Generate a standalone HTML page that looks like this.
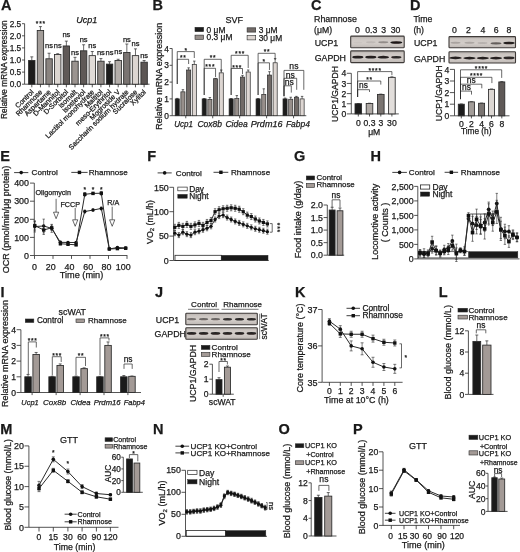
<!DOCTYPE html>
<html><head><meta charset="utf-8"><style>
html,body{margin:0;padding:0;background:#fff;}
svg{display:block;}
text{font-family:"Liberation Sans",Arial,sans-serif;stroke:#1a1a1a;stroke-width:0.25px;}
</style></head><body>
<svg width="520" height="552" viewBox="0 0 520 552" fill="#1a1a1a">
<rect width="520" height="552" fill="#fff"/>
<text x="1.05" y="10.2" font-size="14.5" font-weight="bold" stroke-width="0.1">A</text>
<text x="86.8" y="22.6" font-size="9" text-anchor="middle" font-style="italic">Ucp1</text>
<line x1="24.6" y1="23.7" x2="24.6" y2="84.2" stroke="#2a2a2a" stroke-width="0.8"/>
<line x1="22" y1="84.2" x2="24.6" y2="84.2" stroke="#2a2a2a" stroke-width="0.8"/>
<text x="21.2" y="87.19" font-size="8.3" text-anchor="end">0.0</text>
<line x1="22" y1="72.1" x2="24.6" y2="72.1" stroke="#2a2a2a" stroke-width="0.8"/>
<text x="21.2" y="75.09" font-size="8.3" text-anchor="end">0.5</text>
<line x1="22" y1="60" x2="24.6" y2="60" stroke="#2a2a2a" stroke-width="0.8"/>
<text x="21.2" y="62.99" font-size="8.3" text-anchor="end">1.0</text>
<line x1="22" y1="47.9" x2="24.6" y2="47.9" stroke="#2a2a2a" stroke-width="0.8"/>
<text x="21.2" y="50.89" font-size="8.3" text-anchor="end">1.5</text>
<line x1="22" y1="35.8" x2="24.6" y2="35.8" stroke="#2a2a2a" stroke-width="0.8"/>
<text x="21.2" y="38.79" font-size="8.3" text-anchor="end">2.0</text>
<line x1="22" y1="23.7" x2="24.6" y2="23.7" stroke="#2a2a2a" stroke-width="0.8"/>
<text x="21.2" y="26.69" font-size="8.3" text-anchor="end">2.5</text>
<text x="6.9" y="69.7" font-size="8.3" text-anchor="middle" transform="rotate(-90 6.9 69.7)">Relative mRNA expression</text>
<line x1="24.6" y1="84.2" x2="149.6" y2="84.2" stroke="#2a2a2a" stroke-width="0.8"/>
<line x1="31.8" y1="60.48" x2="31.8" y2="56.85" stroke="#2a2a2a" stroke-width="0.7"/>
<line x1="30.3" y1="56.85" x2="33.3" y2="56.85" stroke="#2a2a2a" stroke-width="0.7"/>
<rect x="28.6" y="60.48" width="6.4" height="23.72" fill="#1c1c1c" stroke="#2a2a2a" stroke-width="0.85"/>
<line x1="31.8" y1="84.2" x2="31.8" y2="87.3" stroke="#2a2a2a" stroke-width="0.8"/>
<text x="34.1" y="92.5" font-size="7.05" text-anchor="end" transform="rotate(-45 34.1 92.5)" stroke-width="0.1">Control</text>
<line x1="40.44" y1="30.48" x2="40.44" y2="26.6" stroke="#2a2a2a" stroke-width="0.7"/>
<line x1="38.94" y1="26.6" x2="41.94" y2="26.6" stroke="#2a2a2a" stroke-width="0.7"/>
<rect x="37.24" y="30.48" width="6.4" height="53.72" fill="#a39d99" stroke="#2a2a2a" stroke-width="0.85"/>
<line x1="40.44" y1="84.2" x2="40.44" y2="87.3" stroke="#2a2a2a" stroke-width="0.8"/>
<text x="42.74" y="92.5" font-size="7.05" text-anchor="end" transform="rotate(-45 42.74 92.5)" stroke-width="0.1">Rhamnose</text>
<text x="40.82" y="26.44" font-size="6.6" text-anchor="middle" letter-spacing="0.75">***</text>
<line x1="49.08" y1="58.79" x2="49.08" y2="53.22" stroke="#2a2a2a" stroke-width="0.7"/>
<line x1="47.58" y1="53.22" x2="50.58" y2="53.22" stroke="#2a2a2a" stroke-width="0.7"/>
<rect x="45.88" y="58.79" width="6.4" height="25.41" fill="#8a8480" stroke="#2a2a2a" stroke-width="0.85"/>
<line x1="49.08" y1="84.2" x2="49.08" y2="87.3" stroke="#2a2a2a" stroke-width="0.8"/>
<text x="51.38" y="92.5" font-size="7.05" text-anchor="end" transform="rotate(-45 51.38 92.5)" stroke-width="0.1">Aspartame</text>
<text x="49.08" y="47.9" font-size="7.5" text-anchor="middle">ns</text>
<line x1="57.72" y1="54.43" x2="57.72" y2="53.71" stroke="#2a2a2a" stroke-width="0.7"/>
<line x1="56.22" y1="53.71" x2="59.22" y2="53.71" stroke="#2a2a2a" stroke-width="0.7"/>
<rect x="54.52" y="54.43" width="6.4" height="29.77" fill="#dcd6d1" stroke="#2a2a2a" stroke-width="0.85"/>
<line x1="57.72" y1="84.2" x2="57.72" y2="87.3" stroke="#2a2a2a" stroke-width="0.8"/>
<text x="60.02" y="92.5" font-size="7.05" text-anchor="end" transform="rotate(-45 60.02 92.5)" stroke-width="0.1">D-Mannitol</text>
<text x="57.72" y="47.9" font-size="7.5" text-anchor="middle">ns</text>
<line x1="66.36" y1="45.96" x2="66.36" y2="41.12" stroke="#2a2a2a" stroke-width="0.7"/>
<line x1="64.86" y1="41.12" x2="67.86" y2="41.12" stroke="#2a2a2a" stroke-width="0.7"/>
<rect x="63.16" y="45.96" width="6.4" height="38.24" fill="#5f5957" stroke="#2a2a2a" stroke-width="0.85"/>
<line x1="66.36" y1="84.2" x2="66.36" y2="87.3" stroke="#2a2a2a" stroke-width="0.8"/>
<text x="68.66" y="92.5" font-size="7.05" text-anchor="end" transform="rotate(-45 68.66 92.5)" stroke-width="0.1">D-Sorbitol</text>
<text x="66.36" y="37.3" font-size="7.5" text-anchor="middle">ns</text>
<line x1="75" y1="61.21" x2="75" y2="57.34" stroke="#2a2a2a" stroke-width="0.7"/>
<line x1="73.5" y1="57.34" x2="76.5" y2="57.34" stroke="#2a2a2a" stroke-width="0.7"/>
<rect x="71.8" y="61.21" width="6.4" height="22.99" fill="#9b9490" stroke="#2a2a2a" stroke-width="0.85"/>
<line x1="75" y1="84.2" x2="75" y2="87.3" stroke="#2a2a2a" stroke-width="0.8"/>
<text x="77.3" y="92.5" font-size="7.05" text-anchor="end" transform="rotate(-45 77.3 92.5)" stroke-width="0.1">Isomalt</text>
<text x="75" y="54.8" font-size="7.5" text-anchor="middle">ns</text>
<line x1="83.64" y1="50.8" x2="83.64" y2="44.75" stroke="#2a2a2a" stroke-width="0.7"/>
<line x1="82.14" y1="44.75" x2="85.14" y2="44.75" stroke="#2a2a2a" stroke-width="0.7"/>
<rect x="80.44" y="50.8" width="6.4" height="33.4" fill="#5f5957" stroke="#2a2a2a" stroke-width="0.85"/>
<line x1="83.64" y1="84.2" x2="83.64" y2="87.3" stroke="#2a2a2a" stroke-width="0.8"/>
<text x="85.94" y="92.5" font-size="7.05" text-anchor="end" transform="rotate(-45 85.94 92.5)" stroke-width="0.1">Isosteviol</text>
<text x="83.64" y="41.5" font-size="7.5" text-anchor="middle">ns</text>
<line x1="92.28" y1="55.64" x2="92.28" y2="51.53" stroke="#2a2a2a" stroke-width="0.7"/>
<line x1="90.78" y1="51.53" x2="93.78" y2="51.53" stroke="#2a2a2a" stroke-width="0.7"/>
<rect x="89.08" y="55.64" width="6.4" height="28.56" fill="#e0dbd7" stroke="#2a2a2a" stroke-width="0.85"/>
<line x1="92.28" y1="84.2" x2="92.28" y2="87.3" stroke="#2a2a2a" stroke-width="0.8"/>
<text x="94.58" y="92.5" font-size="7.05" text-anchor="end" transform="rotate(-45 94.58 92.5)" stroke-width="0.1">Lactitol monohydrate</text>
<text x="92.28" y="47.9" font-size="7.5" text-anchor="middle">ns</text>
<line x1="100.92" y1="61.21" x2="100.92" y2="58.55" stroke="#2a2a2a" stroke-width="0.7"/>
<line x1="99.42" y1="58.55" x2="102.42" y2="58.55" stroke="#2a2a2a" stroke-width="0.7"/>
<rect x="97.72" y="61.21" width="6.4" height="22.99" fill="#8e8884" stroke="#2a2a2a" stroke-width="0.85"/>
<line x1="100.92" y1="84.2" x2="100.92" y2="87.3" stroke="#2a2a2a" stroke-width="0.8"/>
<text x="103.22" y="92.5" font-size="7.05" text-anchor="end" transform="rotate(-45 103.22 92.5)" stroke-width="0.1">Maltitol</text>
<text x="100.92" y="54.8" font-size="7.5" text-anchor="middle">ns</text>
<line x1="109.56" y1="64.11" x2="109.56" y2="61.69" stroke="#2a2a2a" stroke-width="0.7"/>
<line x1="108.06" y1="61.69" x2="111.06" y2="61.69" stroke="#2a2a2a" stroke-width="0.7"/>
<rect x="106.36" y="64.11" width="6.4" height="20.09" fill="#1c1c1c" stroke="#2a2a2a" stroke-width="0.85"/>
<line x1="109.56" y1="84.2" x2="109.56" y2="87.3" stroke="#2a2a2a" stroke-width="0.8"/>
<text x="111.86" y="92.5" font-size="7.05" text-anchor="end" transform="rotate(-45 111.86 92.5)" stroke-width="0.1">meso-Erythritol</text>
<text x="109.56" y="54.8" font-size="7.5" text-anchor="middle">ns</text>
<line x1="118.2" y1="60.48" x2="118.2" y2="59.27" stroke="#2a2a2a" stroke-width="0.7"/>
<line x1="116.7" y1="59.27" x2="119.7" y2="59.27" stroke="#2a2a2a" stroke-width="0.7"/>
<rect x="115" y="60.48" width="6.4" height="23.72" fill="#b3ada9" stroke="#2a2a2a" stroke-width="0.85"/>
<line x1="118.2" y1="84.2" x2="118.2" y2="87.3" stroke="#2a2a2a" stroke-width="0.8"/>
<text x="120.5" y="92.5" font-size="7.05" text-anchor="end" transform="rotate(-45 120.5 92.5)" stroke-width="0.1">Mogroside V</text>
<text x="118.2" y="54.2" font-size="7.5" text-anchor="middle">ns</text>
<line x1="126.84" y1="52.5" x2="126.84" y2="44.03" stroke="#2a2a2a" stroke-width="0.7"/>
<line x1="125.34" y1="44.03" x2="128.34" y2="44.03" stroke="#2a2a2a" stroke-width="0.7"/>
<rect x="123.64" y="52.5" width="6.4" height="31.7" fill="#7a7472" stroke="#2a2a2a" stroke-width="0.85"/>
<line x1="126.84" y1="84.2" x2="126.84" y2="87.3" stroke="#2a2a2a" stroke-width="0.8"/>
<text x="129.14" y="92.5" font-size="7.05" text-anchor="end" transform="rotate(-45 129.14 92.5)" stroke-width="0.1">Saccharin sodium hydrate</text>
<text x="126.84" y="41.5" font-size="7.5" text-anchor="middle">ns</text>
<line x1="135.48" y1="55.64" x2="135.48" y2="48.87" stroke="#2a2a2a" stroke-width="0.7"/>
<line x1="133.98" y1="48.87" x2="136.98" y2="48.87" stroke="#2a2a2a" stroke-width="0.7"/>
<rect x="132.28" y="55.64" width="6.4" height="28.56" fill="#dcd6d2" stroke="#2a2a2a" stroke-width="0.85"/>
<line x1="135.48" y1="84.2" x2="135.48" y2="87.3" stroke="#2a2a2a" stroke-width="0.8"/>
<text x="137.78" y="92.5" font-size="7.05" text-anchor="end" transform="rotate(-45 137.78 92.5)" stroke-width="0.1">Sucralose</text>
<text x="135.48" y="45.8" font-size="7.5" text-anchor="middle">ns</text>
<line x1="144.12" y1="62.18" x2="144.12" y2="60.48" stroke="#2a2a2a" stroke-width="0.7"/>
<line x1="142.62" y1="60.48" x2="145.62" y2="60.48" stroke="#2a2a2a" stroke-width="0.7"/>
<rect x="140.92" y="62.18" width="6.4" height="22.02" fill="#5c5654" stroke="#2a2a2a" stroke-width="0.85"/>
<line x1="144.12" y1="84.2" x2="144.12" y2="87.3" stroke="#2a2a2a" stroke-width="0.8"/>
<text x="146.42" y="92.5" font-size="7.05" text-anchor="end" transform="rotate(-45 146.42 92.5)" stroke-width="0.1">Xylitol</text>
<text x="144.12" y="57.8" font-size="7.5" text-anchor="middle">ns</text>
<text x="152.5" y="10.2" font-size="14.5" font-weight="bold" stroke-width="0.1">B</text>
<text x="225.6" y="22.6" font-size="9">SVF</text>
<rect x="195" y="27.3" width="8.6" height="4.3" fill="#1c1c1c" stroke="#2a2a2a" stroke-width="0.6"/>
<text x="206.6" y="32.5" font-size="8.4">0 μM</text>
<rect x="195" y="35.1" width="8.6" height="4.3" fill="#978f8b" stroke="#2a2a2a" stroke-width="0.6"/>
<text x="206.6" y="40.3" font-size="8.4">0.3 μM</text>
<rect x="247.1" y="27.8" width="8.6" height="4.3" fill="#716a67" stroke="#2a2a2a" stroke-width="0.6"/>
<text x="258.7" y="33" font-size="8.4">3 μM</text>
<rect x="247.1" y="35.6" width="8.6" height="4.3" fill="#ddd6d2" stroke="#2a2a2a" stroke-width="0.6"/>
<text x="258.7" y="40.8" font-size="8.4">30 μM</text>
<line x1="172.2" y1="48.5" x2="172.2" y2="115.7" stroke="#2a2a2a" stroke-width="0.8"/>
<line x1="169.6" y1="115.7" x2="172.2" y2="115.7" stroke="#2a2a2a" stroke-width="0.8"/>
<text x="168.8" y="118.72" font-size="8.4" text-anchor="end">0</text>
<line x1="169.6" y1="98.9" x2="172.2" y2="98.9" stroke="#2a2a2a" stroke-width="0.8"/>
<text x="168.8" y="101.92" font-size="8.4" text-anchor="end">1</text>
<line x1="169.6" y1="82.1" x2="172.2" y2="82.1" stroke="#2a2a2a" stroke-width="0.8"/>
<text x="168.8" y="85.12" font-size="8.4" text-anchor="end">2</text>
<line x1="169.6" y1="65.3" x2="172.2" y2="65.3" stroke="#2a2a2a" stroke-width="0.8"/>
<text x="168.8" y="68.32" font-size="8.4" text-anchor="end">3</text>
<line x1="169.6" y1="48.5" x2="172.2" y2="48.5" stroke="#2a2a2a" stroke-width="0.8"/>
<text x="168.8" y="51.52" font-size="8.4" text-anchor="end">4</text>
<text x="161.6" y="76.2" font-size="9" text-anchor="middle" transform="rotate(-90 161.6 76.2)">Relative mRNA expression</text>
<line x1="172.2" y1="115.7" x2="306.3" y2="115.7" stroke="#2a2a2a" stroke-width="0.8"/>
<line x1="177.25" y1="98.9" x2="177.25" y2="98.4" stroke="#2a2a2a" stroke-width="0.7"/>
<line x1="176.02" y1="98.4" x2="178.48" y2="98.4" stroke="#2a2a2a" stroke-width="0.7"/>
<rect x="175.2" y="98.9" width="4.1" height="16.8" fill="#1c1c1c" stroke="#2a2a2a" stroke-width="0.7"/>
<line x1="182.93" y1="91.84" x2="182.93" y2="89.66" stroke="#2a2a2a" stroke-width="0.7"/>
<line x1="181.7" y1="89.66" x2="184.16" y2="89.66" stroke="#2a2a2a" stroke-width="0.7"/>
<rect x="180.88" y="91.84" width="4.1" height="23.86" fill="#978f8b" stroke="#2a2a2a" stroke-width="0.7"/>
<line x1="188.61" y1="70" x2="188.61" y2="67.82" stroke="#2a2a2a" stroke-width="0.7"/>
<line x1="187.38" y1="67.82" x2="189.84" y2="67.82" stroke="#2a2a2a" stroke-width="0.7"/>
<rect x="186.56" y="70" width="4.1" height="45.7" fill="#716a67" stroke="#2a2a2a" stroke-width="0.7"/>
<line x1="194.29" y1="64.46" x2="194.29" y2="61.1" stroke="#2a2a2a" stroke-width="0.7"/>
<line x1="193.06" y1="61.1" x2="195.52" y2="61.1" stroke="#2a2a2a" stroke-width="0.7"/>
<rect x="192.24" y="64.46" width="4.1" height="51.24" fill="#ddd6d2" stroke="#2a2a2a" stroke-width="0.7"/>
<line x1="185.77" y1="115.7" x2="185.77" y2="118.3" stroke="#2a2a2a" stroke-width="0.8"/>
<line x1="204.2" y1="98.9" x2="204.2" y2="98.56" stroke="#2a2a2a" stroke-width="0.7"/>
<line x1="202.97" y1="98.56" x2="205.43" y2="98.56" stroke="#2a2a2a" stroke-width="0.7"/>
<rect x="202.15" y="98.9" width="4.1" height="16.8" fill="#1c1c1c" stroke="#2a2a2a" stroke-width="0.7"/>
<line x1="209.88" y1="99.4" x2="209.88" y2="97.56" stroke="#2a2a2a" stroke-width="0.7"/>
<line x1="208.65" y1="97.56" x2="211.11" y2="97.56" stroke="#2a2a2a" stroke-width="0.7"/>
<rect x="207.83" y="99.4" width="4.1" height="16.3" fill="#978f8b" stroke="#2a2a2a" stroke-width="0.7"/>
<line x1="215.56" y1="78.74" x2="215.56" y2="78.4" stroke="#2a2a2a" stroke-width="0.7"/>
<line x1="214.33" y1="78.4" x2="216.79" y2="78.4" stroke="#2a2a2a" stroke-width="0.7"/>
<rect x="213.51" y="78.74" width="4.1" height="36.96" fill="#716a67" stroke="#2a2a2a" stroke-width="0.7"/>
<line x1="221.24" y1="72.86" x2="221.24" y2="70" stroke="#2a2a2a" stroke-width="0.7"/>
<line x1="220.01" y1="70" x2="222.47" y2="70" stroke="#2a2a2a" stroke-width="0.7"/>
<rect x="219.19" y="72.86" width="4.1" height="42.84" fill="#ddd6d2" stroke="#2a2a2a" stroke-width="0.7"/>
<line x1="212.72" y1="115.7" x2="212.72" y2="118.3" stroke="#2a2a2a" stroke-width="0.8"/>
<line x1="231.15" y1="98.9" x2="231.15" y2="98.56" stroke="#2a2a2a" stroke-width="0.7"/>
<line x1="229.92" y1="98.56" x2="232.38" y2="98.56" stroke="#2a2a2a" stroke-width="0.7"/>
<rect x="229.1" y="98.9" width="4.1" height="16.8" fill="#1c1c1c" stroke="#2a2a2a" stroke-width="0.7"/>
<line x1="236.83" y1="98.56" x2="236.83" y2="95.54" stroke="#2a2a2a" stroke-width="0.7"/>
<line x1="235.6" y1="95.54" x2="238.06" y2="95.54" stroke="#2a2a2a" stroke-width="0.7"/>
<rect x="234.78" y="98.56" width="4.1" height="17.14" fill="#978f8b" stroke="#2a2a2a" stroke-width="0.7"/>
<line x1="242.51" y1="77.06" x2="242.51" y2="75.38" stroke="#2a2a2a" stroke-width="0.7"/>
<line x1="241.28" y1="75.38" x2="243.74" y2="75.38" stroke="#2a2a2a" stroke-width="0.7"/>
<rect x="240.46" y="77.06" width="4.1" height="38.64" fill="#716a67" stroke="#2a2a2a" stroke-width="0.7"/>
<line x1="248.19" y1="72.02" x2="248.19" y2="70" stroke="#2a2a2a" stroke-width="0.7"/>
<line x1="246.96" y1="70" x2="249.42" y2="70" stroke="#2a2a2a" stroke-width="0.7"/>
<rect x="246.14" y="72.02" width="4.1" height="43.68" fill="#ddd6d2" stroke="#2a2a2a" stroke-width="0.7"/>
<line x1="239.67" y1="115.7" x2="239.67" y2="118.3" stroke="#2a2a2a" stroke-width="0.8"/>
<line x1="258.1" y1="98.9" x2="258.1" y2="98.56" stroke="#2a2a2a" stroke-width="0.7"/>
<line x1="256.87" y1="98.56" x2="259.33" y2="98.56" stroke="#2a2a2a" stroke-width="0.7"/>
<rect x="256.05" y="98.9" width="4.1" height="16.8" fill="#1c1c1c" stroke="#2a2a2a" stroke-width="0.7"/>
<line x1="263.78" y1="94.36" x2="263.78" y2="88.82" stroke="#2a2a2a" stroke-width="0.7"/>
<line x1="262.55" y1="88.82" x2="265.01" y2="88.82" stroke="#2a2a2a" stroke-width="0.7"/>
<rect x="261.73" y="94.36" width="4.1" height="21.34" fill="#978f8b" stroke="#2a2a2a" stroke-width="0.7"/>
<line x1="269.46" y1="75.04" x2="269.46" y2="71.68" stroke="#2a2a2a" stroke-width="0.7"/>
<line x1="268.23" y1="71.68" x2="270.69" y2="71.68" stroke="#2a2a2a" stroke-width="0.7"/>
<rect x="267.41" y="75.04" width="4.1" height="40.66" fill="#716a67" stroke="#2a2a2a" stroke-width="0.7"/>
<line x1="275.14" y1="62.78" x2="275.14" y2="58.58" stroke="#2a2a2a" stroke-width="0.7"/>
<line x1="273.91" y1="58.58" x2="276.37" y2="58.58" stroke="#2a2a2a" stroke-width="0.7"/>
<rect x="273.09" y="62.78" width="4.1" height="52.92" fill="#ddd6d2" stroke="#2a2a2a" stroke-width="0.7"/>
<line x1="266.62" y1="115.7" x2="266.62" y2="118.3" stroke="#2a2a2a" stroke-width="0.8"/>
<line x1="285.05" y1="98.9" x2="285.05" y2="98.06" stroke="#2a2a2a" stroke-width="0.7"/>
<line x1="283.82" y1="98.06" x2="286.28" y2="98.06" stroke="#2a2a2a" stroke-width="0.7"/>
<rect x="283" y="98.9" width="4.1" height="16.8" fill="#1c1c1c" stroke="#2a2a2a" stroke-width="0.7"/>
<line x1="290.73" y1="99.24" x2="290.73" y2="97.22" stroke="#2a2a2a" stroke-width="0.7"/>
<line x1="289.5" y1="97.22" x2="291.96" y2="97.22" stroke="#2a2a2a" stroke-width="0.7"/>
<rect x="288.68" y="99.24" width="4.1" height="16.46" fill="#978f8b" stroke="#2a2a2a" stroke-width="0.7"/>
<line x1="296.41" y1="97.22" x2="296.41" y2="96.38" stroke="#2a2a2a" stroke-width="0.7"/>
<line x1="295.18" y1="96.38" x2="297.64" y2="96.38" stroke="#2a2a2a" stroke-width="0.7"/>
<rect x="294.36" y="97.22" width="4.1" height="18.48" fill="#716a67" stroke="#2a2a2a" stroke-width="0.7"/>
<line x1="302.09" y1="98.9" x2="302.09" y2="96.38" stroke="#2a2a2a" stroke-width="0.7"/>
<line x1="300.86" y1="96.38" x2="303.32" y2="96.38" stroke="#2a2a2a" stroke-width="0.7"/>
<rect x="300.04" y="98.9" width="4.1" height="16.8" fill="#ddd6d2" stroke="#2a2a2a" stroke-width="0.7"/>
<line x1="293.57" y1="115.7" x2="293.57" y2="118.3" stroke="#2a2a2a" stroke-width="0.8"/>
<text x="174.3" y="126.6" font-size="8.9" textLength="18.7" lengthAdjust="spacingAndGlyphs" font-style="italic">Ucp1</text>
<text x="197.4" y="126.6" font-size="8.9" textLength="24.5" lengthAdjust="spacingAndGlyphs" font-style="italic">Cox8b</text>
<text x="225.4" y="126.6" font-size="8.9" textLength="22.4" lengthAdjust="spacingAndGlyphs" font-style="italic">Cidea</text>
<text x="250.8" y="126.6" font-size="8.9" textLength="31.7" lengthAdjust="spacingAndGlyphs" font-style="italic">Prdm16</text>
<text x="285.9" y="126.6" font-size="8.9" textLength="24" lengthAdjust="spacingAndGlyphs" font-style="italic">Fabp4</text>
<polyline points="177.25,84 177.25,51.6 194.29,51.6 194.29,58" fill="none" stroke="#2a2a2a" stroke-width="0.7"/>
<text x="186.14" y="52.63" font-size="6.6" text-anchor="middle" letter-spacing="0.75">*</text>
<polyline points="177.25,84 177.25,59.3 188.61,59.3 188.61,64" fill="none" stroke="#2a2a2a" stroke-width="0.7"/>
<text x="183.31" y="60.33" font-size="6.6" text-anchor="middle" letter-spacing="0.75">**</text>
<polyline points="204.2,95 204.2,59.3 221.24,59.3 221.24,72" fill="none" stroke="#2a2a2a" stroke-width="0.7"/>
<text x="213.09" y="60.33" font-size="6.6" text-anchor="middle" letter-spacing="0.75">**</text>
<polyline points="204.2,95 204.2,68.3 215.56,68.3 215.56,77" fill="none" stroke="#2a2a2a" stroke-width="0.7"/>
<text x="210.25" y="69.33" font-size="6.6" text-anchor="middle" letter-spacing="0.75">***</text>
<polyline points="231.15,95 231.15,55.3 248.19,55.3 248.19,68" fill="none" stroke="#2a2a2a" stroke-width="0.7"/>
<text x="240.05" y="56.33" font-size="6.6" text-anchor="middle" letter-spacing="0.75">***</text>
<polyline points="231.15,95 231.15,68.5 242.51,68.5 242.51,74" fill="none" stroke="#2a2a2a" stroke-width="0.7"/>
<text x="237.2" y="69.53" font-size="6.6" text-anchor="middle" letter-spacing="0.75">***</text>
<polyline points="258.1,95 258.1,53.3 275.14,53.3 275.14,60" fill="none" stroke="#2a2a2a" stroke-width="0.7"/>
<text x="267" y="54.33" font-size="6.6" text-anchor="middle" letter-spacing="0.75">**</text>
<polyline points="258.1,95 258.1,62.8 269.46,62.8 269.46,70" fill="none" stroke="#2a2a2a" stroke-width="0.7"/>
<text x="264.15" y="63.83" font-size="6.6" text-anchor="middle" letter-spacing="0.75">*</text>
<polyline points="284,96.2 284,70.4 303.8,70.4 303.8,89.8" fill="none" stroke="#2a2a2a" stroke-width="0.7"/>
<text x="293.9" y="69" font-size="8.6" text-anchor="middle">ns</text>
<polyline points="284,96.2 284,78.3 296.7,78.3 296.7,89.8" fill="none" stroke="#2a2a2a" stroke-width="0.7"/>
<text x="290.35" y="77.6" font-size="8.6" text-anchor="middle">ns</text>
<polyline points="284,96.2 284,85.8 291.3,85.8 291.3,92.6" fill="none" stroke="#2a2a2a" stroke-width="0.7"/>
<text x="289.2" y="85.3" font-size="8.6" text-anchor="middle">ns</text>
<defs><filter id="bl" x="-50%" y="-50%" width="200%" height="200%"><feGaussianBlur stdDeviation="0.7"/></filter><filter id="bl2" x="-50%" y="-50%" width="200%" height="200%"><feGaussianBlur stdDeviation="0.45"/></filter><linearGradient id="blotg" x1="0" y1="0" x2="0" y2="1"><stop offset="0" stop-color="#b9b3af"/><stop offset="0.25" stop-color="#cdc7c3"/><stop offset="0.6" stop-color="#d3cdc9"/><stop offset="1" stop-color="#bfb9b5"/></linearGradient></defs>
<text x="311" y="10.2" font-size="14.5" font-weight="bold" stroke-width="0.1">C</text>
<text x="314" y="22.4" font-size="8.9">Rhamnose</text>
<text x="314" y="33.2" font-size="8.7">(μM)</text>
<text x="357.4" y="33.2" font-size="8.7" text-anchor="middle">0</text>
<text x="371.2" y="33.2" font-size="8.7" text-anchor="middle">0.3</text>
<text x="383.6" y="33.2" font-size="8.7" text-anchor="middle">3</text>
<text x="395.5" y="33.2" font-size="8.7" text-anchor="middle">30</text>
<text x="314.7" y="45.9" font-size="8.8">UCP1</text>
<text x="314.7" y="61.3" font-size="8.8">GAPDH</text>
<rect x="350.7" y="36.1" width="53.5" height="11.7" rx="0.8" fill="url(#blotg)" stroke="#3e3a38" stroke-width="1.1"/>
<ellipse cx="357.8" cy="42.6" rx="4.5" ry="0.92" fill="#1a1616" opacity="0.04" filter="url(#bl2)"/>
<ellipse cx="370.8" cy="42.3" rx="4.8" ry="0.95" fill="#1a1616" opacity="0.1" filter="url(#bl2)"/>
<ellipse cx="383.3" cy="42.2" rx="5" ry="1.06" fill="#1a1616" opacity="0.35" filter="url(#bl2)"/>
<ellipse cx="396.3" cy="42.5" rx="6" ry="1.35" fill="#1a1616" opacity="1" filter="url(#bl2)"/>
<rect x="350.7" y="50.9" width="53.5" height="11.7" rx="0.8" fill="url(#blotg)" stroke="#3e3a38" stroke-width="1.1"/>
<ellipse cx="357.8" cy="57.2" rx="5.6" ry="1.33" fill="#1a1616" opacity="0.95" filter="url(#bl2)"/>
<ellipse cx="370.8" cy="57.2" rx="5.6" ry="1.33" fill="#1a1616" opacity="0.95" filter="url(#bl2)"/>
<ellipse cx="383.3" cy="57.2" rx="5.8" ry="1.33" fill="#1a1616" opacity="0.95" filter="url(#bl2)"/>
<ellipse cx="396.3" cy="57.2" rx="5.2" ry="1.31" fill="#1a1616" opacity="0.9" filter="url(#bl2)"/>
<line x1="351.3" y1="73.3" x2="351.3" y2="113.9" stroke="#2a2a2a" stroke-width="0.8"/>
<line x1="346.8" y1="113.9" x2="351.3" y2="113.9" stroke="#2a2a2a" stroke-width="0.8"/>
<text x="346.2" y="117" font-size="8.6" text-anchor="end">0</text>
<line x1="346.8" y1="103.75" x2="351.3" y2="103.75" stroke="#2a2a2a" stroke-width="0.8"/>
<text x="346.2" y="106.85" font-size="8.6" text-anchor="end">1</text>
<line x1="346.8" y1="93.6" x2="351.3" y2="93.6" stroke="#2a2a2a" stroke-width="0.8"/>
<text x="346.2" y="96.7" font-size="8.6" text-anchor="end">2</text>
<line x1="346.8" y1="83.45" x2="351.3" y2="83.45" stroke="#2a2a2a" stroke-width="0.8"/>
<text x="346.2" y="86.55" font-size="8.6" text-anchor="end">3</text>
<line x1="346.8" y1="73.3" x2="351.3" y2="73.3" stroke="#2a2a2a" stroke-width="0.8"/>
<text x="346.2" y="76.4" font-size="8.6" text-anchor="end">4</text>
<text x="338.2" y="94" font-size="8.6" text-anchor="middle" transform="rotate(-90 338.2 94)">UCP1/GAPDH</text>
<line x1="351.4" y1="113.9" x2="398.8" y2="113.9" stroke="#2a2a2a" stroke-width="0.8"/>
<line x1="358.3" y1="103.75" x2="358.3" y2="103.55" stroke="#2a2a2a" stroke-width="0.7"/>
<line x1="356.8" y1="103.55" x2="359.8" y2="103.55" stroke="#2a2a2a" stroke-width="0.7"/>
<rect x="355" y="103.75" width="6.6" height="10.15" fill="#1c1c1c" stroke="#2a2a2a" stroke-width="0.85"/>
<line x1="358.3" y1="113.9" x2="358.3" y2="116.5" stroke="#2a2a2a" stroke-width="0.8"/>
<text x="358.3" y="126.3" font-size="8.6" text-anchor="middle">0</text>
<line x1="369.5" y1="103.45" x2="369.5" y2="103.24" stroke="#2a2a2a" stroke-width="0.7"/>
<line x1="368" y1="103.24" x2="371" y2="103.24" stroke="#2a2a2a" stroke-width="0.7"/>
<rect x="366.2" y="103.45" width="6.6" height="10.45" fill="#b0aaa6" stroke="#2a2a2a" stroke-width="0.85"/>
<line x1="369.5" y1="113.9" x2="369.5" y2="116.5" stroke="#2a2a2a" stroke-width="0.8"/>
<text x="369.5" y="126.3" font-size="8.6" text-anchor="middle">0.3</text>
<line x1="380.8" y1="94.41" x2="380.8" y2="94.11" stroke="#2a2a2a" stroke-width="0.7"/>
<line x1="379.3" y1="94.11" x2="382.3" y2="94.11" stroke="#2a2a2a" stroke-width="0.7"/>
<rect x="377.5" y="94.41" width="6.6" height="19.49" fill="#7a7471" stroke="#2a2a2a" stroke-width="0.85"/>
<line x1="380.8" y1="113.9" x2="380.8" y2="116.5" stroke="#2a2a2a" stroke-width="0.8"/>
<text x="380.8" y="126.3" font-size="8.6" text-anchor="middle">3</text>
<line x1="391.9" y1="77.36" x2="391.9" y2="76.85" stroke="#2a2a2a" stroke-width="0.7"/>
<line x1="390.4" y1="76.85" x2="393.4" y2="76.85" stroke="#2a2a2a" stroke-width="0.7"/>
<rect x="388.6" y="77.36" width="6.6" height="36.54" fill="#e2dedb" stroke="#2a2a2a" stroke-width="0.85"/>
<line x1="391.9" y1="113.9" x2="391.9" y2="116.5" stroke="#2a2a2a" stroke-width="0.8"/>
<text x="391.9" y="126.3" font-size="8.6" text-anchor="middle">30</text>
<text x="374.2" y="134.6" font-size="8.6" text-anchor="middle">μM</text>
<polyline points="357.6,97 357.6,71.6 391.9,71.6 391.9,75.2" fill="none" stroke="#2a2a2a" stroke-width="0.7"/>
<text x="375.12" y="72.63" font-size="6.6" text-anchor="middle" letter-spacing="0.75">****</text>
<polyline points="357.6,97 357.6,81 380.8,81 380.8,84.6" fill="none" stroke="#2a2a2a" stroke-width="0.7"/>
<text x="369.58" y="82.03" font-size="6.6" text-anchor="middle" letter-spacing="0.75">**</text>
<polyline points="357.6,97 357.6,89.7 369.5,89.7 369.5,92" fill="none" stroke="#2a2a2a" stroke-width="0.7"/>
<text x="363.55" y="88.2" font-size="8.4" text-anchor="middle">ns</text>
<text x="410" y="10.2" font-size="14.5" font-weight="bold" stroke-width="0.1">D</text>
<text x="413.4" y="22.4" font-size="8.7">Time</text>
<text x="413.4" y="33.2" font-size="8.7">(h)</text>
<text x="454.4" y="33.2" font-size="8.7" text-anchor="middle">0</text>
<text x="468.4" y="33.2" font-size="8.7" text-anchor="middle">2</text>
<text x="482.8" y="33.2" font-size="8.7" text-anchor="middle">4</text>
<text x="496.1" y="33.2" font-size="8.7" text-anchor="middle">6</text>
<text x="508.9" y="33.2" font-size="8.7" text-anchor="middle">8</text>
<text x="414" y="45.9" font-size="8.8">UCP1</text>
<text x="414" y="61.5" font-size="8.8">GAPDH</text>
<rect x="449" y="36.6" width="66.5" height="11.2" rx="0.8" fill="url(#blotg)" stroke="#3e3a38" stroke-width="1.1"/>
<ellipse cx="455.5" cy="42.8" rx="5" ry="1" fill="#1a1616" opacity="0.22" filter="url(#bl2)"/>
<ellipse cx="469.5" cy="42.8" rx="5" ry="0.99" fill="#1a1616" opacity="0.2" filter="url(#bl2)"/>
<ellipse cx="482.5" cy="43" rx="5" ry="0.96" fill="#1a1616" opacity="0.14" filter="url(#bl2)"/>
<ellipse cx="496" cy="43.3" rx="5.5" ry="1.17" fill="#1a1616" opacity="0.6" filter="url(#bl2)"/>
<ellipse cx="509" cy="43" rx="5.8" ry="1.33" fill="#1a1616" opacity="0.95" filter="url(#bl2)"/>
<rect x="449" y="51.8" width="66.5" height="11.2" rx="0.8" fill="url(#blotg)" stroke="#3e3a38" stroke-width="1.1"/>
<ellipse cx="455.5" cy="57.9" rx="6.2" ry="1.33" fill="#1a1616" opacity="0.95" filter="url(#bl2)"/>
<ellipse cx="469.5" cy="58.1" rx="6.2" ry="1.33" fill="#1a1616" opacity="0.95" filter="url(#bl2)"/>
<ellipse cx="482.8" cy="58.1" rx="6.2" ry="1.33" fill="#1a1616" opacity="0.95" filter="url(#bl2)"/>
<ellipse cx="496" cy="58.1" rx="6.2" ry="1.33" fill="#1a1616" opacity="0.95" filter="url(#bl2)"/>
<ellipse cx="509" cy="57.9" rx="5.6" ry="1.31" fill="#1a1616" opacity="0.9" filter="url(#bl2)"/>
<line x1="454.5" y1="69.4" x2="454.5" y2="115.8" stroke="#2a2a2a" stroke-width="0.8"/>
<line x1="449.9" y1="115.8" x2="454.5" y2="115.8" stroke="#2a2a2a" stroke-width="0.8"/>
<text x="449.3" y="118.9" font-size="8.6" text-anchor="end">0</text>
<line x1="449.9" y1="104.2" x2="454.5" y2="104.2" stroke="#2a2a2a" stroke-width="0.8"/>
<text x="449.3" y="107.3" font-size="8.6" text-anchor="end">1</text>
<line x1="449.9" y1="92.6" x2="454.5" y2="92.6" stroke="#2a2a2a" stroke-width="0.8"/>
<text x="449.3" y="95.7" font-size="8.6" text-anchor="end">2</text>
<line x1="449.9" y1="81" x2="454.5" y2="81" stroke="#2a2a2a" stroke-width="0.8"/>
<text x="449.3" y="84.1" font-size="8.6" text-anchor="end">3</text>
<line x1="449.9" y1="69.4" x2="454.5" y2="69.4" stroke="#2a2a2a" stroke-width="0.8"/>
<text x="449.3" y="72.5" font-size="8.6" text-anchor="end">4</text>
<text x="441.7" y="93.2" font-size="8.6" text-anchor="middle" transform="rotate(-90 441.7 93.2)">UCP1/GAPDH</text>
<line x1="454.6" y1="115.8" x2="509.5" y2="115.8" stroke="#2a2a2a" stroke-width="0.8"/>
<line x1="461.3" y1="104.2" x2="461.3" y2="103.97" stroke="#2a2a2a" stroke-width="0.7"/>
<line x1="459.8" y1="103.97" x2="462.8" y2="103.97" stroke="#2a2a2a" stroke-width="0.7"/>
<rect x="458.3" y="104.2" width="6" height="11.6" fill="#1c1c1c" stroke="#2a2a2a" stroke-width="0.85"/>
<line x1="461.3" y1="115.8" x2="461.3" y2="118.4" stroke="#2a2a2a" stroke-width="0.8"/>
<text x="461.3" y="126.6" font-size="8.6" text-anchor="middle">0</text>
<line x1="471.4" y1="101.88" x2="471.4" y2="101.65" stroke="#2a2a2a" stroke-width="0.7"/>
<line x1="469.9" y1="101.65" x2="472.9" y2="101.65" stroke="#2a2a2a" stroke-width="0.7"/>
<rect x="468.4" y="101.88" width="6" height="13.92" fill="#a39d99" stroke="#2a2a2a" stroke-width="0.85"/>
<line x1="471.4" y1="115.8" x2="471.4" y2="118.4" stroke="#2a2a2a" stroke-width="0.8"/>
<text x="471.4" y="126.6" font-size="8.6" text-anchor="middle">2</text>
<line x1="481.6" y1="103.27" x2="481.6" y2="103.04" stroke="#2a2a2a" stroke-width="0.7"/>
<line x1="480.1" y1="103.04" x2="483.1" y2="103.04" stroke="#2a2a2a" stroke-width="0.7"/>
<rect x="478.6" y="103.27" width="6" height="12.53" fill="#7a7471" stroke="#2a2a2a" stroke-width="0.85"/>
<line x1="481.6" y1="115.8" x2="481.6" y2="118.4" stroke="#2a2a2a" stroke-width="0.8"/>
<text x="481.6" y="126.6" font-size="8.6" text-anchor="middle">4</text>
<line x1="491.5" y1="89.35" x2="491.5" y2="89" stroke="#2a2a2a" stroke-width="0.7"/>
<line x1="490" y1="89" x2="493" y2="89" stroke="#2a2a2a" stroke-width="0.7"/>
<rect x="488.5" y="89.35" width="6" height="26.45" fill="#dcd7d3" stroke="#2a2a2a" stroke-width="0.85"/>
<line x1="491.5" y1="115.8" x2="491.5" y2="118.4" stroke="#2a2a2a" stroke-width="0.8"/>
<text x="491.5" y="126.6" font-size="8.6" text-anchor="middle">6</text>
<line x1="501.8" y1="81.93" x2="501.8" y2="81.58" stroke="#2a2a2a" stroke-width="0.7"/>
<line x1="500.3" y1="81.58" x2="503.3" y2="81.58" stroke="#2a2a2a" stroke-width="0.7"/>
<rect x="498.8" y="81.93" width="6" height="33.87" fill="#5f5957" stroke="#2a2a2a" stroke-width="0.85"/>
<line x1="501.8" y1="115.8" x2="501.8" y2="118.4" stroke="#2a2a2a" stroke-width="0.8"/>
<text x="501.8" y="126.6" font-size="8.6" text-anchor="middle">8</text>
<text x="476.2" y="134.2" font-size="8.3" text-anchor="middle">Time (h)</text>
<polyline points="460.5,99.1 460.5,69.8 501.7,69.8 501.7,77.9" fill="none" stroke="#2a2a2a" stroke-width="0.7"/>
<text x="481.48" y="70.83" font-size="6.6" text-anchor="middle" letter-spacing="0.75">****</text>
<polyline points="460.5,99.1 460.5,77.3 491.9,77.3 491.9,83.1" fill="none" stroke="#2a2a2a" stroke-width="0.7"/>
<text x="476.57" y="78.33" font-size="6.6" text-anchor="middle" letter-spacing="0.75">****</text>
<polyline points="460.5,99.1 460.5,84.2 481.8,84.2 481.8,88.3" fill="none" stroke="#2a2a2a" stroke-width="0.7"/>
<text x="471.15" y="83.1" font-size="8.4" text-anchor="middle">ns</text>
<polyline points="460.5,99.1 460.5,91.1 471.5,91.1 471.5,94.6" fill="none" stroke="#2a2a2a" stroke-width="0.7"/>
<text x="466.4" y="90" font-size="8.4" text-anchor="middle">ns</text>
<text x="0.3" y="160.5" font-size="14.5" font-weight="bold" stroke-width="0.1">E</text>
<line x1="14.1" y1="172.6" x2="28.3" y2="172.6" stroke="#2a2a2a" stroke-width="0.9"/>
<circle cx="21.2" cy="172.6" r="1.8" fill="#111"/>
<text x="31.6" y="175.2" font-size="8.1">Control</text>
<line x1="71.3" y1="172.4" x2="87.6" y2="172.4" stroke="#2a2a2a" stroke-width="0.9"/>
<rect x="77.74" y="170.69" width="3.42" height="3.42" fill="#111"/>
<text x="88.7" y="175" font-size="8.1">Rhamnose</text>
<line x1="34.3" y1="183.1" x2="34.3" y2="255.5" stroke="#2a2a2a" stroke-width="0.8"/>
<line x1="30" y1="255.5" x2="34.3" y2="255.5" stroke="#2a2a2a" stroke-width="0.8"/>
<text x="29" y="258.7" font-size="8.9" text-anchor="end">0</text>
<line x1="30" y1="237.4" x2="34.3" y2="237.4" stroke="#2a2a2a" stroke-width="0.8"/>
<text x="29" y="240.6" font-size="8.9" text-anchor="end">100</text>
<line x1="30" y1="219.3" x2="34.3" y2="219.3" stroke="#2a2a2a" stroke-width="0.8"/>
<text x="29" y="222.5" font-size="8.9" text-anchor="end">200</text>
<line x1="30" y1="201.2" x2="34.3" y2="201.2" stroke="#2a2a2a" stroke-width="0.8"/>
<text x="29" y="204.4" font-size="8.9" text-anchor="end">300</text>
<line x1="30" y1="183.1" x2="34.3" y2="183.1" stroke="#2a2a2a" stroke-width="0.8"/>
<text x="29" y="186.3" font-size="8.9" text-anchor="end">400</text>
<text x="8.6" y="219.5" font-size="9" text-anchor="middle" transform="rotate(-90 8.6 219.5)">OCR (pmol/min/μg protein)</text>
<line x1="34.3" y1="255.5" x2="127.3" y2="255.5" stroke="#2a2a2a" stroke-width="0.8"/>
<line x1="34.5" y1="255.5" x2="34.5" y2="258.9" stroke="#2a2a2a" stroke-width="0.8"/>
<line x1="53" y1="255.5" x2="53" y2="258.9" stroke="#2a2a2a" stroke-width="0.8"/>
<line x1="71.5" y1="255.5" x2="71.5" y2="258.9" stroke="#2a2a2a" stroke-width="0.8"/>
<line x1="90" y1="255.5" x2="90" y2="258.9" stroke="#2a2a2a" stroke-width="0.8"/>
<line x1="108.5" y1="255.5" x2="108.5" y2="258.9" stroke="#2a2a2a" stroke-width="0.8"/>
<line x1="127" y1="255.5" x2="127" y2="258.9" stroke="#2a2a2a" stroke-width="0.8"/>
<text x="34.5" y="270.2" font-size="8.9" text-anchor="middle">0</text>
<text x="50.7" y="270.2" font-size="8.9" text-anchor="middle">20</text>
<text x="69.4" y="270.2" font-size="8.9" text-anchor="middle">40</text>
<text x="88.2" y="270.2" font-size="8.9" text-anchor="middle">60</text>
<text x="106.5" y="270.2" font-size="8.9" text-anchor="middle">80</text>
<text x="123.2" y="270.2" font-size="8.9" text-anchor="middle">100</text>
<text x="81.5" y="277.9" font-size="9.2" text-anchor="middle">Time (min)</text>
<text x="35.4" y="194.6" font-size="7.2">Oligomycin</text>
<line x1="56.1" y1="198.8" x2="56.1" y2="212.2" stroke="#2a2a2a" stroke-width="0.7"/>
<polygon points="53.5,212.2 58.7,212.2 56.1,218.7" fill="#fff" stroke="#2a2a2a" stroke-width="0.7"/>
<text x="60.4" y="207.2" font-size="7.2">FCCP</text>
<line x1="75.2" y1="208" x2="75.2" y2="219.8" stroke="#2a2a2a" stroke-width="0.7"/>
<polygon points="72.6,219.8 77.8,219.8 75.2,226.3" fill="#fff" stroke="#2a2a2a" stroke-width="0.7"/>
<text x="107.2" y="205" font-size="7.2">R/A</text>
<line x1="112.2" y1="206.7" x2="112.2" y2="219.8" stroke="#2a2a2a" stroke-width="0.7"/>
<polygon points="109.6,219.8 114.8,219.8 112.2,226.3" fill="#fff" stroke="#2a2a2a" stroke-width="0.7"/>
<polyline points="34.8,226.54 43.7,226 51.7,228.35 60.4,242.29 68,242.47 76.1,242.47 84.8,211.52 93,210.07 101.3,208.44 109.3,248.98 117.4,247.54 125.7,247.9" fill="none" stroke="#2a2a2a" stroke-width="1"/>
<line x1="34.8" y1="221.11" x2="34.8" y2="231.97" stroke="#2a2a2a" stroke-width="0.6"/>
<line x1="33.6" y1="221.11" x2="36" y2="221.11" stroke="#2a2a2a" stroke-width="0.6"/>
<line x1="33.6" y1="231.97" x2="36" y2="231.97" stroke="#2a2a2a" stroke-width="0.6"/>
<line x1="43.7" y1="219.12" x2="43.7" y2="232.88" stroke="#2a2a2a" stroke-width="0.6"/>
<line x1="42.5" y1="219.12" x2="44.9" y2="219.12" stroke="#2a2a2a" stroke-width="0.6"/>
<line x1="42.5" y1="232.88" x2="44.9" y2="232.88" stroke="#2a2a2a" stroke-width="0.6"/>
<line x1="51.7" y1="224.37" x2="51.7" y2="232.33" stroke="#2a2a2a" stroke-width="0.6"/>
<line x1="50.5" y1="224.37" x2="52.9" y2="224.37" stroke="#2a2a2a" stroke-width="0.6"/>
<line x1="50.5" y1="232.33" x2="52.9" y2="232.33" stroke="#2a2a2a" stroke-width="0.6"/>
<line x1="60.4" y1="241.2" x2="60.4" y2="243.37" stroke="#2a2a2a" stroke-width="0.6"/>
<line x1="59.2" y1="241.2" x2="61.6" y2="241.2" stroke="#2a2a2a" stroke-width="0.6"/>
<line x1="59.2" y1="243.37" x2="61.6" y2="243.37" stroke="#2a2a2a" stroke-width="0.6"/>
<line x1="68" y1="241.56" x2="68" y2="243.37" stroke="#2a2a2a" stroke-width="0.6"/>
<line x1="66.8" y1="241.56" x2="69.2" y2="241.56" stroke="#2a2a2a" stroke-width="0.6"/>
<line x1="66.8" y1="243.37" x2="69.2" y2="243.37" stroke="#2a2a2a" stroke-width="0.6"/>
<line x1="76.1" y1="241.56" x2="76.1" y2="243.37" stroke="#2a2a2a" stroke-width="0.6"/>
<line x1="74.9" y1="241.56" x2="77.3" y2="241.56" stroke="#2a2a2a" stroke-width="0.6"/>
<line x1="74.9" y1="243.37" x2="77.3" y2="243.37" stroke="#2a2a2a" stroke-width="0.6"/>
<line x1="84.8" y1="210.07" x2="84.8" y2="212.97" stroke="#2a2a2a" stroke-width="0.6"/>
<line x1="83.6" y1="210.07" x2="86" y2="210.07" stroke="#2a2a2a" stroke-width="0.6"/>
<line x1="83.6" y1="212.97" x2="86" y2="212.97" stroke="#2a2a2a" stroke-width="0.6"/>
<line x1="93" y1="208.98" x2="93" y2="211.16" stroke="#2a2a2a" stroke-width="0.6"/>
<line x1="91.8" y1="208.98" x2="94.2" y2="208.98" stroke="#2a2a2a" stroke-width="0.6"/>
<line x1="91.8" y1="211.16" x2="94.2" y2="211.16" stroke="#2a2a2a" stroke-width="0.6"/>
<line x1="101.3" y1="206.99" x2="101.3" y2="209.89" stroke="#2a2a2a" stroke-width="0.6"/>
<line x1="100.1" y1="206.99" x2="102.5" y2="206.99" stroke="#2a2a2a" stroke-width="0.6"/>
<line x1="100.1" y1="209.89" x2="102.5" y2="209.89" stroke="#2a2a2a" stroke-width="0.6"/>
<line x1="109.3" y1="248.44" x2="109.3" y2="249.53" stroke="#2a2a2a" stroke-width="0.6"/>
<line x1="108.1" y1="248.44" x2="110.5" y2="248.44" stroke="#2a2a2a" stroke-width="0.6"/>
<line x1="108.1" y1="249.53" x2="110.5" y2="249.53" stroke="#2a2a2a" stroke-width="0.6"/>
<line x1="117.4" y1="246.81" x2="117.4" y2="248.26" stroke="#2a2a2a" stroke-width="0.6"/>
<line x1="116.2" y1="246.81" x2="118.6" y2="246.81" stroke="#2a2a2a" stroke-width="0.6"/>
<line x1="116.2" y1="248.26" x2="118.6" y2="248.26" stroke="#2a2a2a" stroke-width="0.6"/>
<line x1="125.7" y1="247.17" x2="125.7" y2="248.62" stroke="#2a2a2a" stroke-width="0.6"/>
<line x1="124.5" y1="247.17" x2="126.9" y2="247.17" stroke="#2a2a2a" stroke-width="0.6"/>
<line x1="124.5" y1="248.62" x2="126.9" y2="248.62" stroke="#2a2a2a" stroke-width="0.6"/>
<circle cx="34.8" cy="226.54" r="1.7" fill="#111"/>
<circle cx="43.7" cy="226" r="1.7" fill="#111"/>
<circle cx="51.7" cy="228.35" r="1.7" fill="#111"/>
<circle cx="60.4" cy="242.29" r="1.7" fill="#111"/>
<circle cx="68" cy="242.47" r="1.7" fill="#111"/>
<circle cx="76.1" cy="242.47" r="1.7" fill="#111"/>
<circle cx="84.8" cy="211.52" r="1.7" fill="#111"/>
<circle cx="93" cy="210.07" r="1.7" fill="#111"/>
<circle cx="101.3" cy="208.44" r="1.7" fill="#111"/>
<circle cx="109.3" cy="248.98" r="1.7" fill="#111"/>
<circle cx="117.4" cy="247.54" r="1.7" fill="#111"/>
<circle cx="125.7" cy="247.9" r="1.7" fill="#111"/>
<polyline points="34.8,225.63 43.7,229.98 51.7,227.81 60.4,243.74 68,244.28 76.1,244.82 84.8,194.32 93,193.42 101.3,193.24 109.3,248.98 117.4,248.62 125.7,248.26" fill="none" stroke="#2a2a2a" stroke-width="1"/>
<line x1="34.8" y1="221.11" x2="34.8" y2="230.16" stroke="#2a2a2a" stroke-width="0.6"/>
<line x1="33.6" y1="221.11" x2="36" y2="221.11" stroke="#2a2a2a" stroke-width="0.6"/>
<line x1="33.6" y1="230.16" x2="36" y2="230.16" stroke="#2a2a2a" stroke-width="0.6"/>
<line x1="43.7" y1="225.45" x2="43.7" y2="234.5" stroke="#2a2a2a" stroke-width="0.6"/>
<line x1="42.5" y1="225.45" x2="44.9" y2="225.45" stroke="#2a2a2a" stroke-width="0.6"/>
<line x1="42.5" y1="234.5" x2="44.9" y2="234.5" stroke="#2a2a2a" stroke-width="0.6"/>
<line x1="51.7" y1="225.09" x2="51.7" y2="230.52" stroke="#2a2a2a" stroke-width="0.6"/>
<line x1="50.5" y1="225.09" x2="52.9" y2="225.09" stroke="#2a2a2a" stroke-width="0.6"/>
<line x1="50.5" y1="230.52" x2="52.9" y2="230.52" stroke="#2a2a2a" stroke-width="0.6"/>
<line x1="60.4" y1="242.65" x2="60.4" y2="244.82" stroke="#2a2a2a" stroke-width="0.6"/>
<line x1="59.2" y1="242.65" x2="61.6" y2="242.65" stroke="#2a2a2a" stroke-width="0.6"/>
<line x1="59.2" y1="244.82" x2="61.6" y2="244.82" stroke="#2a2a2a" stroke-width="0.6"/>
<line x1="68" y1="243.37" x2="68" y2="245.18" stroke="#2a2a2a" stroke-width="0.6"/>
<line x1="66.8" y1="243.37" x2="69.2" y2="243.37" stroke="#2a2a2a" stroke-width="0.6"/>
<line x1="66.8" y1="245.18" x2="69.2" y2="245.18" stroke="#2a2a2a" stroke-width="0.6"/>
<line x1="76.1" y1="243.92" x2="76.1" y2="245.73" stroke="#2a2a2a" stroke-width="0.6"/>
<line x1="74.9" y1="243.92" x2="77.3" y2="243.92" stroke="#2a2a2a" stroke-width="0.6"/>
<line x1="74.9" y1="245.73" x2="77.3" y2="245.73" stroke="#2a2a2a" stroke-width="0.6"/>
<line x1="84.8" y1="192.51" x2="84.8" y2="196.13" stroke="#2a2a2a" stroke-width="0.6"/>
<line x1="83.6" y1="192.51" x2="86" y2="192.51" stroke="#2a2a2a" stroke-width="0.6"/>
<line x1="83.6" y1="196.13" x2="86" y2="196.13" stroke="#2a2a2a" stroke-width="0.6"/>
<line x1="93" y1="192.33" x2="93" y2="194.5" stroke="#2a2a2a" stroke-width="0.6"/>
<line x1="91.8" y1="192.33" x2="94.2" y2="192.33" stroke="#2a2a2a" stroke-width="0.6"/>
<line x1="91.8" y1="194.5" x2="94.2" y2="194.5" stroke="#2a2a2a" stroke-width="0.6"/>
<line x1="101.3" y1="191.43" x2="101.3" y2="195.05" stroke="#2a2a2a" stroke-width="0.6"/>
<line x1="100.1" y1="191.43" x2="102.5" y2="191.43" stroke="#2a2a2a" stroke-width="0.6"/>
<line x1="100.1" y1="195.05" x2="102.5" y2="195.05" stroke="#2a2a2a" stroke-width="0.6"/>
<line x1="109.3" y1="248.44" x2="109.3" y2="249.53" stroke="#2a2a2a" stroke-width="0.6"/>
<line x1="108.1" y1="248.44" x2="110.5" y2="248.44" stroke="#2a2a2a" stroke-width="0.6"/>
<line x1="108.1" y1="249.53" x2="110.5" y2="249.53" stroke="#2a2a2a" stroke-width="0.6"/>
<line x1="117.4" y1="247.9" x2="117.4" y2="249.35" stroke="#2a2a2a" stroke-width="0.6"/>
<line x1="116.2" y1="247.9" x2="118.6" y2="247.9" stroke="#2a2a2a" stroke-width="0.6"/>
<line x1="116.2" y1="249.35" x2="118.6" y2="249.35" stroke="#2a2a2a" stroke-width="0.6"/>
<line x1="125.7" y1="247.54" x2="125.7" y2="248.98" stroke="#2a2a2a" stroke-width="0.6"/>
<line x1="124.5" y1="247.54" x2="126.9" y2="247.54" stroke="#2a2a2a" stroke-width="0.6"/>
<line x1="124.5" y1="248.98" x2="126.9" y2="248.98" stroke="#2a2a2a" stroke-width="0.6"/>
<rect x="33.1" y="223.94" width="3.4" height="3.4" fill="#111"/>
<rect x="42" y="228.28" width="3.4" height="3.4" fill="#111"/>
<rect x="50" y="226.11" width="3.4" height="3.4" fill="#111"/>
<rect x="58.7" y="242.04" width="3.4" height="3.4" fill="#111"/>
<rect x="66.3" y="242.58" width="3.4" height="3.4" fill="#111"/>
<rect x="74.4" y="243.12" width="3.4" height="3.4" fill="#111"/>
<rect x="83.1" y="192.62" width="3.4" height="3.4" fill="#111"/>
<rect x="91.3" y="191.72" width="3.4" height="3.4" fill="#111"/>
<rect x="99.6" y="191.54" width="3.4" height="3.4" fill="#111"/>
<rect x="107.6" y="247.28" width="3.4" height="3.4" fill="#111"/>
<rect x="115.7" y="246.92" width="3.4" height="3.4" fill="#111"/>
<rect x="124" y="246.56" width="3.4" height="3.4" fill="#111"/>
<text x="85.17" y="191.73" font-size="6.6" text-anchor="middle" letter-spacing="0.75">*</text>
<text x="93.38" y="191.73" font-size="6.6" text-anchor="middle" letter-spacing="0.75">*</text>
<text x="101.67" y="191.73" font-size="6.6" text-anchor="middle" letter-spacing="0.75">*</text>
<text x="147.3" y="160.5" font-size="14.5" font-weight="bold" stroke-width="0.1">F</text>
<line x1="157.6" y1="172.9" x2="171.7" y2="172.9" stroke="#2a2a2a" stroke-width="0.9"/>
<circle cx="164.65" cy="172.9" r="1.8" fill="#111"/>
<text x="175.8" y="175.5" font-size="8.1">Control</text>
<line x1="213.5" y1="172.3" x2="228.3" y2="172.3" stroke="#2a2a2a" stroke-width="0.9"/>
<rect x="219.19" y="170.59" width="3.42" height="3.42" fill="#111"/>
<text x="231" y="174.9" font-size="8.1">Rhamnose</text>
<line x1="173.6" y1="187.3" x2="173.6" y2="260.5" stroke="#2a2a2a" stroke-width="0.8"/>
<line x1="169.4" y1="260.5" x2="173.6" y2="260.5" stroke="#2a2a2a" stroke-width="0.8"/>
<text x="168.8" y="263.7" font-size="8.9" text-anchor="end">0</text>
<line x1="169.4" y1="236.1" x2="173.6" y2="236.1" stroke="#2a2a2a" stroke-width="0.8"/>
<text x="168.8" y="239.3" font-size="8.9" text-anchor="end">50</text>
<line x1="169.4" y1="211.7" x2="173.6" y2="211.7" stroke="#2a2a2a" stroke-width="0.8"/>
<text x="168.8" y="214.9" font-size="8.9" text-anchor="end">100</text>
<line x1="169.4" y1="187.3" x2="173.6" y2="187.3" stroke="#2a2a2a" stroke-width="0.8"/>
<text x="168.8" y="190.5" font-size="8.9" text-anchor="end">150</text>
<text x="152.6" y="222" font-size="8.8" text-anchor="middle" transform="rotate(-90 152.6 222)">VO<tspan font-size="6" dy="1.5">2</tspan><tspan dy="-1.5"> (mL/h)</tspan></text>
<rect x="177.8" y="187.1" width="9.4" height="3.7" fill="#fff" stroke="#2a2a2a" stroke-width="0.7"/>
<text x="189.2" y="191.9" font-size="8.3">Day</text>
<rect x="177.8" y="194.4" width="9.4" height="3.8" fill="#1a1a1a" stroke="#2a2a2a" stroke-width="0.5"/>
<text x="189.2" y="199.3" font-size="8.3">Night</text>
<rect x="175" y="255.3" width="46.3" height="5.2" fill="#fff" stroke="#2a2a2a" stroke-width="0.8"/>
<rect x="221.3" y="255.3" width="46.7" height="5.2" fill="#1a1a1a" stroke="#2a2a2a" stroke-width="0.5"/>
<line x1="173.75" y1="260.5" x2="268.75" y2="260.5" stroke="#2a2a2a" stroke-width="0.8"/>
<polyline points="174.8,233.17 178.83,235.12 182.85,232.2 186.88,234.15 190.9,235.12 194.93,232.2 198.96,231.22 202.98,229.76 207.01,228.29 211.03,226.34 215.06,219.51 219.09,216.09 223.11,215.12 227.14,217.56 231.17,219.51 235.19,221.46 239.22,222.92 243.24,224.39 247.27,225.85 251.3,227.32 255.32,228.78 259.35,229.76 263.37,230.73 267.4,231.71" fill="none" stroke="#2a2a2a" stroke-width="1"/>
<line x1="174.8" y1="230.67" x2="174.8" y2="235.67" stroke="#2a2a2a" stroke-width="0.6"/>
<line x1="173.6" y1="230.67" x2="176" y2="230.67" stroke="#2a2a2a" stroke-width="0.6"/>
<line x1="173.6" y1="235.67" x2="176" y2="235.67" stroke="#2a2a2a" stroke-width="0.6"/>
<line x1="178.83" y1="232.62" x2="178.83" y2="237.62" stroke="#2a2a2a" stroke-width="0.6"/>
<line x1="177.63" y1="232.62" x2="180.03" y2="232.62" stroke="#2a2a2a" stroke-width="0.6"/>
<line x1="177.63" y1="237.62" x2="180.03" y2="237.62" stroke="#2a2a2a" stroke-width="0.6"/>
<line x1="182.85" y1="229.7" x2="182.85" y2="234.7" stroke="#2a2a2a" stroke-width="0.6"/>
<line x1="181.65" y1="229.7" x2="184.05" y2="229.7" stroke="#2a2a2a" stroke-width="0.6"/>
<line x1="181.65" y1="234.7" x2="184.05" y2="234.7" stroke="#2a2a2a" stroke-width="0.6"/>
<line x1="186.88" y1="231.65" x2="186.88" y2="236.65" stroke="#2a2a2a" stroke-width="0.6"/>
<line x1="185.68" y1="231.65" x2="188.08" y2="231.65" stroke="#2a2a2a" stroke-width="0.6"/>
<line x1="185.68" y1="236.65" x2="188.08" y2="236.65" stroke="#2a2a2a" stroke-width="0.6"/>
<line x1="190.9" y1="232.62" x2="190.9" y2="237.62" stroke="#2a2a2a" stroke-width="0.6"/>
<line x1="189.7" y1="232.62" x2="192.1" y2="232.62" stroke="#2a2a2a" stroke-width="0.6"/>
<line x1="189.7" y1="237.62" x2="192.1" y2="237.62" stroke="#2a2a2a" stroke-width="0.6"/>
<line x1="194.93" y1="229.7" x2="194.93" y2="234.7" stroke="#2a2a2a" stroke-width="0.6"/>
<line x1="193.73" y1="229.7" x2="196.13" y2="229.7" stroke="#2a2a2a" stroke-width="0.6"/>
<line x1="193.73" y1="234.7" x2="196.13" y2="234.7" stroke="#2a2a2a" stroke-width="0.6"/>
<line x1="198.96" y1="228.72" x2="198.96" y2="233.72" stroke="#2a2a2a" stroke-width="0.6"/>
<line x1="197.76" y1="228.72" x2="200.16" y2="228.72" stroke="#2a2a2a" stroke-width="0.6"/>
<line x1="197.76" y1="233.72" x2="200.16" y2="233.72" stroke="#2a2a2a" stroke-width="0.6"/>
<line x1="202.98" y1="227.26" x2="202.98" y2="232.26" stroke="#2a2a2a" stroke-width="0.6"/>
<line x1="201.78" y1="227.26" x2="204.18" y2="227.26" stroke="#2a2a2a" stroke-width="0.6"/>
<line x1="201.78" y1="232.26" x2="204.18" y2="232.26" stroke="#2a2a2a" stroke-width="0.6"/>
<line x1="207.01" y1="225.79" x2="207.01" y2="230.79" stroke="#2a2a2a" stroke-width="0.6"/>
<line x1="205.81" y1="225.79" x2="208.21" y2="225.79" stroke="#2a2a2a" stroke-width="0.6"/>
<line x1="205.81" y1="230.79" x2="208.21" y2="230.79" stroke="#2a2a2a" stroke-width="0.6"/>
<line x1="211.03" y1="223.84" x2="211.03" y2="228.84" stroke="#2a2a2a" stroke-width="0.6"/>
<line x1="209.83" y1="223.84" x2="212.23" y2="223.84" stroke="#2a2a2a" stroke-width="0.6"/>
<line x1="209.83" y1="228.84" x2="212.23" y2="228.84" stroke="#2a2a2a" stroke-width="0.6"/>
<line x1="215.06" y1="217.01" x2="215.06" y2="222.01" stroke="#2a2a2a" stroke-width="0.6"/>
<line x1="213.86" y1="217.01" x2="216.26" y2="217.01" stroke="#2a2a2a" stroke-width="0.6"/>
<line x1="213.86" y1="222.01" x2="216.26" y2="222.01" stroke="#2a2a2a" stroke-width="0.6"/>
<line x1="219.09" y1="213.59" x2="219.09" y2="218.59" stroke="#2a2a2a" stroke-width="0.6"/>
<line x1="217.89" y1="213.59" x2="220.29" y2="213.59" stroke="#2a2a2a" stroke-width="0.6"/>
<line x1="217.89" y1="218.59" x2="220.29" y2="218.59" stroke="#2a2a2a" stroke-width="0.6"/>
<line x1="223.11" y1="212.62" x2="223.11" y2="217.62" stroke="#2a2a2a" stroke-width="0.6"/>
<line x1="221.91" y1="212.62" x2="224.31" y2="212.62" stroke="#2a2a2a" stroke-width="0.6"/>
<line x1="221.91" y1="217.62" x2="224.31" y2="217.62" stroke="#2a2a2a" stroke-width="0.6"/>
<line x1="227.14" y1="215.06" x2="227.14" y2="220.06" stroke="#2a2a2a" stroke-width="0.6"/>
<line x1="225.94" y1="215.06" x2="228.34" y2="215.06" stroke="#2a2a2a" stroke-width="0.6"/>
<line x1="225.94" y1="220.06" x2="228.34" y2="220.06" stroke="#2a2a2a" stroke-width="0.6"/>
<line x1="231.17" y1="217.01" x2="231.17" y2="222.01" stroke="#2a2a2a" stroke-width="0.6"/>
<line x1="229.97" y1="217.01" x2="232.37" y2="217.01" stroke="#2a2a2a" stroke-width="0.6"/>
<line x1="229.97" y1="222.01" x2="232.37" y2="222.01" stroke="#2a2a2a" stroke-width="0.6"/>
<line x1="235.19" y1="218.96" x2="235.19" y2="223.96" stroke="#2a2a2a" stroke-width="0.6"/>
<line x1="233.99" y1="218.96" x2="236.39" y2="218.96" stroke="#2a2a2a" stroke-width="0.6"/>
<line x1="233.99" y1="223.96" x2="236.39" y2="223.96" stroke="#2a2a2a" stroke-width="0.6"/>
<line x1="239.22" y1="220.42" x2="239.22" y2="225.42" stroke="#2a2a2a" stroke-width="0.6"/>
<line x1="238.02" y1="220.42" x2="240.42" y2="220.42" stroke="#2a2a2a" stroke-width="0.6"/>
<line x1="238.02" y1="225.42" x2="240.42" y2="225.42" stroke="#2a2a2a" stroke-width="0.6"/>
<line x1="243.24" y1="221.89" x2="243.24" y2="226.89" stroke="#2a2a2a" stroke-width="0.6"/>
<line x1="242.04" y1="221.89" x2="244.44" y2="221.89" stroke="#2a2a2a" stroke-width="0.6"/>
<line x1="242.04" y1="226.89" x2="244.44" y2="226.89" stroke="#2a2a2a" stroke-width="0.6"/>
<line x1="247.27" y1="223.35" x2="247.27" y2="228.35" stroke="#2a2a2a" stroke-width="0.6"/>
<line x1="246.07" y1="223.35" x2="248.47" y2="223.35" stroke="#2a2a2a" stroke-width="0.6"/>
<line x1="246.07" y1="228.35" x2="248.47" y2="228.35" stroke="#2a2a2a" stroke-width="0.6"/>
<line x1="251.3" y1="224.82" x2="251.3" y2="229.82" stroke="#2a2a2a" stroke-width="0.6"/>
<line x1="250.1" y1="224.82" x2="252.5" y2="224.82" stroke="#2a2a2a" stroke-width="0.6"/>
<line x1="250.1" y1="229.82" x2="252.5" y2="229.82" stroke="#2a2a2a" stroke-width="0.6"/>
<line x1="255.32" y1="226.28" x2="255.32" y2="231.28" stroke="#2a2a2a" stroke-width="0.6"/>
<line x1="254.12" y1="226.28" x2="256.52" y2="226.28" stroke="#2a2a2a" stroke-width="0.6"/>
<line x1="254.12" y1="231.28" x2="256.52" y2="231.28" stroke="#2a2a2a" stroke-width="0.6"/>
<line x1="259.35" y1="227.26" x2="259.35" y2="232.26" stroke="#2a2a2a" stroke-width="0.6"/>
<line x1="258.15" y1="227.26" x2="260.55" y2="227.26" stroke="#2a2a2a" stroke-width="0.6"/>
<line x1="258.15" y1="232.26" x2="260.55" y2="232.26" stroke="#2a2a2a" stroke-width="0.6"/>
<line x1="263.37" y1="228.23" x2="263.37" y2="233.23" stroke="#2a2a2a" stroke-width="0.6"/>
<line x1="262.17" y1="228.23" x2="264.57" y2="228.23" stroke="#2a2a2a" stroke-width="0.6"/>
<line x1="262.17" y1="233.23" x2="264.57" y2="233.23" stroke="#2a2a2a" stroke-width="0.6"/>
<line x1="267.4" y1="229.21" x2="267.4" y2="234.21" stroke="#2a2a2a" stroke-width="0.6"/>
<line x1="266.2" y1="229.21" x2="268.6" y2="229.21" stroke="#2a2a2a" stroke-width="0.6"/>
<line x1="266.2" y1="234.21" x2="268.6" y2="234.21" stroke="#2a2a2a" stroke-width="0.6"/>
<circle cx="174.8" cy="233.17" r="1.65" fill="#111"/>
<circle cx="178.83" cy="235.12" r="1.65" fill="#111"/>
<circle cx="182.85" cy="232.2" r="1.65" fill="#111"/>
<circle cx="186.88" cy="234.15" r="1.65" fill="#111"/>
<circle cx="190.9" cy="235.12" r="1.65" fill="#111"/>
<circle cx="194.93" cy="232.2" r="1.65" fill="#111"/>
<circle cx="198.96" cy="231.22" r="1.65" fill="#111"/>
<circle cx="202.98" cy="229.76" r="1.65" fill="#111"/>
<circle cx="207.01" cy="228.29" r="1.65" fill="#111"/>
<circle cx="211.03" cy="226.34" r="1.65" fill="#111"/>
<circle cx="215.06" cy="219.51" r="1.65" fill="#111"/>
<circle cx="219.09" cy="216.09" r="1.65" fill="#111"/>
<circle cx="223.11" cy="215.12" r="1.65" fill="#111"/>
<circle cx="227.14" cy="217.56" r="1.65" fill="#111"/>
<circle cx="231.17" cy="219.51" r="1.65" fill="#111"/>
<circle cx="235.19" cy="221.46" r="1.65" fill="#111"/>
<circle cx="239.22" cy="222.92" r="1.65" fill="#111"/>
<circle cx="243.24" cy="224.39" r="1.65" fill="#111"/>
<circle cx="247.27" cy="225.85" r="1.65" fill="#111"/>
<circle cx="251.3" cy="227.32" r="1.65" fill="#111"/>
<circle cx="255.32" cy="228.78" r="1.65" fill="#111"/>
<circle cx="259.35" cy="229.76" r="1.65" fill="#111"/>
<circle cx="263.37" cy="230.73" r="1.65" fill="#111"/>
<circle cx="267.4" cy="231.71" r="1.65" fill="#111"/>
<polyline points="174.8,227.32 178.83,225.36 182.85,226.34 186.88,224.39 190.9,226.34 194.93,224.88 198.96,223.41 202.98,225.36 207.01,222.44 211.03,220.48 215.06,211.7 219.09,209.75 223.11,208.77 227.14,208.28 231.17,207.8 235.19,208.28 239.22,209.26 243.24,211.7 247.27,215.12 251.3,216.58 255.32,219.02 259.35,220.97 263.37,222.44 267.4,223.9" fill="none" stroke="#2a2a2a" stroke-width="1"/>
<line x1="174.8" y1="224.32" x2="174.8" y2="230.32" stroke="#2a2a2a" stroke-width="0.6"/>
<line x1="173.6" y1="224.32" x2="176" y2="224.32" stroke="#2a2a2a" stroke-width="0.6"/>
<line x1="173.6" y1="230.32" x2="176" y2="230.32" stroke="#2a2a2a" stroke-width="0.6"/>
<line x1="178.83" y1="222.36" x2="178.83" y2="228.36" stroke="#2a2a2a" stroke-width="0.6"/>
<line x1="177.63" y1="222.36" x2="180.03" y2="222.36" stroke="#2a2a2a" stroke-width="0.6"/>
<line x1="177.63" y1="228.36" x2="180.03" y2="228.36" stroke="#2a2a2a" stroke-width="0.6"/>
<line x1="182.85" y1="223.34" x2="182.85" y2="229.34" stroke="#2a2a2a" stroke-width="0.6"/>
<line x1="181.65" y1="223.34" x2="184.05" y2="223.34" stroke="#2a2a2a" stroke-width="0.6"/>
<line x1="181.65" y1="229.34" x2="184.05" y2="229.34" stroke="#2a2a2a" stroke-width="0.6"/>
<line x1="186.88" y1="221.39" x2="186.88" y2="227.39" stroke="#2a2a2a" stroke-width="0.6"/>
<line x1="185.68" y1="221.39" x2="188.08" y2="221.39" stroke="#2a2a2a" stroke-width="0.6"/>
<line x1="185.68" y1="227.39" x2="188.08" y2="227.39" stroke="#2a2a2a" stroke-width="0.6"/>
<line x1="190.9" y1="223.34" x2="190.9" y2="229.34" stroke="#2a2a2a" stroke-width="0.6"/>
<line x1="189.7" y1="223.34" x2="192.1" y2="223.34" stroke="#2a2a2a" stroke-width="0.6"/>
<line x1="189.7" y1="229.34" x2="192.1" y2="229.34" stroke="#2a2a2a" stroke-width="0.6"/>
<line x1="194.93" y1="221.88" x2="194.93" y2="227.88" stroke="#2a2a2a" stroke-width="0.6"/>
<line x1="193.73" y1="221.88" x2="196.13" y2="221.88" stroke="#2a2a2a" stroke-width="0.6"/>
<line x1="193.73" y1="227.88" x2="196.13" y2="227.88" stroke="#2a2a2a" stroke-width="0.6"/>
<line x1="198.96" y1="220.41" x2="198.96" y2="226.41" stroke="#2a2a2a" stroke-width="0.6"/>
<line x1="197.76" y1="220.41" x2="200.16" y2="220.41" stroke="#2a2a2a" stroke-width="0.6"/>
<line x1="197.76" y1="226.41" x2="200.16" y2="226.41" stroke="#2a2a2a" stroke-width="0.6"/>
<line x1="202.98" y1="222.36" x2="202.98" y2="228.36" stroke="#2a2a2a" stroke-width="0.6"/>
<line x1="201.78" y1="222.36" x2="204.18" y2="222.36" stroke="#2a2a2a" stroke-width="0.6"/>
<line x1="201.78" y1="228.36" x2="204.18" y2="228.36" stroke="#2a2a2a" stroke-width="0.6"/>
<line x1="207.01" y1="219.44" x2="207.01" y2="225.44" stroke="#2a2a2a" stroke-width="0.6"/>
<line x1="205.81" y1="219.44" x2="208.21" y2="219.44" stroke="#2a2a2a" stroke-width="0.6"/>
<line x1="205.81" y1="225.44" x2="208.21" y2="225.44" stroke="#2a2a2a" stroke-width="0.6"/>
<line x1="211.03" y1="217.48" x2="211.03" y2="223.48" stroke="#2a2a2a" stroke-width="0.6"/>
<line x1="209.83" y1="217.48" x2="212.23" y2="217.48" stroke="#2a2a2a" stroke-width="0.6"/>
<line x1="209.83" y1="223.48" x2="212.23" y2="223.48" stroke="#2a2a2a" stroke-width="0.6"/>
<line x1="215.06" y1="208.7" x2="215.06" y2="214.7" stroke="#2a2a2a" stroke-width="0.6"/>
<line x1="213.86" y1="208.7" x2="216.26" y2="208.7" stroke="#2a2a2a" stroke-width="0.6"/>
<line x1="213.86" y1="214.7" x2="216.26" y2="214.7" stroke="#2a2a2a" stroke-width="0.6"/>
<line x1="219.09" y1="206.75" x2="219.09" y2="212.75" stroke="#2a2a2a" stroke-width="0.6"/>
<line x1="217.89" y1="206.75" x2="220.29" y2="206.75" stroke="#2a2a2a" stroke-width="0.6"/>
<line x1="217.89" y1="212.75" x2="220.29" y2="212.75" stroke="#2a2a2a" stroke-width="0.6"/>
<line x1="223.11" y1="205.77" x2="223.11" y2="211.77" stroke="#2a2a2a" stroke-width="0.6"/>
<line x1="221.91" y1="205.77" x2="224.31" y2="205.77" stroke="#2a2a2a" stroke-width="0.6"/>
<line x1="221.91" y1="211.77" x2="224.31" y2="211.77" stroke="#2a2a2a" stroke-width="0.6"/>
<line x1="227.14" y1="205.28" x2="227.14" y2="211.28" stroke="#2a2a2a" stroke-width="0.6"/>
<line x1="225.94" y1="205.28" x2="228.34" y2="205.28" stroke="#2a2a2a" stroke-width="0.6"/>
<line x1="225.94" y1="211.28" x2="228.34" y2="211.28" stroke="#2a2a2a" stroke-width="0.6"/>
<line x1="231.17" y1="204.8" x2="231.17" y2="210.8" stroke="#2a2a2a" stroke-width="0.6"/>
<line x1="229.97" y1="204.8" x2="232.37" y2="204.8" stroke="#2a2a2a" stroke-width="0.6"/>
<line x1="229.97" y1="210.8" x2="232.37" y2="210.8" stroke="#2a2a2a" stroke-width="0.6"/>
<line x1="235.19" y1="205.28" x2="235.19" y2="211.28" stroke="#2a2a2a" stroke-width="0.6"/>
<line x1="233.99" y1="205.28" x2="236.39" y2="205.28" stroke="#2a2a2a" stroke-width="0.6"/>
<line x1="233.99" y1="211.28" x2="236.39" y2="211.28" stroke="#2a2a2a" stroke-width="0.6"/>
<line x1="239.22" y1="206.26" x2="239.22" y2="212.26" stroke="#2a2a2a" stroke-width="0.6"/>
<line x1="238.02" y1="206.26" x2="240.42" y2="206.26" stroke="#2a2a2a" stroke-width="0.6"/>
<line x1="238.02" y1="212.26" x2="240.42" y2="212.26" stroke="#2a2a2a" stroke-width="0.6"/>
<line x1="243.24" y1="208.7" x2="243.24" y2="214.7" stroke="#2a2a2a" stroke-width="0.6"/>
<line x1="242.04" y1="208.7" x2="244.44" y2="208.7" stroke="#2a2a2a" stroke-width="0.6"/>
<line x1="242.04" y1="214.7" x2="244.44" y2="214.7" stroke="#2a2a2a" stroke-width="0.6"/>
<line x1="247.27" y1="212.12" x2="247.27" y2="218.12" stroke="#2a2a2a" stroke-width="0.6"/>
<line x1="246.07" y1="212.12" x2="248.47" y2="212.12" stroke="#2a2a2a" stroke-width="0.6"/>
<line x1="246.07" y1="218.12" x2="248.47" y2="218.12" stroke="#2a2a2a" stroke-width="0.6"/>
<line x1="251.3" y1="213.58" x2="251.3" y2="219.58" stroke="#2a2a2a" stroke-width="0.6"/>
<line x1="250.1" y1="213.58" x2="252.5" y2="213.58" stroke="#2a2a2a" stroke-width="0.6"/>
<line x1="250.1" y1="219.58" x2="252.5" y2="219.58" stroke="#2a2a2a" stroke-width="0.6"/>
<line x1="255.32" y1="216.02" x2="255.32" y2="222.02" stroke="#2a2a2a" stroke-width="0.6"/>
<line x1="254.12" y1="216.02" x2="256.52" y2="216.02" stroke="#2a2a2a" stroke-width="0.6"/>
<line x1="254.12" y1="222.02" x2="256.52" y2="222.02" stroke="#2a2a2a" stroke-width="0.6"/>
<line x1="259.35" y1="217.97" x2="259.35" y2="223.97" stroke="#2a2a2a" stroke-width="0.6"/>
<line x1="258.15" y1="217.97" x2="260.55" y2="217.97" stroke="#2a2a2a" stroke-width="0.6"/>
<line x1="258.15" y1="223.97" x2="260.55" y2="223.97" stroke="#2a2a2a" stroke-width="0.6"/>
<line x1="263.37" y1="219.44" x2="263.37" y2="225.44" stroke="#2a2a2a" stroke-width="0.6"/>
<line x1="262.17" y1="219.44" x2="264.57" y2="219.44" stroke="#2a2a2a" stroke-width="0.6"/>
<line x1="262.17" y1="225.44" x2="264.57" y2="225.44" stroke="#2a2a2a" stroke-width="0.6"/>
<line x1="267.4" y1="220.9" x2="267.4" y2="226.9" stroke="#2a2a2a" stroke-width="0.6"/>
<line x1="266.2" y1="220.9" x2="268.6" y2="220.9" stroke="#2a2a2a" stroke-width="0.6"/>
<line x1="266.2" y1="226.9" x2="268.6" y2="226.9" stroke="#2a2a2a" stroke-width="0.6"/>
<rect x="173.2" y="225.72" width="3.2" height="3.2" fill="#111"/>
<rect x="177.23" y="223.76" width="3.2" height="3.2" fill="#111"/>
<rect x="181.25" y="224.74" width="3.2" height="3.2" fill="#111"/>
<rect x="185.28" y="222.79" width="3.2" height="3.2" fill="#111"/>
<rect x="189.3" y="224.74" width="3.2" height="3.2" fill="#111"/>
<rect x="193.33" y="223.28" width="3.2" height="3.2" fill="#111"/>
<rect x="197.36" y="221.81" width="3.2" height="3.2" fill="#111"/>
<rect x="201.38" y="223.76" width="3.2" height="3.2" fill="#111"/>
<rect x="205.41" y="220.84" width="3.2" height="3.2" fill="#111"/>
<rect x="209.43" y="218.88" width="3.2" height="3.2" fill="#111"/>
<rect x="213.46" y="210.1" width="3.2" height="3.2" fill="#111"/>
<rect x="217.49" y="208.15" width="3.2" height="3.2" fill="#111"/>
<rect x="221.51" y="207.17" width="3.2" height="3.2" fill="#111"/>
<rect x="225.54" y="206.68" width="3.2" height="3.2" fill="#111"/>
<rect x="229.57" y="206.2" width="3.2" height="3.2" fill="#111"/>
<rect x="233.59" y="206.68" width="3.2" height="3.2" fill="#111"/>
<rect x="237.62" y="207.66" width="3.2" height="3.2" fill="#111"/>
<rect x="241.64" y="210.1" width="3.2" height="3.2" fill="#111"/>
<rect x="245.67" y="213.52" width="3.2" height="3.2" fill="#111"/>
<rect x="249.7" y="214.98" width="3.2" height="3.2" fill="#111"/>
<rect x="253.72" y="217.42" width="3.2" height="3.2" fill="#111"/>
<rect x="257.75" y="219.37" width="3.2" height="3.2" fill="#111"/>
<rect x="261.77" y="220.84" width="3.2" height="3.2" fill="#111"/>
<rect x="265.8" y="222.3" width="3.2" height="3.2" fill="#111"/>
<polyline points="269.8,223.6 272.2,223.6 272.2,232.2 269.8,232.2" fill="none" stroke="#2a2a2a" stroke-width="0.7"/>
<text x="274.6" y="227.9" font-size="6.6" text-anchor="middle" transform="rotate(90 274.6 227.9)" letter-spacing="0.9">***</text>
<text x="294.1" y="160.5" font-size="14.5" font-weight="bold" stroke-width="0.1">G</text>
<rect x="306.3" y="176" width="8.3" height="3.9" fill="#1a1a1a" stroke="#2a2a2a" stroke-width="0.6"/>
<text x="316.6" y="179.9" font-size="7.9">Control</text>
<rect x="306.3" y="183.4" width="8.3" height="4" fill="#a39a96" stroke="#2a2a2a" stroke-width="0.6"/>
<text x="316.6" y="187.3" font-size="7.9">Rhamnose</text>
<line x1="327.3" y1="205" x2="327.3" y2="255.2" stroke="#2a2a2a" stroke-width="0.8"/>
<line x1="323.6" y1="255.2" x2="327.3" y2="255.2" stroke="#2a2a2a" stroke-width="0.8"/>
<text x="323" y="258.37" font-size="8.8" text-anchor="end">0.0</text>
<line x1="323.6" y1="242.65" x2="327.3" y2="242.65" stroke="#2a2a2a" stroke-width="0.8"/>
<text x="323" y="245.82" font-size="8.8" text-anchor="end">0.5</text>
<line x1="323.6" y1="230.1" x2="327.3" y2="230.1" stroke="#2a2a2a" stroke-width="0.8"/>
<text x="323" y="233.27" font-size="8.8" text-anchor="end">1.0</text>
<line x1="323.6" y1="217.55" x2="327.3" y2="217.55" stroke="#2a2a2a" stroke-width="0.8"/>
<text x="323" y="220.72" font-size="8.8" text-anchor="end">1.5</text>
<line x1="323.6" y1="205" x2="327.3" y2="205" stroke="#2a2a2a" stroke-width="0.8"/>
<text x="323" y="208.17" font-size="8.8" text-anchor="end">2.0</text>
<text x="300.6" y="219.5" font-size="9" text-anchor="middle" transform="rotate(-90 300.6 219.5)">Food intake (g/day)</text>
<line x1="327.3" y1="255.2" x2="344.2" y2="255.2" stroke="#2a2a2a" stroke-width="0.8"/>
<line x1="332.15" y1="210.02" x2="332.15" y2="207.26" stroke="#2a2a2a" stroke-width="0.7"/>
<line x1="330.65" y1="207.26" x2="333.65" y2="207.26" stroke="#2a2a2a" stroke-width="0.7"/>
<rect x="329.2" y="210.02" width="5.9" height="45.18" fill="#1a1a1a" stroke="#2a2a2a" stroke-width="0.85"/>
<line x1="340" y1="210.77" x2="340" y2="208.01" stroke="#2a2a2a" stroke-width="0.7"/>
<line x1="338.5" y1="208.01" x2="341.5" y2="208.01" stroke="#2a2a2a" stroke-width="0.7"/>
<rect x="337.1" y="210.77" width="5.8" height="44.43" fill="#a39a96" stroke="#2a2a2a" stroke-width="0.85"/>
<polyline points="332.1,207.3 332.1,199.8 340,199.8 340,207.3" fill="none" stroke="#2a2a2a" stroke-width="0.7"/>
<text x="336.05" y="197.8" font-size="8.4" text-anchor="middle">ns</text>
<text x="370.5" y="160.5" font-size="14.5" font-weight="bold" stroke-width="0.1">H</text>
<line x1="392.3" y1="172.4" x2="406.9" y2="172.4" stroke="#2a2a2a" stroke-width="0.9"/>
<circle cx="399.6" cy="172.4" r="1.8" fill="#111"/>
<text x="408.8" y="175" font-size="8.1">Control</text>
<line x1="444.6" y1="172.3" x2="458.1" y2="172.3" stroke="#2a2a2a" stroke-width="0.9"/>
<rect x="449.64" y="170.59" width="3.42" height="3.42" fill="#111"/>
<text x="460.8" y="174.9" font-size="8.1">Rhamnose</text>
<line x1="417.8" y1="186.4" x2="417.8" y2="258.9" stroke="#2a2a2a" stroke-width="0.8"/>
<line x1="414.2" y1="258.9" x2="417.8" y2="258.9" stroke="#2a2a2a" stroke-width="0.8"/>
<text x="413.6" y="262.07" font-size="8.8" text-anchor="end">0</text>
<line x1="414.2" y1="244.4" x2="417.8" y2="244.4" stroke="#2a2a2a" stroke-width="0.8"/>
<text x="413.6" y="247.57" font-size="8.8" text-anchor="end">500</text>
<line x1="414.2" y1="229.9" x2="417.8" y2="229.9" stroke="#2a2a2a" stroke-width="0.8"/>
<text x="413.6" y="233.07" font-size="8.8" text-anchor="end">1,000</text>
<line x1="414.2" y1="215.4" x2="417.8" y2="215.4" stroke="#2a2a2a" stroke-width="0.8"/>
<text x="413.6" y="218.57" font-size="8.8" text-anchor="end">1,500</text>
<line x1="414.2" y1="200.9" x2="417.8" y2="200.9" stroke="#2a2a2a" stroke-width="0.8"/>
<text x="413.6" y="204.07" font-size="8.8" text-anchor="end">2,000</text>
<line x1="414.2" y1="186.4" x2="417.8" y2="186.4" stroke="#2a2a2a" stroke-width="0.8"/>
<text x="413.6" y="189.57" font-size="8.8" text-anchor="end">2,500</text>
<text x="378" y="221.7" font-size="9" text-anchor="middle" transform="rotate(-90 378 221.7)">Locomotive activity</text>
<text x="387.6" y="222.6" font-size="9" text-anchor="middle" transform="rotate(-90 387.6 222.6)" xml:space="preserve">( Counts )</text>
<rect x="420.5" y="184.9" width="9.2" height="4.2" fill="#fff" stroke="#2a2a2a" stroke-width="0.8"/>
<text x="432.5" y="189.9" font-size="8.5">Day</text>
<rect x="420.5" y="192" width="9.2" height="4.2" fill="#1a1a1a" stroke="#2a2a2a" stroke-width="0.5"/>
<text x="432.5" y="197.2" font-size="8.5">Night</text>
<rect x="418.6" y="251.7" width="50" height="6.2" fill="#fff" stroke="#2a2a2a" stroke-width="0.7"/>
<rect x="469" y="251.7" width="48.8" height="6.2" fill="#1a1a1a" stroke="#2a2a2a" stroke-width="0.5"/>
<line x1="417.8" y1="258.9" x2="519.5" y2="258.9" stroke="#2a2a2a" stroke-width="0.8"/>
<line x1="470.3" y1="214" x2="495.7" y2="214" stroke="#2a2a2a" stroke-width="0.8"/>
<line x1="472.6" y1="214" x2="472.6" y2="226" stroke="#2a2a2a" stroke-width="0.6"/>
<line x1="476.7" y1="214" x2="476.7" y2="226" stroke="#2a2a2a" stroke-width="0.6"/>
<line x1="480.7" y1="214" x2="480.7" y2="226" stroke="#2a2a2a" stroke-width="0.6"/>
<line x1="484.7" y1="214" x2="484.7" y2="226" stroke="#2a2a2a" stroke-width="0.6"/>
<line x1="488.8" y1="214" x2="488.8" y2="226" stroke="#2a2a2a" stroke-width="0.6"/>
<line x1="492.8" y1="214" x2="492.8" y2="226" stroke="#2a2a2a" stroke-width="0.6"/>
<polyline points="420,253.39 424.04,254.26 428.08,252.81 432.12,248.75 436.17,250.2 440.21,253.68 444.25,249.62 448.29,247.88 452.33,240.92 456.38,252.81 460.42,250.49 464.46,251.07 468.5,218.79 472.54,223.61 476.58,225.2 480.62,226.71 484.67,222.5 488.71,209.31 492.75,218.3 496.79,203.51 500.83,228.91 504.88,231.49 508.92,231.49 512.96,235.21 517,237.29" fill="none" stroke="#2a2a2a" stroke-width="1"/>
<line x1="420" y1="249.91" x2="420" y2="256.87" stroke="#2a2a2a" stroke-width="0.6"/>
<line x1="418.8" y1="249.91" x2="421.2" y2="249.91" stroke="#2a2a2a" stroke-width="0.6"/>
<line x1="418.8" y1="256.87" x2="421.2" y2="256.87" stroke="#2a2a2a" stroke-width="0.6"/>
<line x1="424.04" y1="251.36" x2="424.04" y2="257.16" stroke="#2a2a2a" stroke-width="0.6"/>
<line x1="422.84" y1="251.36" x2="425.24" y2="251.36" stroke="#2a2a2a" stroke-width="0.6"/>
<line x1="422.84" y1="257.16" x2="425.24" y2="257.16" stroke="#2a2a2a" stroke-width="0.6"/>
<line x1="428.08" y1="249.91" x2="428.08" y2="255.71" stroke="#2a2a2a" stroke-width="0.6"/>
<line x1="426.88" y1="249.91" x2="429.28" y2="249.91" stroke="#2a2a2a" stroke-width="0.6"/>
<line x1="426.88" y1="255.71" x2="429.28" y2="255.71" stroke="#2a2a2a" stroke-width="0.6"/>
<line x1="432.12" y1="244.4" x2="432.12" y2="253.1" stroke="#2a2a2a" stroke-width="0.6"/>
<line x1="430.93" y1="244.4" x2="433.32" y2="244.4" stroke="#2a2a2a" stroke-width="0.6"/>
<line x1="430.93" y1="253.1" x2="433.32" y2="253.1" stroke="#2a2a2a" stroke-width="0.6"/>
<line x1="436.17" y1="245.85" x2="436.17" y2="254.55" stroke="#2a2a2a" stroke-width="0.6"/>
<line x1="434.97" y1="245.85" x2="437.37" y2="245.85" stroke="#2a2a2a" stroke-width="0.6"/>
<line x1="434.97" y1="254.55" x2="437.37" y2="254.55" stroke="#2a2a2a" stroke-width="0.6"/>
<line x1="440.21" y1="250.2" x2="440.21" y2="257.16" stroke="#2a2a2a" stroke-width="0.6"/>
<line x1="439.01" y1="250.2" x2="441.41" y2="250.2" stroke="#2a2a2a" stroke-width="0.6"/>
<line x1="439.01" y1="257.16" x2="441.41" y2="257.16" stroke="#2a2a2a" stroke-width="0.6"/>
<line x1="444.25" y1="245.27" x2="444.25" y2="253.97" stroke="#2a2a2a" stroke-width="0.6"/>
<line x1="443.05" y1="245.27" x2="445.45" y2="245.27" stroke="#2a2a2a" stroke-width="0.6"/>
<line x1="443.05" y1="253.97" x2="445.45" y2="253.97" stroke="#2a2a2a" stroke-width="0.6"/>
<line x1="448.29" y1="243.53" x2="448.29" y2="252.23" stroke="#2a2a2a" stroke-width="0.6"/>
<line x1="447.09" y1="243.53" x2="449.49" y2="243.53" stroke="#2a2a2a" stroke-width="0.6"/>
<line x1="447.09" y1="252.23" x2="449.49" y2="252.23" stroke="#2a2a2a" stroke-width="0.6"/>
<line x1="452.33" y1="235.12" x2="452.33" y2="246.72" stroke="#2a2a2a" stroke-width="0.6"/>
<line x1="451.13" y1="235.12" x2="453.53" y2="235.12" stroke="#2a2a2a" stroke-width="0.6"/>
<line x1="451.13" y1="246.72" x2="453.53" y2="246.72" stroke="#2a2a2a" stroke-width="0.6"/>
<line x1="456.38" y1="244.11" x2="456.38" y2="261.51" stroke="#2a2a2a" stroke-width="0.6"/>
<line x1="455.18" y1="244.11" x2="457.57" y2="244.11" stroke="#2a2a2a" stroke-width="0.6"/>
<line x1="455.18" y1="261.51" x2="457.57" y2="261.51" stroke="#2a2a2a" stroke-width="0.6"/>
<line x1="460.42" y1="248.17" x2="460.42" y2="252.81" stroke="#2a2a2a" stroke-width="0.6"/>
<line x1="459.22" y1="248.17" x2="461.62" y2="248.17" stroke="#2a2a2a" stroke-width="0.6"/>
<line x1="459.22" y1="252.81" x2="461.62" y2="252.81" stroke="#2a2a2a" stroke-width="0.6"/>
<line x1="464.46" y1="246.72" x2="464.46" y2="255.42" stroke="#2a2a2a" stroke-width="0.6"/>
<line x1="463.26" y1="246.72" x2="465.66" y2="246.72" stroke="#2a2a2a" stroke-width="0.6"/>
<line x1="463.26" y1="255.42" x2="465.66" y2="255.42" stroke="#2a2a2a" stroke-width="0.6"/>
<line x1="468.5" y1="215.89" x2="468.5" y2="221.69" stroke="#2a2a2a" stroke-width="0.6"/>
<line x1="467.3" y1="215.89" x2="469.7" y2="215.89" stroke="#2a2a2a" stroke-width="0.6"/>
<line x1="467.3" y1="221.69" x2="469.7" y2="221.69" stroke="#2a2a2a" stroke-width="0.6"/>
<line x1="472.54" y1="216.36" x2="472.54" y2="230.86" stroke="#2a2a2a" stroke-width="0.6"/>
<line x1="471.34" y1="216.36" x2="473.74" y2="216.36" stroke="#2a2a2a" stroke-width="0.6"/>
<line x1="471.34" y1="230.86" x2="473.74" y2="230.86" stroke="#2a2a2a" stroke-width="0.6"/>
<line x1="476.58" y1="216.5" x2="476.58" y2="233.9" stroke="#2a2a2a" stroke-width="0.6"/>
<line x1="475.38" y1="216.5" x2="477.78" y2="216.5" stroke="#2a2a2a" stroke-width="0.6"/>
<line x1="475.38" y1="233.9" x2="477.78" y2="233.9" stroke="#2a2a2a" stroke-width="0.6"/>
<line x1="480.62" y1="219.46" x2="480.62" y2="233.96" stroke="#2a2a2a" stroke-width="0.6"/>
<line x1="479.43" y1="219.46" x2="481.82" y2="219.46" stroke="#2a2a2a" stroke-width="0.6"/>
<line x1="479.43" y1="233.96" x2="481.82" y2="233.96" stroke="#2a2a2a" stroke-width="0.6"/>
<line x1="484.67" y1="213.8" x2="484.67" y2="231.2" stroke="#2a2a2a" stroke-width="0.6"/>
<line x1="483.47" y1="213.8" x2="485.87" y2="213.8" stroke="#2a2a2a" stroke-width="0.6"/>
<line x1="483.47" y1="231.2" x2="485.87" y2="231.2" stroke="#2a2a2a" stroke-width="0.6"/>
<line x1="488.71" y1="202.06" x2="488.71" y2="216.56" stroke="#2a2a2a" stroke-width="0.6"/>
<line x1="487.51" y1="202.06" x2="489.91" y2="202.06" stroke="#2a2a2a" stroke-width="0.6"/>
<line x1="487.51" y1="216.56" x2="489.91" y2="216.56" stroke="#2a2a2a" stroke-width="0.6"/>
<line x1="492.75" y1="211.05" x2="492.75" y2="225.55" stroke="#2a2a2a" stroke-width="0.6"/>
<line x1="491.55" y1="211.05" x2="493.95" y2="211.05" stroke="#2a2a2a" stroke-width="0.6"/>
<line x1="491.55" y1="225.55" x2="493.95" y2="225.55" stroke="#2a2a2a" stroke-width="0.6"/>
<line x1="496.79" y1="193.36" x2="496.79" y2="213.66" stroke="#2a2a2a" stroke-width="0.6"/>
<line x1="495.59" y1="193.36" x2="497.99" y2="193.36" stroke="#2a2a2a" stroke-width="0.6"/>
<line x1="495.59" y1="213.66" x2="497.99" y2="213.66" stroke="#2a2a2a" stroke-width="0.6"/>
<line x1="500.83" y1="217.31" x2="500.83" y2="240.51" stroke="#2a2a2a" stroke-width="0.6"/>
<line x1="499.63" y1="217.31" x2="502.03" y2="217.31" stroke="#2a2a2a" stroke-width="0.6"/>
<line x1="499.63" y1="240.51" x2="502.03" y2="240.51" stroke="#2a2a2a" stroke-width="0.6"/>
<line x1="504.88" y1="224.24" x2="504.88" y2="238.74" stroke="#2a2a2a" stroke-width="0.6"/>
<line x1="503.68" y1="224.24" x2="506.07" y2="224.24" stroke="#2a2a2a" stroke-width="0.6"/>
<line x1="503.68" y1="238.74" x2="506.07" y2="238.74" stroke="#2a2a2a" stroke-width="0.6"/>
<line x1="508.92" y1="225.69" x2="508.92" y2="237.29" stroke="#2a2a2a" stroke-width="0.6"/>
<line x1="507.72" y1="225.69" x2="510.12" y2="225.69" stroke="#2a2a2a" stroke-width="0.6"/>
<line x1="507.72" y1="237.29" x2="510.12" y2="237.29" stroke="#2a2a2a" stroke-width="0.6"/>
<line x1="512.96" y1="230.86" x2="512.96" y2="239.56" stroke="#2a2a2a" stroke-width="0.6"/>
<line x1="511.76" y1="230.86" x2="514.16" y2="230.86" stroke="#2a2a2a" stroke-width="0.6"/>
<line x1="511.76" y1="239.56" x2="514.16" y2="239.56" stroke="#2a2a2a" stroke-width="0.6"/>
<line x1="517" y1="232.94" x2="517" y2="241.64" stroke="#2a2a2a" stroke-width="0.6"/>
<line x1="515.8" y1="232.94" x2="518.2" y2="232.94" stroke="#2a2a2a" stroke-width="0.6"/>
<line x1="515.8" y1="241.64" x2="518.2" y2="241.64" stroke="#2a2a2a" stroke-width="0.6"/>
<circle cx="420" cy="253.39" r="1.9" fill="#111"/>
<circle cx="424.04" cy="254.26" r="1.9" fill="#111"/>
<circle cx="428.08" cy="252.81" r="1.9" fill="#111"/>
<circle cx="432.12" cy="248.75" r="1.9" fill="#111"/>
<circle cx="436.17" cy="250.2" r="1.9" fill="#111"/>
<circle cx="440.21" cy="253.68" r="1.9" fill="#111"/>
<circle cx="444.25" cy="249.62" r="1.9" fill="#111"/>
<circle cx="448.29" cy="247.88" r="1.9" fill="#111"/>
<circle cx="452.33" cy="240.92" r="1.9" fill="#111"/>
<circle cx="456.38" cy="252.81" r="1.9" fill="#111"/>
<circle cx="460.42" cy="250.49" r="1.9" fill="#111"/>
<circle cx="464.46" cy="251.07" r="1.9" fill="#111"/>
<circle cx="468.5" cy="218.79" r="1.9" fill="#111"/>
<circle cx="472.54" cy="223.61" r="1.9" fill="#111"/>
<circle cx="476.58" cy="225.2" r="1.9" fill="#111"/>
<circle cx="480.62" cy="226.71" r="1.9" fill="#111"/>
<circle cx="484.67" cy="222.5" r="1.9" fill="#111"/>
<circle cx="488.71" cy="209.31" r="1.9" fill="#111"/>
<circle cx="492.75" cy="218.3" r="1.9" fill="#111"/>
<circle cx="496.79" cy="203.51" r="1.9" fill="#111"/>
<circle cx="500.83" cy="228.91" r="1.9" fill="#111"/>
<circle cx="504.88" cy="231.49" r="1.9" fill="#111"/>
<circle cx="508.92" cy="231.49" r="1.9" fill="#111"/>
<circle cx="512.96" cy="235.21" r="1.9" fill="#111"/>
<circle cx="517" cy="237.29" r="1.9" fill="#111"/>
<polyline points="420,252.52 424.04,253.1 428.08,253.97 432.12,242.08 436.17,250.78 440.21,253.1 444.25,251.36 448.29,250.2 452.33,245.85 456.38,253.68 460.42,250.2 464.46,251.65 468.5,215.6 472.54,232.6 476.58,219.29 480.62,225.55 484.67,228.91 488.71,213.95 492.75,222.5 496.79,211.89 500.83,229.9 504.88,235.7 508.92,241.59 512.96,234.25 517,237.44" fill="none" stroke="#2a2a2a" stroke-width="1"/>
<line x1="420" y1="249.62" x2="420" y2="255.42" stroke="#2a2a2a" stroke-width="0.6"/>
<line x1="418.8" y1="249.62" x2="421.2" y2="249.62" stroke="#2a2a2a" stroke-width="0.6"/>
<line x1="418.8" y1="255.42" x2="421.2" y2="255.42" stroke="#2a2a2a" stroke-width="0.6"/>
<line x1="424.04" y1="248.75" x2="424.04" y2="257.45" stroke="#2a2a2a" stroke-width="0.6"/>
<line x1="422.84" y1="248.75" x2="425.24" y2="248.75" stroke="#2a2a2a" stroke-width="0.6"/>
<line x1="422.84" y1="257.45" x2="425.24" y2="257.45" stroke="#2a2a2a" stroke-width="0.6"/>
<line x1="428.08" y1="251.07" x2="428.08" y2="256.87" stroke="#2a2a2a" stroke-width="0.6"/>
<line x1="426.88" y1="251.07" x2="429.28" y2="251.07" stroke="#2a2a2a" stroke-width="0.6"/>
<line x1="426.88" y1="256.87" x2="429.28" y2="256.87" stroke="#2a2a2a" stroke-width="0.6"/>
<line x1="432.12" y1="236.28" x2="432.12" y2="247.88" stroke="#2a2a2a" stroke-width="0.6"/>
<line x1="430.93" y1="236.28" x2="433.32" y2="236.28" stroke="#2a2a2a" stroke-width="0.6"/>
<line x1="430.93" y1="247.88" x2="433.32" y2="247.88" stroke="#2a2a2a" stroke-width="0.6"/>
<line x1="436.17" y1="246.43" x2="436.17" y2="255.13" stroke="#2a2a2a" stroke-width="0.6"/>
<line x1="434.97" y1="246.43" x2="437.37" y2="246.43" stroke="#2a2a2a" stroke-width="0.6"/>
<line x1="434.97" y1="255.13" x2="437.37" y2="255.13" stroke="#2a2a2a" stroke-width="0.6"/>
<line x1="440.21" y1="250.2" x2="440.21" y2="256" stroke="#2a2a2a" stroke-width="0.6"/>
<line x1="439.01" y1="250.2" x2="441.41" y2="250.2" stroke="#2a2a2a" stroke-width="0.6"/>
<line x1="439.01" y1="256" x2="441.41" y2="256" stroke="#2a2a2a" stroke-width="0.6"/>
<line x1="444.25" y1="247.88" x2="444.25" y2="254.84" stroke="#2a2a2a" stroke-width="0.6"/>
<line x1="443.05" y1="247.88" x2="445.45" y2="247.88" stroke="#2a2a2a" stroke-width="0.6"/>
<line x1="443.05" y1="254.84" x2="445.45" y2="254.84" stroke="#2a2a2a" stroke-width="0.6"/>
<line x1="448.29" y1="245.85" x2="448.29" y2="254.55" stroke="#2a2a2a" stroke-width="0.6"/>
<line x1="447.09" y1="245.85" x2="449.49" y2="245.85" stroke="#2a2a2a" stroke-width="0.6"/>
<line x1="447.09" y1="254.55" x2="449.49" y2="254.55" stroke="#2a2a2a" stroke-width="0.6"/>
<line x1="452.33" y1="241.5" x2="452.33" y2="250.2" stroke="#2a2a2a" stroke-width="0.6"/>
<line x1="451.13" y1="241.5" x2="453.53" y2="241.5" stroke="#2a2a2a" stroke-width="0.6"/>
<line x1="451.13" y1="250.2" x2="453.53" y2="250.2" stroke="#2a2a2a" stroke-width="0.6"/>
<line x1="456.38" y1="247.88" x2="456.38" y2="259.48" stroke="#2a2a2a" stroke-width="0.6"/>
<line x1="455.18" y1="247.88" x2="457.57" y2="247.88" stroke="#2a2a2a" stroke-width="0.6"/>
<line x1="455.18" y1="259.48" x2="457.57" y2="259.48" stroke="#2a2a2a" stroke-width="0.6"/>
<line x1="460.42" y1="247.88" x2="460.42" y2="252.52" stroke="#2a2a2a" stroke-width="0.6"/>
<line x1="459.22" y1="247.88" x2="461.62" y2="247.88" stroke="#2a2a2a" stroke-width="0.6"/>
<line x1="459.22" y1="252.52" x2="461.62" y2="252.52" stroke="#2a2a2a" stroke-width="0.6"/>
<line x1="464.46" y1="248.17" x2="464.46" y2="255.13" stroke="#2a2a2a" stroke-width="0.6"/>
<line x1="463.26" y1="248.17" x2="465.66" y2="248.17" stroke="#2a2a2a" stroke-width="0.6"/>
<line x1="463.26" y1="255.13" x2="465.66" y2="255.13" stroke="#2a2a2a" stroke-width="0.6"/>
<line x1="468.5" y1="212.7" x2="468.5" y2="218.5" stroke="#2a2a2a" stroke-width="0.6"/>
<line x1="467.3" y1="212.7" x2="469.7" y2="212.7" stroke="#2a2a2a" stroke-width="0.6"/>
<line x1="467.3" y1="218.5" x2="469.7" y2="218.5" stroke="#2a2a2a" stroke-width="0.6"/>
<line x1="472.54" y1="223.9" x2="472.54" y2="241.3" stroke="#2a2a2a" stroke-width="0.6"/>
<line x1="471.34" y1="223.9" x2="473.74" y2="223.9" stroke="#2a2a2a" stroke-width="0.6"/>
<line x1="471.34" y1="241.3" x2="473.74" y2="241.3" stroke="#2a2a2a" stroke-width="0.6"/>
<line x1="476.58" y1="209.14" x2="476.58" y2="229.44" stroke="#2a2a2a" stroke-width="0.6"/>
<line x1="475.38" y1="209.14" x2="477.78" y2="209.14" stroke="#2a2a2a" stroke-width="0.6"/>
<line x1="475.38" y1="229.44" x2="477.78" y2="229.44" stroke="#2a2a2a" stroke-width="0.6"/>
<line x1="480.62" y1="216.85" x2="480.62" y2="234.25" stroke="#2a2a2a" stroke-width="0.6"/>
<line x1="479.43" y1="216.85" x2="481.82" y2="216.85" stroke="#2a2a2a" stroke-width="0.6"/>
<line x1="479.43" y1="234.25" x2="481.82" y2="234.25" stroke="#2a2a2a" stroke-width="0.6"/>
<line x1="484.67" y1="218.76" x2="484.67" y2="239.06" stroke="#2a2a2a" stroke-width="0.6"/>
<line x1="483.47" y1="218.76" x2="485.87" y2="218.76" stroke="#2a2a2a" stroke-width="0.6"/>
<line x1="483.47" y1="239.06" x2="485.87" y2="239.06" stroke="#2a2a2a" stroke-width="0.6"/>
<line x1="488.71" y1="203.8" x2="488.71" y2="224.1" stroke="#2a2a2a" stroke-width="0.6"/>
<line x1="487.51" y1="203.8" x2="489.91" y2="203.8" stroke="#2a2a2a" stroke-width="0.6"/>
<line x1="487.51" y1="224.1" x2="489.91" y2="224.1" stroke="#2a2a2a" stroke-width="0.6"/>
<line x1="492.75" y1="213.8" x2="492.75" y2="231.2" stroke="#2a2a2a" stroke-width="0.6"/>
<line x1="491.55" y1="213.8" x2="493.95" y2="213.8" stroke="#2a2a2a" stroke-width="0.6"/>
<line x1="491.55" y1="231.2" x2="493.95" y2="231.2" stroke="#2a2a2a" stroke-width="0.6"/>
<line x1="496.79" y1="200.29" x2="496.79" y2="223.49" stroke="#2a2a2a" stroke-width="0.6"/>
<line x1="495.59" y1="200.29" x2="497.99" y2="200.29" stroke="#2a2a2a" stroke-width="0.6"/>
<line x1="495.59" y1="223.49" x2="497.99" y2="223.49" stroke="#2a2a2a" stroke-width="0.6"/>
<line x1="500.83" y1="221.2" x2="500.83" y2="238.6" stroke="#2a2a2a" stroke-width="0.6"/>
<line x1="499.63" y1="221.2" x2="502.03" y2="221.2" stroke="#2a2a2a" stroke-width="0.6"/>
<line x1="499.63" y1="238.6" x2="502.03" y2="238.6" stroke="#2a2a2a" stroke-width="0.6"/>
<line x1="504.88" y1="227" x2="504.88" y2="244.4" stroke="#2a2a2a" stroke-width="0.6"/>
<line x1="503.68" y1="227" x2="506.07" y2="227" stroke="#2a2a2a" stroke-width="0.6"/>
<line x1="503.68" y1="244.4" x2="506.07" y2="244.4" stroke="#2a2a2a" stroke-width="0.6"/>
<line x1="508.92" y1="235.79" x2="508.92" y2="247.39" stroke="#2a2a2a" stroke-width="0.6"/>
<line x1="507.72" y1="235.79" x2="510.12" y2="235.79" stroke="#2a2a2a" stroke-width="0.6"/>
<line x1="507.72" y1="247.39" x2="510.12" y2="247.39" stroke="#2a2a2a" stroke-width="0.6"/>
<line x1="512.96" y1="229.9" x2="512.96" y2="238.6" stroke="#2a2a2a" stroke-width="0.6"/>
<line x1="511.76" y1="229.9" x2="514.16" y2="229.9" stroke="#2a2a2a" stroke-width="0.6"/>
<line x1="511.76" y1="238.6" x2="514.16" y2="238.6" stroke="#2a2a2a" stroke-width="0.6"/>
<line x1="517" y1="233.09" x2="517" y2="241.79" stroke="#2a2a2a" stroke-width="0.6"/>
<line x1="515.8" y1="233.09" x2="518.2" y2="233.09" stroke="#2a2a2a" stroke-width="0.6"/>
<line x1="515.8" y1="241.79" x2="518.2" y2="241.79" stroke="#2a2a2a" stroke-width="0.6"/>
<rect x="418.2" y="250.72" width="3.6" height="3.6" fill="#111"/>
<rect x="422.24" y="251.3" width="3.6" height="3.6" fill="#111"/>
<rect x="426.28" y="252.17" width="3.6" height="3.6" fill="#111"/>
<rect x="430.32" y="240.28" width="3.6" height="3.6" fill="#111"/>
<rect x="434.37" y="248.98" width="3.6" height="3.6" fill="#111"/>
<rect x="438.41" y="251.3" width="3.6" height="3.6" fill="#111"/>
<rect x="442.45" y="249.56" width="3.6" height="3.6" fill="#111"/>
<rect x="446.49" y="248.4" width="3.6" height="3.6" fill="#111"/>
<rect x="450.53" y="244.05" width="3.6" height="3.6" fill="#111"/>
<rect x="454.57" y="251.88" width="3.6" height="3.6" fill="#111"/>
<rect x="458.62" y="248.4" width="3.6" height="3.6" fill="#111"/>
<rect x="462.66" y="249.85" width="3.6" height="3.6" fill="#111"/>
<rect x="466.7" y="213.8" width="3.6" height="3.6" fill="#111"/>
<rect x="470.74" y="230.8" width="3.6" height="3.6" fill="#111"/>
<rect x="474.78" y="217.49" width="3.6" height="3.6" fill="#111"/>
<rect x="478.82" y="223.75" width="3.6" height="3.6" fill="#111"/>
<rect x="482.87" y="227.11" width="3.6" height="3.6" fill="#111"/>
<rect x="486.91" y="212.15" width="3.6" height="3.6" fill="#111"/>
<rect x="490.95" y="220.7" width="3.6" height="3.6" fill="#111"/>
<rect x="494.99" y="210.09" width="3.6" height="3.6" fill="#111"/>
<rect x="499.03" y="228.1" width="3.6" height="3.6" fill="#111"/>
<rect x="503.07" y="233.9" width="3.6" height="3.6" fill="#111"/>
<rect x="507.12" y="239.79" width="3.6" height="3.6" fill="#111"/>
<rect x="511.16" y="232.45" width="3.6" height="3.6" fill="#111"/>
<rect x="515.2" y="235.64" width="3.6" height="3.6" fill="#111"/>
<text x="0.4" y="296.5" font-size="14.5" font-weight="bold" stroke-width="0.1">I</text>
<text x="72.3" y="314.6" font-size="8.8" text-anchor="middle">scWAT</text>
<rect x="25.3" y="319" width="8.5" height="3.4" fill="#1a1a1a" stroke="#2a2a2a" stroke-width="0.6"/>
<text x="36.9" y="323.4" font-size="8.2">Control</text>
<rect x="76" y="319" width="8.5" height="3.4" fill="#a39a96" stroke="#2a2a2a" stroke-width="0.6"/>
<text x="88.1" y="323.4" font-size="8">Rhamnose</text>
<line x1="20.9" y1="329.7" x2="20.9" y2="392.5" stroke="#2a2a2a" stroke-width="0.8"/>
<line x1="16.6" y1="392.5" x2="20.9" y2="392.5" stroke="#2a2a2a" stroke-width="0.8"/>
<text x="16" y="395.6" font-size="8.6" text-anchor="end">0</text>
<line x1="16.6" y1="376.8" x2="20.9" y2="376.8" stroke="#2a2a2a" stroke-width="0.8"/>
<text x="16" y="379.9" font-size="8.6" text-anchor="end">1</text>
<line x1="16.6" y1="361.1" x2="20.9" y2="361.1" stroke="#2a2a2a" stroke-width="0.8"/>
<text x="16" y="364.2" font-size="8.6" text-anchor="end">2</text>
<line x1="16.6" y1="345.4" x2="20.9" y2="345.4" stroke="#2a2a2a" stroke-width="0.8"/>
<text x="16" y="348.5" font-size="8.6" text-anchor="end">3</text>
<line x1="16.6" y1="329.7" x2="20.9" y2="329.7" stroke="#2a2a2a" stroke-width="0.8"/>
<text x="16" y="332.8" font-size="8.6" text-anchor="end">4</text>
<text x="7.7" y="353.4" font-size="9" text-anchor="middle" transform="rotate(-90 7.7 353.4)">Relative mRNA expression</text>
<line x1="20.9" y1="392.5" x2="141" y2="392.5" stroke="#2a2a2a" stroke-width="0.8"/>
<line x1="28.05" y1="376.8" x2="28.05" y2="374.44" stroke="#2a2a2a" stroke-width="0.7"/>
<line x1="26.55" y1="374.44" x2="29.55" y2="374.44" stroke="#2a2a2a" stroke-width="0.7"/>
<rect x="24.8" y="376.8" width="6.5" height="15.7" fill="#1a1a1a" stroke="#2a2a2a" stroke-width="0.85"/>
<line x1="36.15" y1="354.51" x2="36.15" y2="352.47" stroke="#2a2a2a" stroke-width="0.7"/>
<line x1="34.65" y1="352.47" x2="37.65" y2="352.47" stroke="#2a2a2a" stroke-width="0.7"/>
<rect x="32.9" y="354.51" width="6.5" height="37.99" fill="#a39a96" stroke="#2a2a2a" stroke-width="0.85"/>
<line x1="32.1" y1="392.5" x2="32.1" y2="395.1" stroke="#2a2a2a" stroke-width="0.8"/>
<line x1="52.1" y1="376.8" x2="52.1" y2="376.33" stroke="#2a2a2a" stroke-width="0.7"/>
<line x1="50.6" y1="376.33" x2="53.6" y2="376.33" stroke="#2a2a2a" stroke-width="0.7"/>
<rect x="48.85" y="376.8" width="6.5" height="15.7" fill="#1a1a1a" stroke="#2a2a2a" stroke-width="0.85"/>
<line x1="60.2" y1="365.5" x2="60.2" y2="363.93" stroke="#2a2a2a" stroke-width="0.7"/>
<line x1="58.7" y1="363.93" x2="61.7" y2="363.93" stroke="#2a2a2a" stroke-width="0.7"/>
<rect x="56.95" y="365.5" width="6.5" height="27" fill="#a39a96" stroke="#2a2a2a" stroke-width="0.85"/>
<line x1="56.15" y1="392.5" x2="56.15" y2="395.1" stroke="#2a2a2a" stroke-width="0.8"/>
<line x1="76.05" y1="376.8" x2="76.05" y2="376.01" stroke="#2a2a2a" stroke-width="0.7"/>
<line x1="74.55" y1="376.01" x2="77.55" y2="376.01" stroke="#2a2a2a" stroke-width="0.7"/>
<rect x="72.8" y="376.8" width="6.5" height="15.7" fill="#1a1a1a" stroke="#2a2a2a" stroke-width="0.85"/>
<line x1="84.15" y1="368.64" x2="84.15" y2="367.85" stroke="#2a2a2a" stroke-width="0.7"/>
<line x1="82.65" y1="367.85" x2="85.65" y2="367.85" stroke="#2a2a2a" stroke-width="0.7"/>
<rect x="80.9" y="368.64" width="6.5" height="23.86" fill="#a39a96" stroke="#2a2a2a" stroke-width="0.85"/>
<line x1="80.1" y1="392.5" x2="80.1" y2="395.1" stroke="#2a2a2a" stroke-width="0.8"/>
<line x1="99.95" y1="376.8" x2="99.95" y2="376.33" stroke="#2a2a2a" stroke-width="0.7"/>
<line x1="98.45" y1="376.33" x2="101.45" y2="376.33" stroke="#2a2a2a" stroke-width="0.7"/>
<rect x="96.7" y="376.8" width="6.5" height="15.7" fill="#1a1a1a" stroke="#2a2a2a" stroke-width="0.85"/>
<line x1="108.05" y1="345.4" x2="108.05" y2="341.95" stroke="#2a2a2a" stroke-width="0.7"/>
<line x1="106.55" y1="341.95" x2="109.55" y2="341.95" stroke="#2a2a2a" stroke-width="0.7"/>
<rect x="104.8" y="345.4" width="6.5" height="47.1" fill="#a39a96" stroke="#2a2a2a" stroke-width="0.85"/>
<line x1="104" y1="392.5" x2="104" y2="395.1" stroke="#2a2a2a" stroke-width="0.8"/>
<line x1="123.85" y1="376.8" x2="123.85" y2="375.54" stroke="#2a2a2a" stroke-width="0.7"/>
<line x1="122.35" y1="375.54" x2="125.35" y2="375.54" stroke="#2a2a2a" stroke-width="0.7"/>
<rect x="120.6" y="376.8" width="6.5" height="15.7" fill="#1a1a1a" stroke="#2a2a2a" stroke-width="0.85"/>
<line x1="131.95" y1="376.33" x2="131.95" y2="376.01" stroke="#2a2a2a" stroke-width="0.7"/>
<line x1="130.45" y1="376.01" x2="133.45" y2="376.01" stroke="#2a2a2a" stroke-width="0.7"/>
<rect x="128.7" y="376.33" width="6.5" height="16.17" fill="#a39a96" stroke="#2a2a2a" stroke-width="0.85"/>
<line x1="127.9" y1="392.5" x2="127.9" y2="395.1" stroke="#2a2a2a" stroke-width="0.8"/>
<text x="21.3" y="404.5" font-size="8" textLength="17.4" lengthAdjust="spacingAndGlyphs" font-style="italic">Ucp1</text>
<text x="43" y="404.5" font-size="8" textLength="23.1" lengthAdjust="spacingAndGlyphs" font-style="italic">Cox8b</text>
<text x="70.5" y="404.5" font-size="8" textLength="20.1" lengthAdjust="spacingAndGlyphs" font-style="italic">Cidea</text>
<text x="93.7" y="404.5" font-size="8" textLength="26.9" lengthAdjust="spacingAndGlyphs" font-style="italic">Prdm16</text>
<text x="123.7" y="404.5" font-size="8" textLength="21.2" lengthAdjust="spacingAndGlyphs" font-style="italic">Fabp4</text>
<polyline points="28.3,374 28.3,341.9 36.3,341.9 36.3,347.5" fill="none" stroke="#2a2a2a" stroke-width="0.7"/>
<text x="32.67" y="342.93" font-size="6.6" text-anchor="middle" letter-spacing="0.75">***</text>
<polyline points="52.3,375.5 52.3,356.7 61.2,356.7 61.2,362" fill="none" stroke="#2a2a2a" stroke-width="0.7"/>
<text x="57.12" y="357.73" font-size="6.6" text-anchor="middle" letter-spacing="0.75">***</text>
<polyline points="76,375 76,357.3 85.5,357.3 85.5,366" fill="none" stroke="#2a2a2a" stroke-width="0.7"/>
<text x="81.12" y="358.33" font-size="6.6" text-anchor="middle" letter-spacing="0.75">**</text>
<polyline points="100,375 100,337.9 109,337.9 109,340.5" fill="none" stroke="#2a2a2a" stroke-width="0.7"/>
<text x="104.88" y="338.93" font-size="6.6" text-anchor="middle" letter-spacing="0.75">***</text>
<polyline points="124,368.9 124,364 132.2,364 132.2,368.9" fill="none" stroke="#2a2a2a" stroke-width="0.7"/>
<text x="128.1" y="361.6" font-size="8.4" text-anchor="middle">ns</text>
<text x="155.1" y="296.5" font-size="14.5" font-weight="bold" stroke-width="0.1">J</text>
<text x="204.1" y="306.6" font-size="8.1" text-anchor="middle">Control</text>
<line x1="188" y1="309.3" x2="219.2" y2="309.3" stroke="#555" stroke-width="0.8"/>
<text x="242.7" y="306.6" font-size="8" text-anchor="middle">Rhamnose</text>
<line x1="221.5" y1="309.3" x2="258.5" y2="309.3" stroke="#555" stroke-width="0.8"/>
<text x="155.8" y="322.8" font-size="8.8">UCP1</text>
<text x="154.6" y="336.8" font-size="8.8">GAPDH</text>
<rect x="185.8" y="313.2" width="71.5" height="11.5" rx="0.8" fill="url(#blotg)" stroke="#3e3a38" stroke-width="1.1"/>
<ellipse cx="191.6" cy="319.2" rx="4.6" ry="1.12" fill="#1a1616" opacity="0.5" filter="url(#bl2)"/>
<ellipse cx="203.6" cy="319.2" rx="4.6" ry="1.15" fill="#1a1616" opacity="0.55" filter="url(#bl2)"/>
<ellipse cx="215.5" cy="319.2" rx="4.6" ry="1.15" fill="#1a1616" opacity="0.55" filter="url(#bl2)"/>
<ellipse cx="227.5" cy="319.2" rx="4.6" ry="1.28" fill="#1a1616" opacity="0.85" filter="url(#bl2)"/>
<ellipse cx="239.5" cy="319.2" rx="4.6" ry="1.31" fill="#1a1616" opacity="0.9" filter="url(#bl2)"/>
<ellipse cx="251.4" cy="319.2" rx="4.6" ry="1.31" fill="#1a1616" opacity="0.9" filter="url(#bl2)"/>
<rect x="185.8" y="327.7" width="71.5" height="11.5" rx="0.8" fill="url(#blotg)" stroke="#3e3a38" stroke-width="1.1"/>
<ellipse cx="191.6" cy="333.4" rx="4.8" ry="1.31" fill="#1a1616" opacity="0.92" filter="url(#bl2)"/>
<ellipse cx="203.6" cy="333.4" rx="4.8" ry="1.31" fill="#1a1616" opacity="0.92" filter="url(#bl2)"/>
<ellipse cx="215.5" cy="333.4" rx="4.8" ry="1.31" fill="#1a1616" opacity="0.92" filter="url(#bl2)"/>
<ellipse cx="227.5" cy="333.4" rx="4.8" ry="1.31" fill="#1a1616" opacity="0.92" filter="url(#bl2)"/>
<ellipse cx="239.5" cy="333.4" rx="4.8" ry="1.31" fill="#1a1616" opacity="0.92" filter="url(#bl2)"/>
<ellipse cx="251.4" cy="333.4" rx="4.8" ry="1.31" fill="#1a1616" opacity="0.92" filter="url(#bl2)"/>
<line x1="259.6" y1="313.8" x2="259.6" y2="339.2" stroke="#555" stroke-width="0.7"/>
<text x="267.3" y="326.5" font-size="8.4" text-anchor="middle" transform="rotate(-90 267.3 326.5)">scWAT</text>
<rect x="201.3" y="345.4" width="8.6" height="4" fill="#1a1a1a" stroke="#2a2a2a" stroke-width="0.6"/>
<text x="211.6" y="350.4" font-size="8.1">Control</text>
<rect x="201.3" y="352.4" width="8.6" height="4" fill="#a39a96" stroke="#2a2a2a" stroke-width="0.6"/>
<text x="211.6" y="357.4" font-size="8.1">Rhamnose</text>
<line x1="212.4" y1="364.2" x2="212.4" y2="394.2" stroke="#2a2a2a" stroke-width="0.8"/>
<line x1="209.4" y1="394.2" x2="212.4" y2="394.2" stroke="#2a2a2a" stroke-width="0.8"/>
<text x="208.6" y="397.3" font-size="8.6" text-anchor="end">0</text>
<line x1="209.4" y1="379.2" x2="212.4" y2="379.2" stroke="#2a2a2a" stroke-width="0.8"/>
<text x="208.6" y="382.3" font-size="8.6" text-anchor="end">1</text>
<line x1="209.4" y1="364.2" x2="212.4" y2="364.2" stroke="#2a2a2a" stroke-width="0.8"/>
<text x="208.6" y="367.3" font-size="8.6" text-anchor="end">2</text>
<text x="196.2" y="373.5" font-size="8.8" text-anchor="middle" transform="rotate(-90 196.2 373.5)">UCP1/GAPDH</text>
<line x1="212.4" y1="394.2" x2="233.8" y2="394.2" stroke="#2a2a2a" stroke-width="0.8"/>
<line x1="219" y1="379.65" x2="219" y2="377.7" stroke="#2a2a2a" stroke-width="0.7"/>
<line x1="217.5" y1="377.7" x2="220.5" y2="377.7" stroke="#2a2a2a" stroke-width="0.7"/>
<rect x="216" y="379.65" width="6" height="14.55" fill="#1a1a1a" stroke="#2a2a2a" stroke-width="0.85"/>
<line x1="227.45" y1="367.2" x2="227.45" y2="366" stroke="#2a2a2a" stroke-width="0.7"/>
<line x1="225.95" y1="366" x2="228.95" y2="366" stroke="#2a2a2a" stroke-width="0.7"/>
<rect x="224.4" y="367.2" width="6.1" height="27" fill="#a39a96" stroke="#2a2a2a" stroke-width="0.85"/>
<line x1="223.2" y1="394.2" x2="223.2" y2="396.8" stroke="#2a2a2a" stroke-width="0.8"/>
<text x="222.2" y="405.2" font-size="8.6" text-anchor="middle">scWAT</text>
<polyline points="219,372 219,361.5 227.4,361.5 227.4,364.5" fill="none" stroke="#2a2a2a" stroke-width="0.7"/>
<text x="223.57" y="362.53" font-size="6.6" text-anchor="middle" letter-spacing="0.75">**</text>
<text x="295.1" y="296.5" font-size="14.5" font-weight="bold" stroke-width="0.1">K</text>
<line x1="322.1" y1="309.5" x2="322.1" y2="382.3" stroke="#2a2a2a" stroke-width="0.8"/>
<line x1="318.1" y1="382.3" x2="322.1" y2="382.3" stroke="#2a2a2a" stroke-width="0.8"/>
<text x="317.5" y="385.54" font-size="9" text-anchor="end">35</text>
<line x1="318.1" y1="345.9" x2="322.1" y2="345.9" stroke="#2a2a2a" stroke-width="0.8"/>
<text x="317.5" y="349.14" font-size="9" text-anchor="end">36</text>
<line x1="318.1" y1="309.5" x2="322.1" y2="309.5" stroke="#2a2a2a" stroke-width="0.8"/>
<text x="317.5" y="312.74" font-size="9" text-anchor="end">37</text>
<text x="302.8" y="348" font-size="9" text-anchor="middle" transform="rotate(-90 302.8 348)">Core temperature (°C)</text>
<line x1="322.3" y1="382.3" x2="402.6" y2="382.3" stroke="#2a2a2a" stroke-width="0.8"/>
<line x1="329.4" y1="382.3" x2="329.4" y2="385.9" stroke="#2a2a2a" stroke-width="0.8"/>
<line x1="340.3" y1="382.3" x2="340.3" y2="385.9" stroke="#2a2a2a" stroke-width="0.8"/>
<line x1="351.2" y1="382.3" x2="351.2" y2="385.9" stroke="#2a2a2a" stroke-width="0.8"/>
<line x1="362.1" y1="382.3" x2="362.1" y2="385.9" stroke="#2a2a2a" stroke-width="0.8"/>
<line x1="373" y1="382.3" x2="373" y2="385.9" stroke="#2a2a2a" stroke-width="0.8"/>
<line x1="383.9" y1="382.3" x2="383.9" y2="385.9" stroke="#2a2a2a" stroke-width="0.8"/>
<line x1="394.8" y1="382.3" x2="394.8" y2="385.9" stroke="#2a2a2a" stroke-width="0.8"/>
<text x="329.4" y="394.4" font-size="8.6" text-anchor="middle">0</text>
<text x="340.3" y="394.4" font-size="8.6" text-anchor="middle">1</text>
<text x="351.2" y="394.4" font-size="8.6" text-anchor="middle">2</text>
<text x="362.1" y="394.4" font-size="8.6" text-anchor="middle">3</text>
<text x="373" y="394.4" font-size="8.6" text-anchor="middle">4</text>
<text x="383.9" y="394.4" font-size="8.6" text-anchor="middle">5</text>
<text x="394.8" y="394.4" font-size="8.6" text-anchor="middle">6</text>
<text x="356.4" y="403.2" font-size="8.9" text-anchor="middle">Time at 10°C (h)</text>
<line x1="346.5" y1="308.3" x2="360" y2="308.3" stroke="#2a2a2a" stroke-width="0.9"/>
<circle cx="353.25" cy="308.3" r="1.8" fill="#111"/>
<text x="362.4" y="310.9" font-size="8.4">Control</text>
<line x1="346.5" y1="315.7" x2="360" y2="315.7" stroke="#2a2a2a" stroke-width="0.9"/>
<rect x="351.54" y="313.99" width="3.42" height="3.42" fill="#111"/>
<text x="362.4" y="318.3" font-size="8.4">Rhamnose</text>
<polyline points="329.4,321.15 340.3,329.16 351.2,345.9 362.1,348.81 373,362.28 383.9,367.01 394.8,368.83" fill="none" stroke="#2a2a2a" stroke-width="1"/>
<line x1="329.4" y1="318.65" x2="329.4" y2="323.65" stroke="#2a2a2a" stroke-width="0.6"/>
<line x1="327.9" y1="318.65" x2="330.9" y2="318.65" stroke="#2a2a2a" stroke-width="0.6"/>
<line x1="327.9" y1="323.65" x2="330.9" y2="323.65" stroke="#2a2a2a" stroke-width="0.6"/>
<line x1="340.3" y1="325.66" x2="340.3" y2="332.66" stroke="#2a2a2a" stroke-width="0.6"/>
<line x1="338.8" y1="325.66" x2="341.8" y2="325.66" stroke="#2a2a2a" stroke-width="0.6"/>
<line x1="338.8" y1="332.66" x2="341.8" y2="332.66" stroke="#2a2a2a" stroke-width="0.6"/>
<line x1="351.2" y1="340.9" x2="351.2" y2="350.9" stroke="#2a2a2a" stroke-width="0.6"/>
<line x1="349.7" y1="340.9" x2="352.7" y2="340.9" stroke="#2a2a2a" stroke-width="0.6"/>
<line x1="349.7" y1="350.9" x2="352.7" y2="350.9" stroke="#2a2a2a" stroke-width="0.6"/>
<line x1="362.1" y1="342.81" x2="362.1" y2="354.81" stroke="#2a2a2a" stroke-width="0.6"/>
<line x1="360.6" y1="342.81" x2="363.6" y2="342.81" stroke="#2a2a2a" stroke-width="0.6"/>
<line x1="360.6" y1="354.81" x2="363.6" y2="354.81" stroke="#2a2a2a" stroke-width="0.6"/>
<line x1="373" y1="357.28" x2="373" y2="367.28" stroke="#2a2a2a" stroke-width="0.6"/>
<line x1="371.5" y1="357.28" x2="374.5" y2="357.28" stroke="#2a2a2a" stroke-width="0.6"/>
<line x1="371.5" y1="367.28" x2="374.5" y2="367.28" stroke="#2a2a2a" stroke-width="0.6"/>
<line x1="383.9" y1="363.51" x2="383.9" y2="370.51" stroke="#2a2a2a" stroke-width="0.6"/>
<line x1="382.4" y1="363.51" x2="385.4" y2="363.51" stroke="#2a2a2a" stroke-width="0.6"/>
<line x1="382.4" y1="370.51" x2="385.4" y2="370.51" stroke="#2a2a2a" stroke-width="0.6"/>
<line x1="394.8" y1="364.33" x2="394.8" y2="373.33" stroke="#2a2a2a" stroke-width="0.6"/>
<line x1="393.3" y1="364.33" x2="396.3" y2="364.33" stroke="#2a2a2a" stroke-width="0.6"/>
<line x1="393.3" y1="373.33" x2="396.3" y2="373.33" stroke="#2a2a2a" stroke-width="0.6"/>
<circle cx="329.4" cy="321.15" r="1.8" fill="#111"/>
<circle cx="340.3" cy="329.16" r="1.8" fill="#111"/>
<circle cx="351.2" cy="345.9" r="1.8" fill="#111"/>
<circle cx="362.1" cy="348.81" r="1.8" fill="#111"/>
<circle cx="373" cy="362.28" r="1.8" fill="#111"/>
<circle cx="383.9" cy="367.01" r="1.8" fill="#111"/>
<circle cx="394.8" cy="368.83" r="1.8" fill="#111"/>
<polyline points="329.4,323.33 340.3,333.89 351.2,334.25 362.1,334.25 373,338.62 383.9,342.26 394.8,342.99" fill="none" stroke="#2a2a2a" stroke-width="1"/>
<line x1="329.4" y1="321.33" x2="329.4" y2="325.33" stroke="#2a2a2a" stroke-width="0.6"/>
<line x1="327.9" y1="321.33" x2="330.9" y2="321.33" stroke="#2a2a2a" stroke-width="0.6"/>
<line x1="327.9" y1="325.33" x2="330.9" y2="325.33" stroke="#2a2a2a" stroke-width="0.6"/>
<line x1="340.3" y1="330.39" x2="340.3" y2="337.39" stroke="#2a2a2a" stroke-width="0.6"/>
<line x1="338.8" y1="330.39" x2="341.8" y2="330.39" stroke="#2a2a2a" stroke-width="0.6"/>
<line x1="338.8" y1="337.39" x2="341.8" y2="337.39" stroke="#2a2a2a" stroke-width="0.6"/>
<line x1="351.2" y1="331.25" x2="351.2" y2="337.25" stroke="#2a2a2a" stroke-width="0.6"/>
<line x1="349.7" y1="331.25" x2="352.7" y2="331.25" stroke="#2a2a2a" stroke-width="0.6"/>
<line x1="349.7" y1="337.25" x2="352.7" y2="337.25" stroke="#2a2a2a" stroke-width="0.6"/>
<line x1="362.1" y1="331.25" x2="362.1" y2="337.25" stroke="#2a2a2a" stroke-width="0.6"/>
<line x1="360.6" y1="331.25" x2="363.6" y2="331.25" stroke="#2a2a2a" stroke-width="0.6"/>
<line x1="360.6" y1="337.25" x2="363.6" y2="337.25" stroke="#2a2a2a" stroke-width="0.6"/>
<line x1="373" y1="335.12" x2="373" y2="342.12" stroke="#2a2a2a" stroke-width="0.6"/>
<line x1="371.5" y1="335.12" x2="374.5" y2="335.12" stroke="#2a2a2a" stroke-width="0.6"/>
<line x1="371.5" y1="342.12" x2="374.5" y2="342.12" stroke="#2a2a2a" stroke-width="0.6"/>
<line x1="383.9" y1="339.26" x2="383.9" y2="345.26" stroke="#2a2a2a" stroke-width="0.6"/>
<line x1="382.4" y1="339.26" x2="385.4" y2="339.26" stroke="#2a2a2a" stroke-width="0.6"/>
<line x1="382.4" y1="345.26" x2="385.4" y2="345.26" stroke="#2a2a2a" stroke-width="0.6"/>
<line x1="394.8" y1="339.99" x2="394.8" y2="345.99" stroke="#2a2a2a" stroke-width="0.6"/>
<line x1="393.3" y1="339.99" x2="396.3" y2="339.99" stroke="#2a2a2a" stroke-width="0.6"/>
<line x1="393.3" y1="345.99" x2="396.3" y2="345.99" stroke="#2a2a2a" stroke-width="0.6"/>
<rect x="327.7" y="321.63" width="3.4" height="3.4" fill="#111"/>
<rect x="338.6" y="332.19" width="3.4" height="3.4" fill="#111"/>
<rect x="349.5" y="332.55" width="3.4" height="3.4" fill="#111"/>
<rect x="360.4" y="332.55" width="3.4" height="3.4" fill="#111"/>
<rect x="371.3" y="336.92" width="3.4" height="3.4" fill="#111"/>
<rect x="382.2" y="340.56" width="3.4" height="3.4" fill="#111"/>
<rect x="393.1" y="341.29" width="3.4" height="3.4" fill="#111"/>
<polyline points="399.5,343.8 401.5,343.8 401.5,367.9 399.5,367.9" fill="none" stroke="#2a2a2a" stroke-width="0.7"/>
<text x="406.18" y="360.43" font-size="6.6" text-anchor="middle" letter-spacing="0.75">*</text>
<text x="438.7" y="296.5" font-size="14.5" font-weight="bold" stroke-width="0.1">L</text>
<rect x="458" y="308.3" width="9.5" height="3.7" fill="#1a1a1a" stroke="#2a2a2a" stroke-width="0.6"/>
<text x="468.5" y="313.3" font-size="8.1">Control</text>
<rect x="458" y="315.2" width="9.5" height="3.8" fill="#a39a96" stroke="#2a2a2a" stroke-width="0.6"/>
<text x="468.5" y="320.3" font-size="8.1">Rhamnose</text>
<line x1="468.4" y1="330.8" x2="468.4" y2="394.4" stroke="#2a2a2a" stroke-width="0.8"/>
<line x1="465" y1="394.4" x2="468.4" y2="394.4" stroke="#2a2a2a" stroke-width="0.8"/>
<text x="464.3" y="397.5" font-size="8.6" text-anchor="end">0</text>
<line x1="465" y1="373.2" x2="468.4" y2="373.2" stroke="#2a2a2a" stroke-width="0.8"/>
<text x="464.3" y="376.3" font-size="8.6" text-anchor="end">4</text>
<line x1="465" y1="352" x2="468.4" y2="352" stroke="#2a2a2a" stroke-width="0.8"/>
<text x="464.3" y="355.1" font-size="8.6" text-anchor="end">8</text>
<line x1="465" y1="330.8" x2="468.4" y2="330.8" stroke="#2a2a2a" stroke-width="0.8"/>
<text x="464.3" y="333.9" font-size="8.6" text-anchor="end">12</text>
<text x="451.4" y="352.2" font-size="9" text-anchor="middle" transform="rotate(-90 451.4 352.2)">Blood glucose (mmol/L)</text>
<line x1="468.4" y1="394.4" x2="493.5" y2="394.4" stroke="#2a2a2a" stroke-width="0.8"/>
<line x1="476.8" y1="341.4" x2="476.8" y2="335.04" stroke="#2a2a2a" stroke-width="0.7"/>
<line x1="475.3" y1="335.04" x2="478.3" y2="335.04" stroke="#2a2a2a" stroke-width="0.7"/>
<rect x="472.9" y="341.4" width="7.8" height="53" fill="#1a1a1a" stroke="#2a2a2a" stroke-width="0.85"/>
<line x1="486.85" y1="345.11" x2="486.85" y2="340.87" stroke="#2a2a2a" stroke-width="0.7"/>
<line x1="485.35" y1="340.87" x2="488.35" y2="340.87" stroke="#2a2a2a" stroke-width="0.7"/>
<rect x="482.7" y="345.11" width="8.3" height="49.29" fill="#a39a96" stroke="#2a2a2a" stroke-width="0.85"/>
<polyline points="476.3,333.3 476.3,329.8 485.8,329.8 485.8,333.3" fill="none" stroke="#2a2a2a" stroke-width="0.7"/>
<text x="481.05" y="328" font-size="8.4" text-anchor="middle">ns</text>
<text x="0.3" y="433.6" font-size="14.5" font-weight="bold" stroke-width="0.1">M</text>
<text x="69" y="443" font-size="9" text-anchor="middle">GTT</text>
<line x1="28.9" y1="445.9" x2="28.9" y2="527.3" stroke="#2a2a2a" stroke-width="0.8"/>
<line x1="24.5" y1="527.3" x2="28.9" y2="527.3" stroke="#2a2a2a" stroke-width="0.8"/>
<text x="23.9" y="530.5" font-size="8.9" text-anchor="end">0</text>
<line x1="24.5" y1="506.95" x2="28.9" y2="506.95" stroke="#2a2a2a" stroke-width="0.8"/>
<text x="23.9" y="510.15" font-size="8.9" text-anchor="end">5</text>
<line x1="24.5" y1="486.6" x2="28.9" y2="486.6" stroke="#2a2a2a" stroke-width="0.8"/>
<text x="23.9" y="489.8" font-size="8.9" text-anchor="end">10</text>
<line x1="24.5" y1="466.25" x2="28.9" y2="466.25" stroke="#2a2a2a" stroke-width="0.8"/>
<text x="23.9" y="469.45" font-size="8.9" text-anchor="end">15</text>
<line x1="24.5" y1="445.9" x2="28.9" y2="445.9" stroke="#2a2a2a" stroke-width="0.8"/>
<text x="23.9" y="449.1" font-size="8.9" text-anchor="end">20</text>
<text x="11.2" y="484.8" font-size="8.7" text-anchor="middle" transform="rotate(-90 11.2 484.8)">Blood glucose (mmol/L)</text>
<line x1="29" y1="527.3" x2="118.5" y2="527.3" stroke="#2a2a2a" stroke-width="0.8"/>
<line x1="39" y1="527.3" x2="39" y2="531.5" stroke="#2a2a2a" stroke-width="0.8"/>
<line x1="53.3" y1="527.3" x2="53.3" y2="531.5" stroke="#2a2a2a" stroke-width="0.8"/>
<line x1="67.9" y1="527.3" x2="67.9" y2="531.5" stroke="#2a2a2a" stroke-width="0.8"/>
<line x1="82.1" y1="527.3" x2="82.1" y2="531.5" stroke="#2a2a2a" stroke-width="0.8"/>
<line x1="96.4" y1="527.3" x2="96.4" y2="531.5" stroke="#2a2a2a" stroke-width="0.8"/>
<line x1="110.4" y1="527.3" x2="110.4" y2="531.5" stroke="#2a2a2a" stroke-width="0.8"/>
<text x="39" y="539.6" font-size="8.6" text-anchor="middle">0</text>
<text x="53.3" y="539.6" font-size="8.6" text-anchor="middle">15</text>
<text x="67.9" y="539.6" font-size="8.6" text-anchor="middle">30</text>
<text x="82.1" y="539.6" font-size="8.6" text-anchor="middle">60</text>
<text x="96.4" y="539.6" font-size="8.6" text-anchor="middle">90</text>
<text x="110.4" y="539.6" font-size="8.6" text-anchor="middle">120</text>
<text x="74.5" y="549.6" font-size="8.8" text-anchor="middle">Time (min)</text>
<polyline points="39,485.38 53.3,459.33 67.9,471.54 82.1,486.6 96.4,493.52 110.4,494.74" fill="none" stroke="#2a2a2a" stroke-width="1"/>
<line x1="39" y1="481.38" x2="39" y2="489.38" stroke="#2a2a2a" stroke-width="0.6"/>
<line x1="37.5" y1="481.38" x2="40.5" y2="481.38" stroke="#2a2a2a" stroke-width="0.6"/>
<line x1="37.5" y1="489.38" x2="40.5" y2="489.38" stroke="#2a2a2a" stroke-width="0.6"/>
<line x1="53.3" y1="456.83" x2="53.3" y2="461.83" stroke="#2a2a2a" stroke-width="0.6"/>
<line x1="51.8" y1="456.83" x2="54.8" y2="456.83" stroke="#2a2a2a" stroke-width="0.6"/>
<line x1="51.8" y1="461.83" x2="54.8" y2="461.83" stroke="#2a2a2a" stroke-width="0.6"/>
<line x1="67.9" y1="469.04" x2="67.9" y2="474.04" stroke="#2a2a2a" stroke-width="0.6"/>
<line x1="66.4" y1="469.04" x2="69.4" y2="469.04" stroke="#2a2a2a" stroke-width="0.6"/>
<line x1="66.4" y1="474.04" x2="69.4" y2="474.04" stroke="#2a2a2a" stroke-width="0.6"/>
<line x1="82.1" y1="484.6" x2="82.1" y2="488.6" stroke="#2a2a2a" stroke-width="0.6"/>
<line x1="80.6" y1="484.6" x2="83.6" y2="484.6" stroke="#2a2a2a" stroke-width="0.6"/>
<line x1="80.6" y1="488.6" x2="83.6" y2="488.6" stroke="#2a2a2a" stroke-width="0.6"/>
<line x1="96.4" y1="492.02" x2="96.4" y2="495.02" stroke="#2a2a2a" stroke-width="0.6"/>
<line x1="94.9" y1="492.02" x2="97.9" y2="492.02" stroke="#2a2a2a" stroke-width="0.6"/>
<line x1="94.9" y1="495.02" x2="97.9" y2="495.02" stroke="#2a2a2a" stroke-width="0.6"/>
<line x1="110.4" y1="493.74" x2="110.4" y2="495.74" stroke="#2a2a2a" stroke-width="0.6"/>
<line x1="108.9" y1="493.74" x2="111.9" y2="493.74" stroke="#2a2a2a" stroke-width="0.6"/>
<line x1="108.9" y1="495.74" x2="111.9" y2="495.74" stroke="#2a2a2a" stroke-width="0.6"/>
<circle cx="39" cy="485.38" r="1.8" fill="#111"/>
<circle cx="53.3" cy="459.33" r="1.8" fill="#111"/>
<circle cx="67.9" cy="471.54" r="1.8" fill="#111"/>
<circle cx="82.1" cy="486.6" r="1.8" fill="#111"/>
<circle cx="96.4" cy="493.52" r="1.8" fill="#111"/>
<circle cx="110.4" cy="494.74" r="1.8" fill="#111"/>
<polyline points="39,488.63 53.3,470.32 67.9,481.31 82.1,492.3 96.4,496.77 110.4,499.22" fill="none" stroke="#2a2a2a" stroke-width="1"/>
<line x1="39" y1="485.63" x2="39" y2="491.63" stroke="#2a2a2a" stroke-width="0.6"/>
<line x1="37.5" y1="485.63" x2="40.5" y2="485.63" stroke="#2a2a2a" stroke-width="0.6"/>
<line x1="37.5" y1="491.63" x2="40.5" y2="491.63" stroke="#2a2a2a" stroke-width="0.6"/>
<line x1="53.3" y1="468.32" x2="53.3" y2="472.32" stroke="#2a2a2a" stroke-width="0.6"/>
<line x1="51.8" y1="468.32" x2="54.8" y2="468.32" stroke="#2a2a2a" stroke-width="0.6"/>
<line x1="51.8" y1="472.32" x2="54.8" y2="472.32" stroke="#2a2a2a" stroke-width="0.6"/>
<line x1="67.9" y1="479.81" x2="67.9" y2="482.81" stroke="#2a2a2a" stroke-width="0.6"/>
<line x1="66.4" y1="479.81" x2="69.4" y2="479.81" stroke="#2a2a2a" stroke-width="0.6"/>
<line x1="66.4" y1="482.81" x2="69.4" y2="482.81" stroke="#2a2a2a" stroke-width="0.6"/>
<line x1="82.1" y1="490.8" x2="82.1" y2="493.8" stroke="#2a2a2a" stroke-width="0.6"/>
<line x1="80.6" y1="490.8" x2="83.6" y2="490.8" stroke="#2a2a2a" stroke-width="0.6"/>
<line x1="80.6" y1="493.8" x2="83.6" y2="493.8" stroke="#2a2a2a" stroke-width="0.6"/>
<line x1="96.4" y1="495.27" x2="96.4" y2="498.27" stroke="#2a2a2a" stroke-width="0.6"/>
<line x1="94.9" y1="495.27" x2="97.9" y2="495.27" stroke="#2a2a2a" stroke-width="0.6"/>
<line x1="94.9" y1="498.27" x2="97.9" y2="498.27" stroke="#2a2a2a" stroke-width="0.6"/>
<line x1="110.4" y1="498.02" x2="110.4" y2="500.42" stroke="#2a2a2a" stroke-width="0.6"/>
<line x1="108.9" y1="498.02" x2="111.9" y2="498.02" stroke="#2a2a2a" stroke-width="0.6"/>
<line x1="108.9" y1="500.42" x2="111.9" y2="500.42" stroke="#2a2a2a" stroke-width="0.6"/>
<rect x="37.3" y="486.93" width="3.4" height="3.4" fill="#111"/>
<rect x="51.6" y="468.62" width="3.4" height="3.4" fill="#111"/>
<rect x="66.2" y="479.61" width="3.4" height="3.4" fill="#111"/>
<rect x="80.4" y="490.6" width="3.4" height="3.4" fill="#111"/>
<rect x="94.7" y="495.07" width="3.4" height="3.4" fill="#111"/>
<rect x="108.7" y="497.52" width="3.4" height="3.4" fill="#111"/>
<text x="53.67" y="455.03" font-size="6.6" text-anchor="middle" letter-spacing="0.75">*</text>
<text x="68.28" y="466.23" font-size="6.6" text-anchor="middle" letter-spacing="0.75">*</text>
<line x1="64.6" y1="514.2" x2="76.7" y2="514.2" stroke="#2a2a2a" stroke-width="0.9"/>
<circle cx="70.65" cy="514.2" r="1.8" fill="#111"/>
<text x="77.6" y="516.8" font-size="7.1">Control</text>
<line x1="64.6" y1="521.8" x2="76.7" y2="521.8" stroke="#2a2a2a" stroke-width="0.9"/>
<rect x="68.94" y="520.09" width="3.42" height="3.42" fill="#111"/>
<text x="77.6" y="524.4" font-size="7.1">Rhamnose</text>
<rect x="105.1" y="437.8" width="7.4" height="3.6" fill="#1a1a1a" stroke="#2a2a2a" stroke-width="0.6"/>
<text x="113.2" y="442.2" font-size="7.1">Control</text>
<rect x="105.1" y="444.5" width="7.4" height="3.6" fill="#a39a96" stroke="#2a2a2a" stroke-width="0.6"/>
<text x="113.2" y="448.9" font-size="7.1">Rhamnose</text>
<line x1="123.3" y1="457.2" x2="123.3" y2="492.3" stroke="#2a2a2a" stroke-width="0.8"/>
<line x1="121.3" y1="492.3" x2="123.3" y2="492.3" stroke="#2a2a2a" stroke-width="0.8"/>
<text x="120.8" y="495.25" font-size="8.2" text-anchor="end">0</text>
<line x1="121.3" y1="480.6" x2="123.3" y2="480.6" stroke="#2a2a2a" stroke-width="0.8"/>
<text x="120.8" y="483.55" font-size="8.2" text-anchor="end">20</text>
<line x1="121.3" y1="468.9" x2="123.3" y2="468.9" stroke="#2a2a2a" stroke-width="0.8"/>
<text x="120.8" y="471.85" font-size="8.2" text-anchor="end">40</text>
<line x1="121.3" y1="457.2" x2="123.3" y2="457.2" stroke="#2a2a2a" stroke-width="0.8"/>
<text x="120.8" y="460.15" font-size="8.2" text-anchor="end">60</text>
<text x="111.4" y="473.5" font-size="8.4" text-anchor="middle" transform="rotate(-90 111.4 473.5)">AUC</text>
<line x1="123.3" y1="492.3" x2="142.8" y2="492.3" stroke="#2a2a2a" stroke-width="0.8"/>
<rect x="126.6" y="458.96" width="5.8" height="33.34" fill="#1a1a1a" stroke="#2a2a2a" stroke-width="0.85"/>
<rect x="134" y="463.05" width="5.8" height="29.25" fill="#a39a96" stroke="#2a2a2a" stroke-width="0.85"/>
<polyline points="129.4,458 129.4,454.6 137.8,454.6 137.8,461.3" fill="none" stroke="#2a2a2a" stroke-width="0.7"/>
<text x="133.98" y="455.63" font-size="6.6" text-anchor="middle" letter-spacing="0.75">*</text>
<text x="153.1" y="433.6" font-size="14.5" font-weight="bold" stroke-width="0.1">N</text>
<line x1="175.4" y1="446.2" x2="189.1" y2="446.2" stroke="#2a2a2a" stroke-width="0.9"/>
<circle cx="182.25" cy="446.2" r="1.8" fill="#111"/>
<text x="190.6" y="448.8" font-size="8.1">UCP1 KO+Control</text>
<line x1="175.4" y1="452.9" x2="189.1" y2="452.9" stroke="#2a2a2a" stroke-width="0.9"/>
<rect x="180.54" y="451.19" width="3.42" height="3.42" fill="#111"/>
<text x="190.6" y="455.5" font-size="8.1">UCP1 KO+Rhamnose</text>
<line x1="185.5" y1="470.3" x2="185.5" y2="536.3" stroke="#2a2a2a" stroke-width="0.8"/>
<line x1="181.5" y1="536.3" x2="185.5" y2="536.3" stroke="#2a2a2a" stroke-width="0.8"/>
<text x="180.9" y="539.47" font-size="8.8" text-anchor="end">0</text>
<line x1="181.5" y1="514.3" x2="185.5" y2="514.3" stroke="#2a2a2a" stroke-width="0.8"/>
<text x="180.9" y="517.47" font-size="8.8" text-anchor="end">50</text>
<line x1="181.5" y1="492.3" x2="185.5" y2="492.3" stroke="#2a2a2a" stroke-width="0.8"/>
<text x="180.9" y="495.47" font-size="8.8" text-anchor="end">100</text>
<line x1="181.5" y1="470.3" x2="185.5" y2="470.3" stroke="#2a2a2a" stroke-width="0.8"/>
<text x="180.9" y="473.47" font-size="8.8" text-anchor="end">150</text>
<text x="165.2" y="503" font-size="9" text-anchor="middle" transform="rotate(-90 165.2 503)">VO<tspan font-size="6" dy="1.5">2</tspan><tspan dy="-1.5"> (mL/h)</tspan></text>
<rect x="187.7" y="470.3" width="9.3" height="4.3" fill="#fff" stroke="#2a2a2a" stroke-width="0.7"/>
<text x="199.1" y="475.6" font-size="8.6">Day</text>
<rect x="187.7" y="479.7" width="9.3" height="4.2" fill="#1a1a1a" stroke="#2a2a2a" stroke-width="0.5"/>
<text x="199.1" y="484.9" font-size="8.6">Night</text>
<rect x="186.3" y="530.6" width="39.2" height="5.7" fill="#fff" stroke="#2a2a2a" stroke-width="0.8"/>
<rect x="225.5" y="530.6" width="40.3" height="5.7" fill="#1a1a1a" stroke="#2a2a2a" stroke-width="0.5"/>
<line x1="185.5" y1="536.3" x2="267" y2="536.3" stroke="#2a2a2a" stroke-width="0.8"/>
<polyline points="186.8,512.1 190.21,511.66 193.62,511.66 197.03,511.22 200.43,510.78 203.84,510.34 207.25,509.9 210.66,509.02 214.07,508.14 217.48,507.26 220.89,505.5 224.3,496.7 227.7,492.74 231.11,493.62 234.52,494.5 237.93,495.38 241.34,496.26 244.75,497.58 248.16,498.9 251.57,500.22 254.97,501.98 258.38,503.74 261.79,505.5 265.2,507.26" fill="none" stroke="#2a2a2a" stroke-width="1"/>
<line x1="186.8" y1="510.1" x2="186.8" y2="514.1" stroke="#2a2a2a" stroke-width="0.6"/>
<line x1="185.6" y1="510.1" x2="188" y2="510.1" stroke="#2a2a2a" stroke-width="0.6"/>
<line x1="185.6" y1="514.1" x2="188" y2="514.1" stroke="#2a2a2a" stroke-width="0.6"/>
<line x1="190.21" y1="509.66" x2="190.21" y2="513.66" stroke="#2a2a2a" stroke-width="0.6"/>
<line x1="189.01" y1="509.66" x2="191.41" y2="509.66" stroke="#2a2a2a" stroke-width="0.6"/>
<line x1="189.01" y1="513.66" x2="191.41" y2="513.66" stroke="#2a2a2a" stroke-width="0.6"/>
<line x1="193.62" y1="509.66" x2="193.62" y2="513.66" stroke="#2a2a2a" stroke-width="0.6"/>
<line x1="192.42" y1="509.66" x2="194.82" y2="509.66" stroke="#2a2a2a" stroke-width="0.6"/>
<line x1="192.42" y1="513.66" x2="194.82" y2="513.66" stroke="#2a2a2a" stroke-width="0.6"/>
<line x1="197.03" y1="509.22" x2="197.03" y2="513.22" stroke="#2a2a2a" stroke-width="0.6"/>
<line x1="195.83" y1="509.22" x2="198.23" y2="509.22" stroke="#2a2a2a" stroke-width="0.6"/>
<line x1="195.83" y1="513.22" x2="198.23" y2="513.22" stroke="#2a2a2a" stroke-width="0.6"/>
<line x1="200.43" y1="508.78" x2="200.43" y2="512.78" stroke="#2a2a2a" stroke-width="0.6"/>
<line x1="199.23" y1="508.78" x2="201.63" y2="508.78" stroke="#2a2a2a" stroke-width="0.6"/>
<line x1="199.23" y1="512.78" x2="201.63" y2="512.78" stroke="#2a2a2a" stroke-width="0.6"/>
<line x1="203.84" y1="508.34" x2="203.84" y2="512.34" stroke="#2a2a2a" stroke-width="0.6"/>
<line x1="202.64" y1="508.34" x2="205.04" y2="508.34" stroke="#2a2a2a" stroke-width="0.6"/>
<line x1="202.64" y1="512.34" x2="205.04" y2="512.34" stroke="#2a2a2a" stroke-width="0.6"/>
<line x1="207.25" y1="507.9" x2="207.25" y2="511.9" stroke="#2a2a2a" stroke-width="0.6"/>
<line x1="206.05" y1="507.9" x2="208.45" y2="507.9" stroke="#2a2a2a" stroke-width="0.6"/>
<line x1="206.05" y1="511.9" x2="208.45" y2="511.9" stroke="#2a2a2a" stroke-width="0.6"/>
<line x1="210.66" y1="507.02" x2="210.66" y2="511.02" stroke="#2a2a2a" stroke-width="0.6"/>
<line x1="209.46" y1="507.02" x2="211.86" y2="507.02" stroke="#2a2a2a" stroke-width="0.6"/>
<line x1="209.46" y1="511.02" x2="211.86" y2="511.02" stroke="#2a2a2a" stroke-width="0.6"/>
<line x1="214.07" y1="506.14" x2="214.07" y2="510.14" stroke="#2a2a2a" stroke-width="0.6"/>
<line x1="212.87" y1="506.14" x2="215.27" y2="506.14" stroke="#2a2a2a" stroke-width="0.6"/>
<line x1="212.87" y1="510.14" x2="215.27" y2="510.14" stroke="#2a2a2a" stroke-width="0.6"/>
<line x1="217.48" y1="505.26" x2="217.48" y2="509.26" stroke="#2a2a2a" stroke-width="0.6"/>
<line x1="216.28" y1="505.26" x2="218.68" y2="505.26" stroke="#2a2a2a" stroke-width="0.6"/>
<line x1="216.28" y1="509.26" x2="218.68" y2="509.26" stroke="#2a2a2a" stroke-width="0.6"/>
<line x1="220.89" y1="503.5" x2="220.89" y2="507.5" stroke="#2a2a2a" stroke-width="0.6"/>
<line x1="219.69" y1="503.5" x2="222.09" y2="503.5" stroke="#2a2a2a" stroke-width="0.6"/>
<line x1="219.69" y1="507.5" x2="222.09" y2="507.5" stroke="#2a2a2a" stroke-width="0.6"/>
<line x1="224.3" y1="494.7" x2="224.3" y2="498.7" stroke="#2a2a2a" stroke-width="0.6"/>
<line x1="223.1" y1="494.7" x2="225.5" y2="494.7" stroke="#2a2a2a" stroke-width="0.6"/>
<line x1="223.1" y1="498.7" x2="225.5" y2="498.7" stroke="#2a2a2a" stroke-width="0.6"/>
<line x1="227.7" y1="490.74" x2="227.7" y2="494.74" stroke="#2a2a2a" stroke-width="0.6"/>
<line x1="226.5" y1="490.74" x2="228.9" y2="490.74" stroke="#2a2a2a" stroke-width="0.6"/>
<line x1="226.5" y1="494.74" x2="228.9" y2="494.74" stroke="#2a2a2a" stroke-width="0.6"/>
<line x1="231.11" y1="491.62" x2="231.11" y2="495.62" stroke="#2a2a2a" stroke-width="0.6"/>
<line x1="229.91" y1="491.62" x2="232.31" y2="491.62" stroke="#2a2a2a" stroke-width="0.6"/>
<line x1="229.91" y1="495.62" x2="232.31" y2="495.62" stroke="#2a2a2a" stroke-width="0.6"/>
<line x1="234.52" y1="492.5" x2="234.52" y2="496.5" stroke="#2a2a2a" stroke-width="0.6"/>
<line x1="233.32" y1="492.5" x2="235.72" y2="492.5" stroke="#2a2a2a" stroke-width="0.6"/>
<line x1="233.32" y1="496.5" x2="235.72" y2="496.5" stroke="#2a2a2a" stroke-width="0.6"/>
<line x1="237.93" y1="493.38" x2="237.93" y2="497.38" stroke="#2a2a2a" stroke-width="0.6"/>
<line x1="236.73" y1="493.38" x2="239.13" y2="493.38" stroke="#2a2a2a" stroke-width="0.6"/>
<line x1="236.73" y1="497.38" x2="239.13" y2="497.38" stroke="#2a2a2a" stroke-width="0.6"/>
<line x1="241.34" y1="494.26" x2="241.34" y2="498.26" stroke="#2a2a2a" stroke-width="0.6"/>
<line x1="240.14" y1="494.26" x2="242.54" y2="494.26" stroke="#2a2a2a" stroke-width="0.6"/>
<line x1="240.14" y1="498.26" x2="242.54" y2="498.26" stroke="#2a2a2a" stroke-width="0.6"/>
<line x1="244.75" y1="495.58" x2="244.75" y2="499.58" stroke="#2a2a2a" stroke-width="0.6"/>
<line x1="243.55" y1="495.58" x2="245.95" y2="495.58" stroke="#2a2a2a" stroke-width="0.6"/>
<line x1="243.55" y1="499.58" x2="245.95" y2="499.58" stroke="#2a2a2a" stroke-width="0.6"/>
<line x1="248.16" y1="496.9" x2="248.16" y2="500.9" stroke="#2a2a2a" stroke-width="0.6"/>
<line x1="246.96" y1="496.9" x2="249.36" y2="496.9" stroke="#2a2a2a" stroke-width="0.6"/>
<line x1="246.96" y1="500.9" x2="249.36" y2="500.9" stroke="#2a2a2a" stroke-width="0.6"/>
<line x1="251.57" y1="498.22" x2="251.57" y2="502.22" stroke="#2a2a2a" stroke-width="0.6"/>
<line x1="250.37" y1="498.22" x2="252.77" y2="498.22" stroke="#2a2a2a" stroke-width="0.6"/>
<line x1="250.37" y1="502.22" x2="252.77" y2="502.22" stroke="#2a2a2a" stroke-width="0.6"/>
<line x1="254.97" y1="499.98" x2="254.97" y2="503.98" stroke="#2a2a2a" stroke-width="0.6"/>
<line x1="253.77" y1="499.98" x2="256.17" y2="499.98" stroke="#2a2a2a" stroke-width="0.6"/>
<line x1="253.77" y1="503.98" x2="256.17" y2="503.98" stroke="#2a2a2a" stroke-width="0.6"/>
<line x1="258.38" y1="501.74" x2="258.38" y2="505.74" stroke="#2a2a2a" stroke-width="0.6"/>
<line x1="257.18" y1="501.74" x2="259.58" y2="501.74" stroke="#2a2a2a" stroke-width="0.6"/>
<line x1="257.18" y1="505.74" x2="259.58" y2="505.74" stroke="#2a2a2a" stroke-width="0.6"/>
<line x1="261.79" y1="503.5" x2="261.79" y2="507.5" stroke="#2a2a2a" stroke-width="0.6"/>
<line x1="260.59" y1="503.5" x2="262.99" y2="503.5" stroke="#2a2a2a" stroke-width="0.6"/>
<line x1="260.59" y1="507.5" x2="262.99" y2="507.5" stroke="#2a2a2a" stroke-width="0.6"/>
<line x1="265.2" y1="505.26" x2="265.2" y2="509.26" stroke="#2a2a2a" stroke-width="0.6"/>
<line x1="264" y1="505.26" x2="266.4" y2="505.26" stroke="#2a2a2a" stroke-width="0.6"/>
<line x1="264" y1="509.26" x2="266.4" y2="509.26" stroke="#2a2a2a" stroke-width="0.6"/>
<circle cx="186.8" cy="512.1" r="1.4" fill="#111"/>
<circle cx="190.21" cy="511.66" r="1.4" fill="#111"/>
<circle cx="193.62" cy="511.66" r="1.4" fill="#111"/>
<circle cx="197.03" cy="511.22" r="1.4" fill="#111"/>
<circle cx="200.43" cy="510.78" r="1.4" fill="#111"/>
<circle cx="203.84" cy="510.34" r="1.4" fill="#111"/>
<circle cx="207.25" cy="509.9" r="1.4" fill="#111"/>
<circle cx="210.66" cy="509.02" r="1.4" fill="#111"/>
<circle cx="214.07" cy="508.14" r="1.4" fill="#111"/>
<circle cx="217.48" cy="507.26" r="1.4" fill="#111"/>
<circle cx="220.89" cy="505.5" r="1.4" fill="#111"/>
<circle cx="224.3" cy="496.7" r="1.4" fill="#111"/>
<circle cx="227.7" cy="492.74" r="1.4" fill="#111"/>
<circle cx="231.11" cy="493.62" r="1.4" fill="#111"/>
<circle cx="234.52" cy="494.5" r="1.4" fill="#111"/>
<circle cx="237.93" cy="495.38" r="1.4" fill="#111"/>
<circle cx="241.34" cy="496.26" r="1.4" fill="#111"/>
<circle cx="244.75" cy="497.58" r="1.4" fill="#111"/>
<circle cx="248.16" cy="498.9" r="1.4" fill="#111"/>
<circle cx="251.57" cy="500.22" r="1.4" fill="#111"/>
<circle cx="254.97" cy="501.98" r="1.4" fill="#111"/>
<circle cx="258.38" cy="503.74" r="1.4" fill="#111"/>
<circle cx="261.79" cy="505.5" r="1.4" fill="#111"/>
<circle cx="265.2" cy="507.26" r="1.4" fill="#111"/>
<polyline points="186.8,511.66 190.21,512.1 193.62,511.22 197.03,510.78 200.43,511.22 203.84,509.9 207.25,509.46 210.66,509.46 214.07,508.58 217.48,506.82 220.89,504.62 224.3,495.82 227.7,492.3 231.11,493.18 234.52,494.06 237.93,495.38 241.34,496.7 244.75,498.02 248.16,499.34 251.57,501.1 254.97,502.42 258.38,504.18 261.79,505.94 265.2,508.14" fill="none" stroke="#2a2a2a" stroke-width="1"/>
<line x1="186.8" y1="509.66" x2="186.8" y2="513.66" stroke="#2a2a2a" stroke-width="0.6"/>
<line x1="185.6" y1="509.66" x2="188" y2="509.66" stroke="#2a2a2a" stroke-width="0.6"/>
<line x1="185.6" y1="513.66" x2="188" y2="513.66" stroke="#2a2a2a" stroke-width="0.6"/>
<line x1="190.21" y1="510.1" x2="190.21" y2="514.1" stroke="#2a2a2a" stroke-width="0.6"/>
<line x1="189.01" y1="510.1" x2="191.41" y2="510.1" stroke="#2a2a2a" stroke-width="0.6"/>
<line x1="189.01" y1="514.1" x2="191.41" y2="514.1" stroke="#2a2a2a" stroke-width="0.6"/>
<line x1="193.62" y1="509.22" x2="193.62" y2="513.22" stroke="#2a2a2a" stroke-width="0.6"/>
<line x1="192.42" y1="509.22" x2="194.82" y2="509.22" stroke="#2a2a2a" stroke-width="0.6"/>
<line x1="192.42" y1="513.22" x2="194.82" y2="513.22" stroke="#2a2a2a" stroke-width="0.6"/>
<line x1="197.03" y1="508.78" x2="197.03" y2="512.78" stroke="#2a2a2a" stroke-width="0.6"/>
<line x1="195.83" y1="508.78" x2="198.23" y2="508.78" stroke="#2a2a2a" stroke-width="0.6"/>
<line x1="195.83" y1="512.78" x2="198.23" y2="512.78" stroke="#2a2a2a" stroke-width="0.6"/>
<line x1="200.43" y1="509.22" x2="200.43" y2="513.22" stroke="#2a2a2a" stroke-width="0.6"/>
<line x1="199.23" y1="509.22" x2="201.63" y2="509.22" stroke="#2a2a2a" stroke-width="0.6"/>
<line x1="199.23" y1="513.22" x2="201.63" y2="513.22" stroke="#2a2a2a" stroke-width="0.6"/>
<line x1="203.84" y1="507.9" x2="203.84" y2="511.9" stroke="#2a2a2a" stroke-width="0.6"/>
<line x1="202.64" y1="507.9" x2="205.04" y2="507.9" stroke="#2a2a2a" stroke-width="0.6"/>
<line x1="202.64" y1="511.9" x2="205.04" y2="511.9" stroke="#2a2a2a" stroke-width="0.6"/>
<line x1="207.25" y1="507.46" x2="207.25" y2="511.46" stroke="#2a2a2a" stroke-width="0.6"/>
<line x1="206.05" y1="507.46" x2="208.45" y2="507.46" stroke="#2a2a2a" stroke-width="0.6"/>
<line x1="206.05" y1="511.46" x2="208.45" y2="511.46" stroke="#2a2a2a" stroke-width="0.6"/>
<line x1="210.66" y1="507.46" x2="210.66" y2="511.46" stroke="#2a2a2a" stroke-width="0.6"/>
<line x1="209.46" y1="507.46" x2="211.86" y2="507.46" stroke="#2a2a2a" stroke-width="0.6"/>
<line x1="209.46" y1="511.46" x2="211.86" y2="511.46" stroke="#2a2a2a" stroke-width="0.6"/>
<line x1="214.07" y1="506.58" x2="214.07" y2="510.58" stroke="#2a2a2a" stroke-width="0.6"/>
<line x1="212.87" y1="506.58" x2="215.27" y2="506.58" stroke="#2a2a2a" stroke-width="0.6"/>
<line x1="212.87" y1="510.58" x2="215.27" y2="510.58" stroke="#2a2a2a" stroke-width="0.6"/>
<line x1="217.48" y1="504.82" x2="217.48" y2="508.82" stroke="#2a2a2a" stroke-width="0.6"/>
<line x1="216.28" y1="504.82" x2="218.68" y2="504.82" stroke="#2a2a2a" stroke-width="0.6"/>
<line x1="216.28" y1="508.82" x2="218.68" y2="508.82" stroke="#2a2a2a" stroke-width="0.6"/>
<line x1="220.89" y1="502.62" x2="220.89" y2="506.62" stroke="#2a2a2a" stroke-width="0.6"/>
<line x1="219.69" y1="502.62" x2="222.09" y2="502.62" stroke="#2a2a2a" stroke-width="0.6"/>
<line x1="219.69" y1="506.62" x2="222.09" y2="506.62" stroke="#2a2a2a" stroke-width="0.6"/>
<line x1="224.3" y1="493.82" x2="224.3" y2="497.82" stroke="#2a2a2a" stroke-width="0.6"/>
<line x1="223.1" y1="493.82" x2="225.5" y2="493.82" stroke="#2a2a2a" stroke-width="0.6"/>
<line x1="223.1" y1="497.82" x2="225.5" y2="497.82" stroke="#2a2a2a" stroke-width="0.6"/>
<line x1="227.7" y1="490.3" x2="227.7" y2="494.3" stroke="#2a2a2a" stroke-width="0.6"/>
<line x1="226.5" y1="490.3" x2="228.9" y2="490.3" stroke="#2a2a2a" stroke-width="0.6"/>
<line x1="226.5" y1="494.3" x2="228.9" y2="494.3" stroke="#2a2a2a" stroke-width="0.6"/>
<line x1="231.11" y1="491.18" x2="231.11" y2="495.18" stroke="#2a2a2a" stroke-width="0.6"/>
<line x1="229.91" y1="491.18" x2="232.31" y2="491.18" stroke="#2a2a2a" stroke-width="0.6"/>
<line x1="229.91" y1="495.18" x2="232.31" y2="495.18" stroke="#2a2a2a" stroke-width="0.6"/>
<line x1="234.52" y1="492.06" x2="234.52" y2="496.06" stroke="#2a2a2a" stroke-width="0.6"/>
<line x1="233.32" y1="492.06" x2="235.72" y2="492.06" stroke="#2a2a2a" stroke-width="0.6"/>
<line x1="233.32" y1="496.06" x2="235.72" y2="496.06" stroke="#2a2a2a" stroke-width="0.6"/>
<line x1="237.93" y1="493.38" x2="237.93" y2="497.38" stroke="#2a2a2a" stroke-width="0.6"/>
<line x1="236.73" y1="493.38" x2="239.13" y2="493.38" stroke="#2a2a2a" stroke-width="0.6"/>
<line x1="236.73" y1="497.38" x2="239.13" y2="497.38" stroke="#2a2a2a" stroke-width="0.6"/>
<line x1="241.34" y1="494.7" x2="241.34" y2="498.7" stroke="#2a2a2a" stroke-width="0.6"/>
<line x1="240.14" y1="494.7" x2="242.54" y2="494.7" stroke="#2a2a2a" stroke-width="0.6"/>
<line x1="240.14" y1="498.7" x2="242.54" y2="498.7" stroke="#2a2a2a" stroke-width="0.6"/>
<line x1="244.75" y1="496.02" x2="244.75" y2="500.02" stroke="#2a2a2a" stroke-width="0.6"/>
<line x1="243.55" y1="496.02" x2="245.95" y2="496.02" stroke="#2a2a2a" stroke-width="0.6"/>
<line x1="243.55" y1="500.02" x2="245.95" y2="500.02" stroke="#2a2a2a" stroke-width="0.6"/>
<line x1="248.16" y1="497.34" x2="248.16" y2="501.34" stroke="#2a2a2a" stroke-width="0.6"/>
<line x1="246.96" y1="497.34" x2="249.36" y2="497.34" stroke="#2a2a2a" stroke-width="0.6"/>
<line x1="246.96" y1="501.34" x2="249.36" y2="501.34" stroke="#2a2a2a" stroke-width="0.6"/>
<line x1="251.57" y1="499.1" x2="251.57" y2="503.1" stroke="#2a2a2a" stroke-width="0.6"/>
<line x1="250.37" y1="499.1" x2="252.77" y2="499.1" stroke="#2a2a2a" stroke-width="0.6"/>
<line x1="250.37" y1="503.1" x2="252.77" y2="503.1" stroke="#2a2a2a" stroke-width="0.6"/>
<line x1="254.97" y1="500.42" x2="254.97" y2="504.42" stroke="#2a2a2a" stroke-width="0.6"/>
<line x1="253.77" y1="500.42" x2="256.17" y2="500.42" stroke="#2a2a2a" stroke-width="0.6"/>
<line x1="253.77" y1="504.42" x2="256.17" y2="504.42" stroke="#2a2a2a" stroke-width="0.6"/>
<line x1="258.38" y1="502.18" x2="258.38" y2="506.18" stroke="#2a2a2a" stroke-width="0.6"/>
<line x1="257.18" y1="502.18" x2="259.58" y2="502.18" stroke="#2a2a2a" stroke-width="0.6"/>
<line x1="257.18" y1="506.18" x2="259.58" y2="506.18" stroke="#2a2a2a" stroke-width="0.6"/>
<line x1="261.79" y1="503.94" x2="261.79" y2="507.94" stroke="#2a2a2a" stroke-width="0.6"/>
<line x1="260.59" y1="503.94" x2="262.99" y2="503.94" stroke="#2a2a2a" stroke-width="0.6"/>
<line x1="260.59" y1="507.94" x2="262.99" y2="507.94" stroke="#2a2a2a" stroke-width="0.6"/>
<line x1="265.2" y1="506.14" x2="265.2" y2="510.14" stroke="#2a2a2a" stroke-width="0.6"/>
<line x1="264" y1="506.14" x2="266.4" y2="506.14" stroke="#2a2a2a" stroke-width="0.6"/>
<line x1="264" y1="510.14" x2="266.4" y2="510.14" stroke="#2a2a2a" stroke-width="0.6"/>
<rect x="185.4" y="510.26" width="2.8" height="2.8" fill="#111"/>
<rect x="188.81" y="510.7" width="2.8" height="2.8" fill="#111"/>
<rect x="192.22" y="509.82" width="2.8" height="2.8" fill="#111"/>
<rect x="195.63" y="509.38" width="2.8" height="2.8" fill="#111"/>
<rect x="199.03" y="509.82" width="2.8" height="2.8" fill="#111"/>
<rect x="202.44" y="508.5" width="2.8" height="2.8" fill="#111"/>
<rect x="205.85" y="508.06" width="2.8" height="2.8" fill="#111"/>
<rect x="209.26" y="508.06" width="2.8" height="2.8" fill="#111"/>
<rect x="212.67" y="507.18" width="2.8" height="2.8" fill="#111"/>
<rect x="216.08" y="505.42" width="2.8" height="2.8" fill="#111"/>
<rect x="219.49" y="503.22" width="2.8" height="2.8" fill="#111"/>
<rect x="222.9" y="494.42" width="2.8" height="2.8" fill="#111"/>
<rect x="226.3" y="490.9" width="2.8" height="2.8" fill="#111"/>
<rect x="229.71" y="491.78" width="2.8" height="2.8" fill="#111"/>
<rect x="233.12" y="492.66" width="2.8" height="2.8" fill="#111"/>
<rect x="236.53" y="493.98" width="2.8" height="2.8" fill="#111"/>
<rect x="239.94" y="495.3" width="2.8" height="2.8" fill="#111"/>
<rect x="243.35" y="496.62" width="2.8" height="2.8" fill="#111"/>
<rect x="246.76" y="497.94" width="2.8" height="2.8" fill="#111"/>
<rect x="250.17" y="499.7" width="2.8" height="2.8" fill="#111"/>
<rect x="253.57" y="501.02" width="2.8" height="2.8" fill="#111"/>
<rect x="256.98" y="502.78" width="2.8" height="2.8" fill="#111"/>
<rect x="260.39" y="504.54" width="2.8" height="2.8" fill="#111"/>
<rect x="263.8" y="506.74" width="2.8" height="2.8" fill="#111"/>
<polyline points="266,502.5 267.2,502.5 267.2,509.5 266,509.5" fill="none" stroke="#2a2a2a" stroke-width="0.6"/>
<text x="268.6" y="506" font-size="7.5" text-anchor="middle" transform="rotate(90 268.6 506)">ns</text>
<text x="278.6" y="433.6" font-size="14.5" font-weight="bold" stroke-width="0.1">O</text>
<rect x="295.4" y="443.8" width="8.4" height="3.9" fill="#1a1a1a" stroke="#2a2a2a" stroke-width="0.6"/>
<text x="305" y="448.3" font-size="7.3">UCP1 KO</text>
<text x="306.2" y="456.9" font-size="7.2">+Control</text>
<rect x="295.4" y="460.8" width="8.4" height="3.8" fill="#a39a96" stroke="#2a2a2a" stroke-width="0.6"/>
<text x="305" y="465.3" font-size="7.3">UCP1 KO</text>
<text x="306.2" y="473.6" font-size="7.2">+Rhamnose</text>
<line x1="311.2" y1="482.84" x2="311.2" y2="536" stroke="#2a2a2a" stroke-width="0.8"/>
<line x1="308.6" y1="536" x2="311.2" y2="536" stroke="#2a2a2a" stroke-width="0.8"/>
<text x="307.8" y="539.1" font-size="8.6" text-anchor="end">0</text>
<line x1="308.6" y1="518.28" x2="311.2" y2="518.28" stroke="#2a2a2a" stroke-width="0.8"/>
<text x="307.8" y="521.38" font-size="8.6" text-anchor="end">4</text>
<line x1="308.6" y1="500.56" x2="311.2" y2="500.56" stroke="#2a2a2a" stroke-width="0.8"/>
<text x="307.8" y="503.66" font-size="8.6" text-anchor="end">8</text>
<line x1="308.6" y1="482.84" x2="311.2" y2="482.84" stroke="#2a2a2a" stroke-width="0.8"/>
<text x="307.8" y="485.94" font-size="8.6" text-anchor="end">12</text>
<text x="290" y="491" font-size="9" text-anchor="middle" transform="rotate(-90 290 491)">Blood glucose (mmol/L)</text>
<line x1="311.2" y1="536" x2="336.5" y2="536" stroke="#2a2a2a" stroke-width="0.8"/>
<line x1="318.35" y1="497.46" x2="318.35" y2="495.24" stroke="#2a2a2a" stroke-width="0.7"/>
<line x1="316.85" y1="495.24" x2="319.85" y2="495.24" stroke="#2a2a2a" stroke-width="0.7"/>
<rect x="314.7" y="497.46" width="7.3" height="38.54" fill="#1a1a1a" stroke="#2a2a2a" stroke-width="0.85"/>
<line x1="328.25" y1="496.13" x2="328.25" y2="492.59" stroke="#2a2a2a" stroke-width="0.7"/>
<line x1="326.75" y1="492.59" x2="329.75" y2="492.59" stroke="#2a2a2a" stroke-width="0.7"/>
<rect x="324.7" y="496.13" width="7.1" height="39.87" fill="#a39a96" stroke="#2a2a2a" stroke-width="0.85"/>
<polyline points="318.9,490.8 318.9,485.4 328.9,485.4 328.9,490.8" fill="none" stroke="#2a2a2a" stroke-width="0.7"/>
<text x="323.9" y="482.3" font-size="8.6" text-anchor="middle">ns</text>
<text x="352.9" y="433.6" font-size="14.5" font-weight="bold" stroke-width="0.1">P</text>
<text x="418" y="448.6" font-size="9" text-anchor="middle">GTT</text>
<line x1="383" y1="451.8" x2="383" y2="525.4" stroke="#2a2a2a" stroke-width="0.8"/>
<line x1="379" y1="525.4" x2="383" y2="525.4" stroke="#2a2a2a" stroke-width="0.8"/>
<text x="378.4" y="528.57" font-size="8.8" text-anchor="end">0</text>
<line x1="379" y1="507" x2="383" y2="507" stroke="#2a2a2a" stroke-width="0.8"/>
<text x="378.4" y="510.17" font-size="8.8" text-anchor="end">5</text>
<line x1="379" y1="488.6" x2="383" y2="488.6" stroke="#2a2a2a" stroke-width="0.8"/>
<text x="378.4" y="491.77" font-size="8.8" text-anchor="end">10</text>
<line x1="379" y1="470.2" x2="383" y2="470.2" stroke="#2a2a2a" stroke-width="0.8"/>
<text x="378.4" y="473.37" font-size="8.8" text-anchor="end">15</text>
<line x1="379" y1="451.8" x2="383" y2="451.8" stroke="#2a2a2a" stroke-width="0.8"/>
<text x="378.4" y="454.97" font-size="8.8" text-anchor="end">20</text>
<text x="365" y="487" font-size="9" text-anchor="middle" transform="rotate(-90 365 487)">Blood glucose (mmol/L)</text>
<line x1="383" y1="525.4" x2="460" y2="525.4" stroke="#2a2a2a" stroke-width="0.8"/>
<line x1="391.3" y1="525.4" x2="391.3" y2="529.2" stroke="#2a2a2a" stroke-width="0.8"/>
<line x1="404" y1="525.4" x2="404" y2="529.2" stroke="#2a2a2a" stroke-width="0.8"/>
<line x1="416.2" y1="525.4" x2="416.2" y2="529.2" stroke="#2a2a2a" stroke-width="0.8"/>
<line x1="428.5" y1="525.4" x2="428.5" y2="529.2" stroke="#2a2a2a" stroke-width="0.8"/>
<line x1="441" y1="525.4" x2="441" y2="529.2" stroke="#2a2a2a" stroke-width="0.8"/>
<line x1="453.7" y1="525.4" x2="453.7" y2="529.2" stroke="#2a2a2a" stroke-width="0.8"/>
<text x="390.6" y="538.6" font-size="8.5" text-anchor="middle">0</text>
<text x="402.8" y="538.6" font-size="8.5" text-anchor="middle">15</text>
<text x="414.6" y="538.6" font-size="8.5" text-anchor="middle">30</text>
<text x="427.2" y="538.6" font-size="8.5" text-anchor="middle">60</text>
<text x="441.9" y="538.6" font-size="8.5" text-anchor="middle">90</text>
<text x="457" y="538.6" font-size="8.5" text-anchor="middle">120</text>
<text x="423.3" y="548" font-size="8.8" textLength="43" lengthAdjust="spacingAndGlyphs" text-anchor="middle">Time (min)</text>
<polyline points="391.3,493.02 404,469.83 416.2,479.77 428.5,490.81 441,495.96 453.7,497.06" fill="none" stroke="#2a2a2a" stroke-width="1"/>
<line x1="391.3" y1="491.02" x2="391.3" y2="495.02" stroke="#2a2a2a" stroke-width="0.6"/>
<line x1="389.8" y1="491.02" x2="392.8" y2="491.02" stroke="#2a2a2a" stroke-width="0.6"/>
<line x1="389.8" y1="495.02" x2="392.8" y2="495.02" stroke="#2a2a2a" stroke-width="0.6"/>
<line x1="404" y1="468.33" x2="404" y2="471.33" stroke="#2a2a2a" stroke-width="0.6"/>
<line x1="402.5" y1="468.33" x2="405.5" y2="468.33" stroke="#2a2a2a" stroke-width="0.6"/>
<line x1="402.5" y1="471.33" x2="405.5" y2="471.33" stroke="#2a2a2a" stroke-width="0.6"/>
<line x1="416.2" y1="478.57" x2="416.2" y2="480.97" stroke="#2a2a2a" stroke-width="0.6"/>
<line x1="414.7" y1="478.57" x2="417.7" y2="478.57" stroke="#2a2a2a" stroke-width="0.6"/>
<line x1="414.7" y1="480.97" x2="417.7" y2="480.97" stroke="#2a2a2a" stroke-width="0.6"/>
<line x1="428.5" y1="489.61" x2="428.5" y2="492.01" stroke="#2a2a2a" stroke-width="0.6"/>
<line x1="427" y1="489.61" x2="430" y2="489.61" stroke="#2a2a2a" stroke-width="0.6"/>
<line x1="427" y1="492.01" x2="430" y2="492.01" stroke="#2a2a2a" stroke-width="0.6"/>
<line x1="441" y1="494.76" x2="441" y2="497.16" stroke="#2a2a2a" stroke-width="0.6"/>
<line x1="439.5" y1="494.76" x2="442.5" y2="494.76" stroke="#2a2a2a" stroke-width="0.6"/>
<line x1="439.5" y1="497.16" x2="442.5" y2="497.16" stroke="#2a2a2a" stroke-width="0.6"/>
<line x1="453.7" y1="495.56" x2="453.7" y2="498.56" stroke="#2a2a2a" stroke-width="0.6"/>
<line x1="452.2" y1="495.56" x2="455.2" y2="495.56" stroke="#2a2a2a" stroke-width="0.6"/>
<line x1="452.2" y1="498.56" x2="455.2" y2="498.56" stroke="#2a2a2a" stroke-width="0.6"/>
<circle cx="391.3" cy="493.02" r="1.8" fill="#111"/>
<circle cx="404" cy="469.83" r="1.8" fill="#111"/>
<circle cx="416.2" cy="479.77" r="1.8" fill="#111"/>
<circle cx="428.5" cy="490.81" r="1.8" fill="#111"/>
<circle cx="441" cy="495.96" r="1.8" fill="#111"/>
<circle cx="453.7" cy="497.06" r="1.8" fill="#111"/>
<polyline points="391.3,494.12 404,470.94 416.2,480.14 428.5,492.28 441,497.8 453.7,499.27" fill="none" stroke="#2a2a2a" stroke-width="1"/>
<line x1="391.3" y1="492.12" x2="391.3" y2="496.12" stroke="#2a2a2a" stroke-width="0.6"/>
<line x1="389.8" y1="492.12" x2="392.8" y2="492.12" stroke="#2a2a2a" stroke-width="0.6"/>
<line x1="389.8" y1="496.12" x2="392.8" y2="496.12" stroke="#2a2a2a" stroke-width="0.6"/>
<line x1="404" y1="469.44" x2="404" y2="472.44" stroke="#2a2a2a" stroke-width="0.6"/>
<line x1="402.5" y1="469.44" x2="405.5" y2="469.44" stroke="#2a2a2a" stroke-width="0.6"/>
<line x1="402.5" y1="472.44" x2="405.5" y2="472.44" stroke="#2a2a2a" stroke-width="0.6"/>
<line x1="416.2" y1="478.94" x2="416.2" y2="481.34" stroke="#2a2a2a" stroke-width="0.6"/>
<line x1="414.7" y1="478.94" x2="417.7" y2="478.94" stroke="#2a2a2a" stroke-width="0.6"/>
<line x1="414.7" y1="481.34" x2="417.7" y2="481.34" stroke="#2a2a2a" stroke-width="0.6"/>
<line x1="428.5" y1="491.08" x2="428.5" y2="493.48" stroke="#2a2a2a" stroke-width="0.6"/>
<line x1="427" y1="491.08" x2="430" y2="491.08" stroke="#2a2a2a" stroke-width="0.6"/>
<line x1="427" y1="493.48" x2="430" y2="493.48" stroke="#2a2a2a" stroke-width="0.6"/>
<line x1="441" y1="496.6" x2="441" y2="499" stroke="#2a2a2a" stroke-width="0.6"/>
<line x1="439.5" y1="496.6" x2="442.5" y2="496.6" stroke="#2a2a2a" stroke-width="0.6"/>
<line x1="439.5" y1="499" x2="442.5" y2="499" stroke="#2a2a2a" stroke-width="0.6"/>
<line x1="453.7" y1="497.77" x2="453.7" y2="500.77" stroke="#2a2a2a" stroke-width="0.6"/>
<line x1="452.2" y1="497.77" x2="455.2" y2="497.77" stroke="#2a2a2a" stroke-width="0.6"/>
<line x1="452.2" y1="500.77" x2="455.2" y2="500.77" stroke="#2a2a2a" stroke-width="0.6"/>
<rect x="389.6" y="492.42" width="3.4" height="3.4" fill="#111"/>
<rect x="402.3" y="469.24" width="3.4" height="3.4" fill="#111"/>
<rect x="414.5" y="478.44" width="3.4" height="3.4" fill="#111"/>
<rect x="426.8" y="490.58" width="3.4" height="3.4" fill="#111"/>
<rect x="439.3" y="496.1" width="3.4" height="3.4" fill="#111"/>
<rect x="452" y="497.57" width="3.4" height="3.4" fill="#111"/>
<line x1="384.9" y1="513.3" x2="395.5" y2="513.3" stroke="#2a2a2a" stroke-width="0.9"/>
<circle cx="390.2" cy="513.3" r="1.8" fill="#111"/>
<text x="399.1" y="515.9" font-size="7.1">UCP1 KO+Control</text>
<line x1="384.9" y1="520.2" x2="395.5" y2="520.2" stroke="#2a2a2a" stroke-width="0.9"/>
<rect x="388.49" y="518.49" width="3.42" height="3.42" fill="#111"/>
<text x="399.1" y="522.8" font-size="7.1">UCP1 KO+Rhamnose</text>
<rect x="469" y="435.2" width="8.8" height="4.2" fill="#1a1a1a" stroke="#2a2a2a" stroke-width="0.6"/>
<text x="478.8" y="440" font-size="7.4">UCP1 KO</text>
<text x="479.9" y="448.5" font-size="7.2">+Control</text>
<rect x="469" y="450.8" width="8.8" height="4.2" fill="#a39a96" stroke="#2a2a2a" stroke-width="0.6"/>
<text x="478.8" y="455.7" font-size="7.4">UCP1 KO</text>
<text x="480" y="464.9" font-size="6.95">+Rhamnose</text>
<line x1="488" y1="473.3" x2="488" y2="511.4" stroke="#2a2a2a" stroke-width="0.8"/>
<line x1="486" y1="511.4" x2="488" y2="511.4" stroke="#2a2a2a" stroke-width="0.8"/>
<text x="485.5" y="514.5" font-size="8.6" text-anchor="end">0</text>
<line x1="486" y1="498.7" x2="488" y2="498.7" stroke="#2a2a2a" stroke-width="0.8"/>
<text x="485.5" y="501.8" font-size="8.6" text-anchor="end">20</text>
<line x1="486" y1="486" x2="488" y2="486" stroke="#2a2a2a" stroke-width="0.8"/>
<text x="485.5" y="489.1" font-size="8.6" text-anchor="end">40</text>
<line x1="486" y1="473.3" x2="488" y2="473.3" stroke="#2a2a2a" stroke-width="0.8"/>
<text x="485.5" y="476.4" font-size="8.6" text-anchor="end">60</text>
<text x="474.6" y="489.8" font-size="8.8" text-anchor="middle" transform="rotate(-90 474.6 489.8)">AUC</text>
<line x1="488" y1="511.4" x2="507.6" y2="511.4" stroke="#2a2a2a" stroke-width="0.8"/>
<line x1="494.5" y1="477.75" x2="494.5" y2="477.11" stroke="#2a2a2a" stroke-width="0.7"/>
<line x1="493" y1="477.11" x2="496" y2="477.11" stroke="#2a2a2a" stroke-width="0.7"/>
<rect x="491.8" y="477.75" width="5.4" height="33.65" fill="#1a1a1a" stroke="#2a2a2a" stroke-width="0.85"/>
<line x1="501.75" y1="479.01" x2="501.75" y2="478.06" stroke="#2a2a2a" stroke-width="0.7"/>
<line x1="500.25" y1="478.06" x2="503.25" y2="478.06" stroke="#2a2a2a" stroke-width="0.7"/>
<rect x="498.8" y="479.01" width="5.9" height="32.38" fill="#a39a96" stroke="#2a2a2a" stroke-width="0.85"/>
<polyline points="494.6,477 494.6,473.6 501.6,473.6 501.6,477" fill="none" stroke="#2a2a2a" stroke-width="0.7"/>
<text x="498.1" y="473.4" font-size="8.4" text-anchor="middle">ns</text>
</svg>
</body></html>
